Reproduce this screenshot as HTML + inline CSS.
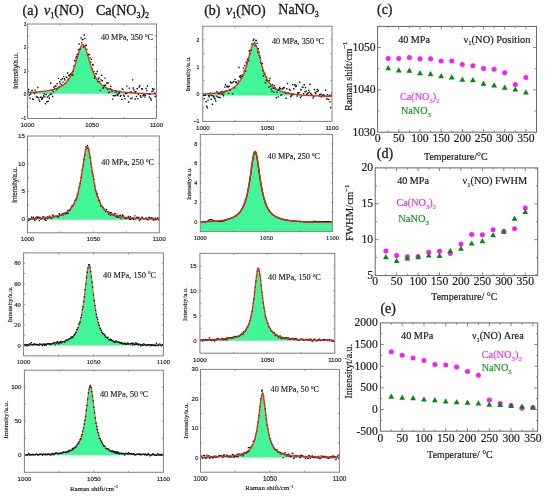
<!DOCTYPE html><html><head><meta charset="utf-8"><style>html,body{margin:0;padding:0;background:#fff;}svg{display:block;}</style></head><body><svg width="550" height="497" viewBox="0 0 550 497" style="will-change:transform">
<rect width="550" height="497" fill="#fff"/>
<clipPath id="a1"><rect x="27.5" y="24" width="129.0" height="94.5"/></clipPath>
<g clip-path="url(#a1)">
<polygon points="27.50,93.69 27.50,92.45 27.82,92.44 28.14,92.43 28.47,92.41 28.79,92.40 29.11,92.38 29.43,92.37 29.76,92.35 30.08,92.34 30.40,92.32 30.73,92.31 31.05,92.29 31.37,92.28 31.69,92.26 32.02,92.24 32.34,92.22 32.66,92.21 32.98,92.19 33.30,92.17 33.63,92.15 33.95,92.13 34.27,92.11 34.59,92.09 34.92,92.07 35.24,92.05 35.56,92.03 35.88,92.01 36.21,91.98 36.53,91.96 36.85,91.94 37.17,91.91 37.50,91.89 37.82,91.86 38.14,91.84 38.47,91.81 38.79,91.78 39.11,91.76 39.43,91.73 39.76,91.70 40.08,91.67 40.40,91.64 40.72,91.61 41.05,91.58 41.37,91.54 41.69,91.51 42.01,91.48 42.34,91.44 42.66,91.41 42.98,91.37 43.30,91.33 43.62,91.29 43.95,91.26 44.27,91.22 44.59,91.17 44.92,91.13 45.24,91.09 45.56,91.04 45.88,91.00 46.20,90.95 46.53,90.90 46.85,90.86 47.17,90.81 47.50,90.75 47.82,90.70 48.14,90.65 48.46,90.59 48.78,90.53 49.11,90.47 49.43,90.41 49.75,90.35 50.08,90.29 50.40,90.22 50.72,90.15 51.04,90.08 51.36,90.01 51.69,89.94 52.01,89.86 52.33,89.79 52.66,89.71 52.98,89.62 53.30,89.54 53.62,89.45 53.94,89.36 54.27,89.27 54.59,89.17 54.91,89.07 55.23,88.97 55.56,88.86 55.88,88.76 56.20,88.64 56.53,88.53 56.85,88.41 57.17,88.29 57.49,88.16 57.81,88.03 58.14,87.89 58.46,87.75 58.78,87.61 59.11,87.46 59.43,87.30 59.75,87.14 60.07,86.97 60.40,86.80 60.72,86.62 61.04,86.44 61.36,86.24 61.69,86.05 62.01,85.84 62.33,85.62 62.65,85.40 62.98,85.17 63.30,84.93 63.62,84.68 63.94,84.43 64.26,84.16 64.59,83.88 64.91,83.59 65.23,83.29 65.56,82.98 65.88,82.65 66.20,82.31 66.52,81.96 66.84,81.59 67.17,81.21 67.49,80.81 67.81,80.39 68.13,79.96 68.46,79.51 68.78,79.04 69.10,78.55 69.43,78.04 69.75,77.51 70.07,76.96 70.39,76.38 70.72,75.78 71.04,75.16 71.36,74.51 71.68,73.83 72.00,73.13 72.33,72.39 72.65,71.63 72.97,70.84 73.29,70.02 73.62,69.17 73.94,68.29 74.26,67.38 74.59,66.44 74.91,65.47 75.23,64.48 75.55,63.46 75.88,62.41 76.20,61.35 76.52,60.26 76.84,59.16 77.16,58.05 77.49,56.94 77.81,55.82 78.13,54.71 78.46,53.62 78.78,52.55 79.10,51.50 79.42,50.50 79.75,49.54 80.07,48.65 80.39,47.82 80.71,47.06 81.03,46.40 81.36,45.83 81.68,45.36 82.00,45.00 82.32,44.75 82.65,44.62 82.97,44.62 83.29,44.73 83.62,44.95 83.94,45.29 84.26,45.75 84.58,46.30 84.91,46.95 85.23,47.69 85.55,48.51 85.87,49.40 86.19,50.35 86.52,51.35 86.84,52.39 87.16,53.47 87.49,54.56 87.81,55.67 88.13,56.79 88.45,57.91 88.78,59.03 89.10,60.14 89.42,61.23 89.74,62.30 90.06,63.36 90.39,64.39 90.71,65.39 91.03,66.37 91.35,67.32 91.68,68.24 92.00,69.13 92.32,69.99 92.64,70.82 92.97,71.62 93.29,72.40 93.61,73.14 93.94,73.85 94.26,74.54 94.58,75.20 94.90,75.84 95.23,76.45 95.55,77.03 95.87,77.60 96.19,78.14 96.52,78.65 96.84,79.15 97.16,79.63 97.48,80.09 97.81,80.53 98.13,80.95 98.45,81.36 98.77,81.75 99.10,82.12 99.42,82.48 99.74,82.83 100.06,83.16 100.38,83.48 100.71,83.79 101.03,84.09 101.35,84.38 101.67,84.65 102.00,84.91 102.32,85.17 102.64,85.42 102.96,85.65 103.29,85.88 103.61,86.10 103.93,86.31 104.25,86.52 104.58,86.72 104.90,86.91 105.22,87.09 105.55,87.27 105.87,87.44 106.19,87.61 106.51,87.77 106.83,87.93 107.16,88.08 107.48,88.22 107.80,88.37 108.12,88.50 108.45,88.64 108.77,88.77 109.09,88.89 109.42,89.01 109.74,89.13 110.06,89.24 110.38,89.35 110.70,89.46 111.03,89.56 111.35,89.67 111.67,89.76 112.00,89.86 112.32,89.95 112.64,90.04 112.96,90.13 113.29,90.22 113.61,90.30 113.93,90.38 114.25,90.46 114.58,90.54 114.90,90.61 115.22,90.68 115.54,90.75 115.87,90.82 116.19,90.89 116.51,90.96 116.83,91.02 117.15,91.08 117.48,91.14 117.80,91.20 118.12,91.26 118.44,91.32 118.77,91.37 119.09,91.43 119.41,91.48 119.73,91.53 120.06,91.58 120.38,91.63 120.70,91.68 121.02,91.73 121.35,91.77 121.67,91.82 121.99,91.86 122.31,91.90 122.64,91.95 122.96,91.99 123.28,92.03 123.61,92.07 123.93,92.11 124.25,92.14 124.57,92.18 124.89,92.22 125.22,92.25 125.54,92.29 125.86,92.32 126.19,92.36 126.51,92.39 126.83,92.42 127.15,92.45 127.48,92.49 127.80,92.52 128.12,92.55 128.44,92.58 128.76,92.60 129.09,92.63 129.41,92.66 129.73,92.69 130.06,92.71 130.38,92.74 130.70,92.77 131.02,92.79 131.35,92.82 131.67,92.84 131.99,92.87 132.31,92.89 132.63,92.91 132.96,92.94 133.28,92.96 133.60,92.98 133.93,93.00 134.25,93.03 134.57,93.05 134.89,93.07 135.21,93.09 135.54,93.11 135.86,93.13 136.18,93.15 136.50,93.17 136.83,93.19 137.15,93.21 137.47,93.22 137.80,93.24 138.12,93.26 138.44,93.28 138.76,93.30 139.08,93.31 139.41,93.33 139.73,93.35 140.05,93.36 140.38,93.38 140.70,93.39 141.02,93.41 141.34,93.43 141.67,93.44 141.99,93.46 142.31,93.47 142.63,93.49 142.95,93.50 143.28,93.52 143.60,93.53 143.92,93.54 144.25,93.56 144.57,93.57 144.89,93.58 145.21,93.60 145.54,93.61 145.86,93.62 146.18,93.64 146.50,93.65 146.82,93.66 147.15,93.67 147.47,93.69 147.79,93.69 148.12,93.69 148.44,93.69 148.76,93.69 149.08,93.69 149.40,93.69 149.73,93.69 150.05,93.69 150.37,93.69 150.69,93.69 151.02,93.69 151.34,93.69 151.66,93.69 151.99,93.69 152.31,93.69 152.63,93.69 152.95,93.69 153.27,93.69 153.60,93.69 153.92,93.69 154.24,93.69 154.56,93.69 154.89,93.69 155.21,93.69 155.53,93.69 155.85,93.69 156.18,93.69 156.50,93.69 156.50,93.69" fill="#42f597"/>
<path d="M26.80,96.09h1.40v1.40h-1.40zM27.45,90.68h1.40v1.40h-1.40zM28.09,88.76h1.40v1.40h-1.40zM28.73,94.37h1.40v1.40h-1.40zM29.38,97.53h1.40v1.40h-1.40zM30.03,93.32h1.40v1.40h-1.40zM30.67,91.65h1.40v1.40h-1.40zM31.32,89.72h1.40v1.40h-1.40zM31.96,98.18h1.40v1.40h-1.40zM32.60,98.71h1.40v1.40h-1.40zM33.25,91.88h1.40v1.40h-1.40zM33.89,92.96h1.40v1.40h-1.40zM34.54,89.46h1.40v1.40h-1.40zM35.18,91.66h1.40v1.40h-1.40zM35.83,95.75h1.40v1.40h-1.40zM36.47,96.61h1.40v1.40h-1.40zM37.12,86.78h1.40v1.40h-1.40zM37.77,97.15h1.40v1.40h-1.40zM38.41,99.15h1.40v1.40h-1.40zM39.05,100.64h1.40v1.40h-1.40zM39.70,96.51h1.40v1.40h-1.40zM40.34,96.56h1.40v1.40h-1.40zM40.99,98.53h1.40v1.40h-1.40zM41.63,97.75h1.40v1.40h-1.40zM42.28,96.79h1.40v1.40h-1.40zM42.92,95.03h1.40v1.40h-1.40zM43.57,93.32h1.40v1.40h-1.40zM44.22,96.19h1.40v1.40h-1.40zM44.86,102.99h1.40v1.40h-1.40zM45.50,93.87h1.40v1.40h-1.40zM46.15,101.09h1.40v1.40h-1.40zM46.80,96.37h1.40v1.40h-1.40zM47.44,100.68h1.40v1.40h-1.40zM48.08,95.14h1.40v1.40h-1.40zM48.73,97.59h1.40v1.40h-1.40zM49.38,93.75h1.40v1.40h-1.40zM50.02,82.48h1.40v1.40h-1.40zM50.66,93.32h1.40v1.40h-1.40zM51.31,89.13h1.40v1.40h-1.40zM51.95,95.76h1.40v1.40h-1.40zM52.60,91.04h1.40v1.40h-1.40zM53.24,86.61h1.40v1.40h-1.40zM53.89,88.21h1.40v1.40h-1.40zM54.53,85.48h1.40v1.40h-1.40zM55.18,85.33h1.40v1.40h-1.40zM55.83,88.93h1.40v1.40h-1.40zM56.47,83.03h1.40v1.40h-1.40zM57.11,87.55h1.40v1.40h-1.40zM57.76,77.66h1.40v1.40h-1.40zM58.41,85.69h1.40v1.40h-1.40zM59.05,81.05h1.40v1.40h-1.40zM59.70,83.04h1.40v1.40h-1.40zM60.34,79.21h1.40v1.40h-1.40zM60.98,84.23h1.40v1.40h-1.40zM61.63,78.04h1.40v1.40h-1.40zM62.27,81.47h1.40v1.40h-1.40zM62.92,75.96h1.40v1.40h-1.40zM63.56,77.96h1.40v1.40h-1.40zM64.21,79.35h1.40v1.40h-1.40zM64.86,82.26h1.40v1.40h-1.40zM65.50,76.36h1.40v1.40h-1.40zM66.14,76.95h1.40v1.40h-1.40zM66.79,72.27h1.40v1.40h-1.40zM67.43,78.83h1.40v1.40h-1.40zM68.08,74.86h1.40v1.40h-1.40zM68.73,74.28h1.40v1.40h-1.40zM69.37,74.25h1.40v1.40h-1.40zM70.02,73.59h1.40v1.40h-1.40zM70.66,72.66h1.40v1.40h-1.40zM71.30,74.29h1.40v1.40h-1.40zM71.95,74.53h1.40v1.40h-1.40zM72.59,70.61h1.40v1.40h-1.40zM73.24,65.26h1.40v1.40h-1.40zM73.89,60.03h1.40v1.40h-1.40zM74.53,59.84h1.40v1.40h-1.40zM75.17,57.39h1.40v1.40h-1.40zM75.82,56.10h1.40v1.40h-1.40zM76.46,54.05h1.40v1.40h-1.40zM77.11,53.53h1.40v1.40h-1.40zM77.76,49.12h1.40v1.40h-1.40zM78.40,43.34h1.40v1.40h-1.40zM79.05,48.71h1.40v1.40h-1.40zM79.69,48.16h1.40v1.40h-1.40zM80.33,37.22h1.40v1.40h-1.40zM80.98,42.14h1.40v1.40h-1.40zM81.62,38.84h1.40v1.40h-1.40zM82.27,38.93h1.40v1.40h-1.40zM82.92,46.27h1.40v1.40h-1.40zM83.56,34.30h1.40v1.40h-1.40zM84.20,37.72h1.40v1.40h-1.40zM84.85,44.82h1.40v1.40h-1.40zM85.49,44.54h1.40v1.40h-1.40zM86.14,48.71h1.40v1.40h-1.40zM86.79,54.38h1.40v1.40h-1.40zM87.43,53.79h1.40v1.40h-1.40zM88.08,54.22h1.40v1.40h-1.40zM88.72,53.71h1.40v1.40h-1.40zM89.36,57.19h1.40v1.40h-1.40zM90.01,61.44h1.40v1.40h-1.40zM90.65,58.70h1.40v1.40h-1.40zM91.30,67.92h1.40v1.40h-1.40zM91.94,64.02h1.40v1.40h-1.40zM92.59,64.38h1.40v1.40h-1.40zM93.23,70.73h1.40v1.40h-1.40zM93.88,77.30h1.40v1.40h-1.40zM94.53,75.64h1.40v1.40h-1.40zM95.17,72.95h1.40v1.40h-1.40zM95.81,73.20h1.40v1.40h-1.40zM96.46,70.79h1.40v1.40h-1.40zM97.11,80.95h1.40v1.40h-1.40zM97.75,78.44h1.40v1.40h-1.40zM98.40,77.13h1.40v1.40h-1.40zM99.04,80.92h1.40v1.40h-1.40zM99.68,89.63h1.40v1.40h-1.40zM100.33,79.20h1.40v1.40h-1.40zM100.97,74.65h1.40v1.40h-1.40zM101.62,80.02h1.40v1.40h-1.40zM102.26,87.54h1.40v1.40h-1.40zM102.91,86.42h1.40v1.40h-1.40zM103.55,84.81h1.40v1.40h-1.40zM104.20,77.39h1.40v1.40h-1.40zM104.84,84.60h1.40v1.40h-1.40zM105.49,86.95h1.40v1.40h-1.40zM106.13,82.37h1.40v1.40h-1.40zM106.78,88.70h1.40v1.40h-1.40zM107.42,82.31h1.40v1.40h-1.40zM108.07,91.82h1.40v1.40h-1.40zM108.72,91.54h1.40v1.40h-1.40zM109.36,87.76h1.40v1.40h-1.40zM110.00,85.71h1.40v1.40h-1.40zM110.65,88.86h1.40v1.40h-1.40zM111.30,90.53h1.40v1.40h-1.40zM111.94,98.46h1.40v1.40h-1.40zM112.59,94.92h1.40v1.40h-1.40zM113.23,94.94h1.40v1.40h-1.40zM113.88,95.05h1.40v1.40h-1.40zM114.52,91.45h1.40v1.40h-1.40zM115.17,94.77h1.40v1.40h-1.40zM115.81,90.84h1.40v1.40h-1.40zM116.45,93.38h1.40v1.40h-1.40zM117.10,94.89h1.40v1.40h-1.40zM117.74,93.32h1.40v1.40h-1.40zM118.39,92.24h1.40v1.40h-1.40zM119.03,90.74h1.40v1.40h-1.40zM119.68,95.49h1.40v1.40h-1.40zM120.32,94.63h1.40v1.40h-1.40zM120.97,98.65h1.40v1.40h-1.40zM121.61,88.14h1.40v1.40h-1.40zM122.26,88.67h1.40v1.40h-1.40zM122.91,94.45h1.40v1.40h-1.40zM123.55,95.50h1.40v1.40h-1.40zM124.19,98.02h1.40v1.40h-1.40zM124.84,92.88h1.40v1.40h-1.40zM125.48,92.58h1.40v1.40h-1.40zM126.13,85.41h1.40v1.40h-1.40zM126.78,92.09h1.40v1.40h-1.40zM127.42,95.55h1.40v1.40h-1.40zM128.06,101.28h1.40v1.40h-1.40zM128.71,87.44h1.40v1.40h-1.40zM129.36,91.58h1.40v1.40h-1.40zM130.00,97.77h1.40v1.40h-1.40zM130.65,91.24h1.40v1.40h-1.40zM131.29,97.39h1.40v1.40h-1.40zM131.94,79.17h1.40v1.40h-1.40zM132.58,87.35h1.40v1.40h-1.40zM133.23,89.09h1.40v1.40h-1.40zM133.87,91.55h1.40v1.40h-1.40zM134.51,98.32h1.40v1.40h-1.40zM135.16,90.99h1.40v1.40h-1.40zM135.81,95.85h1.40v1.40h-1.40zM136.45,88.03h1.40v1.40h-1.40zM137.10,97.88h1.40v1.40h-1.40zM137.74,93.67h1.40v1.40h-1.40zM138.38,86.28h1.40v1.40h-1.40zM139.03,84.93h1.40v1.40h-1.40zM139.68,95.09h1.40v1.40h-1.40zM140.32,96.49h1.40v1.40h-1.40zM140.97,88.09h1.40v1.40h-1.40zM141.61,88.33h1.40v1.40h-1.40zM142.25,95.00h1.40v1.40h-1.40zM142.90,94.11h1.40v1.40h-1.40zM143.55,94.25h1.40v1.40h-1.40zM144.19,96.15h1.40v1.40h-1.40zM144.84,94.49h1.40v1.40h-1.40zM145.48,87.80h1.40v1.40h-1.40zM146.12,89.93h1.40v1.40h-1.40zM146.77,85.23h1.40v1.40h-1.40zM147.42,92.96h1.40v1.40h-1.40zM148.06,93.28h1.40v1.40h-1.40zM148.70,96.42h1.40v1.40h-1.40zM149.35,93.52h1.40v1.40h-1.40zM150.00,97.76h1.40v1.40h-1.40zM150.64,99.42h1.40v1.40h-1.40zM151.29,90.67h1.40v1.40h-1.40zM151.93,88.06h1.40v1.40h-1.40zM152.57,90.22h1.40v1.40h-1.40zM153.22,88.48h1.40v1.40h-1.40zM153.87,92.33h1.40v1.40h-1.40zM154.51,95.79h1.40v1.40h-1.40zM155.16,92.96h1.40v1.40h-1.40zM155.80,94.61h1.40v1.40h-1.40z" fill="#111"/>
<polyline points="27.50,92.45 27.82,92.44 28.14,92.43 28.47,92.41 28.79,92.40 29.11,92.38 29.43,92.37 29.76,92.35 30.08,92.34 30.40,92.32 30.73,92.31 31.05,92.29 31.37,92.28 31.69,92.26 32.02,92.24 32.34,92.22 32.66,92.21 32.98,92.19 33.30,92.17 33.63,92.15 33.95,92.13 34.27,92.11 34.59,92.09 34.92,92.07 35.24,92.05 35.56,92.03 35.88,92.01 36.21,91.98 36.53,91.96 36.85,91.94 37.17,91.91 37.50,91.89 37.82,91.86 38.14,91.84 38.47,91.81 38.79,91.78 39.11,91.76 39.43,91.73 39.76,91.70 40.08,91.67 40.40,91.64 40.72,91.61 41.05,91.58 41.37,91.54 41.69,91.51 42.01,91.48 42.34,91.44 42.66,91.41 42.98,91.37 43.30,91.33 43.62,91.29 43.95,91.26 44.27,91.22 44.59,91.17 44.92,91.13 45.24,91.09 45.56,91.04 45.88,91.00 46.20,90.95 46.53,90.90 46.85,90.86 47.17,90.81 47.50,90.75 47.82,90.70 48.14,90.65 48.46,90.59 48.78,90.53 49.11,90.47 49.43,90.41 49.75,90.35 50.08,90.29 50.40,90.22 50.72,90.15 51.04,90.08 51.36,90.01 51.69,89.94 52.01,89.86 52.33,89.79 52.66,89.71 52.98,89.62 53.30,89.54 53.62,89.45 53.94,89.36 54.27,89.27 54.59,89.17 54.91,89.07 55.23,88.97 55.56,88.86 55.88,88.76 56.20,88.64 56.53,88.53 56.85,88.41 57.17,88.29 57.49,88.16 57.81,88.03 58.14,87.89 58.46,87.75 58.78,87.61 59.11,87.46 59.43,87.30 59.75,87.14 60.07,86.97 60.40,86.80 60.72,86.62 61.04,86.44 61.36,86.24 61.69,86.05 62.01,85.84 62.33,85.62 62.65,85.40 62.98,85.17 63.30,84.93 63.62,84.68 63.94,84.43 64.26,84.16 64.59,83.88 64.91,83.59 65.23,83.29 65.56,82.98 65.88,82.65 66.20,82.31 66.52,81.96 66.84,81.59 67.17,81.21 67.49,80.81 67.81,80.39 68.13,79.96 68.46,79.51 68.78,79.04 69.10,78.55 69.43,78.04 69.75,77.51 70.07,76.96 70.39,76.38 70.72,75.78 71.04,75.16 71.36,74.51 71.68,73.83 72.00,73.13 72.33,72.39 72.65,71.63 72.97,70.84 73.29,70.02 73.62,69.17 73.94,68.29 74.26,67.38 74.59,66.44 74.91,65.47 75.23,64.48 75.55,63.46 75.88,62.41 76.20,61.35 76.52,60.26 76.84,59.16 77.16,58.05 77.49,56.94 77.81,55.82 78.13,54.71 78.46,53.62 78.78,52.55 79.10,51.50 79.42,50.50 79.75,49.54 80.07,48.65 80.39,47.82 80.71,47.06 81.03,46.40 81.36,45.83 81.68,45.36 82.00,45.00 82.32,44.75 82.65,44.62 82.97,44.62 83.29,44.73 83.62,44.95 83.94,45.29 84.26,45.75 84.58,46.30 84.91,46.95 85.23,47.69 85.55,48.51 85.87,49.40 86.19,50.35 86.52,51.35 86.84,52.39 87.16,53.47 87.49,54.56 87.81,55.67 88.13,56.79 88.45,57.91 88.78,59.03 89.10,60.14 89.42,61.23 89.74,62.30 90.06,63.36 90.39,64.39 90.71,65.39 91.03,66.37 91.35,67.32 91.68,68.24 92.00,69.13 92.32,69.99 92.64,70.82 92.97,71.62 93.29,72.40 93.61,73.14 93.94,73.85 94.26,74.54 94.58,75.20 94.90,75.84 95.23,76.45 95.55,77.03 95.87,77.60 96.19,78.14 96.52,78.65 96.84,79.15 97.16,79.63 97.48,80.09 97.81,80.53 98.13,80.95 98.45,81.36 98.77,81.75 99.10,82.12 99.42,82.48 99.74,82.83 100.06,83.16 100.38,83.48 100.71,83.79 101.03,84.09 101.35,84.38 101.67,84.65 102.00,84.91 102.32,85.17 102.64,85.42 102.96,85.65 103.29,85.88 103.61,86.10 103.93,86.31 104.25,86.52 104.58,86.72 104.90,86.91 105.22,87.09 105.55,87.27 105.87,87.44 106.19,87.61 106.51,87.77 106.83,87.93 107.16,88.08 107.48,88.22 107.80,88.37 108.12,88.50 108.45,88.64 108.77,88.77 109.09,88.89 109.42,89.01 109.74,89.13 110.06,89.24 110.38,89.35 110.70,89.46 111.03,89.56 111.35,89.67 111.67,89.76 112.00,89.86 112.32,89.95 112.64,90.04 112.96,90.13 113.29,90.22 113.61,90.30 113.93,90.38 114.25,90.46 114.58,90.54 114.90,90.61 115.22,90.68 115.54,90.75 115.87,90.82 116.19,90.89 116.51,90.96 116.83,91.02 117.15,91.08 117.48,91.14 117.80,91.20 118.12,91.26 118.44,91.32 118.77,91.37 119.09,91.43 119.41,91.48 119.73,91.53 120.06,91.58 120.38,91.63 120.70,91.68 121.02,91.73 121.35,91.77 121.67,91.82 121.99,91.86 122.31,91.90 122.64,91.95 122.96,91.99 123.28,92.03 123.61,92.07 123.93,92.11 124.25,92.14 124.57,92.18 124.89,92.22 125.22,92.25 125.54,92.29 125.86,92.32 126.19,92.36 126.51,92.39 126.83,92.42 127.15,92.45 127.48,92.49 127.80,92.52 128.12,92.55 128.44,92.58 128.76,92.60 129.09,92.63 129.41,92.66 129.73,92.69 130.06,92.71 130.38,92.74 130.70,92.77 131.02,92.79 131.35,92.82 131.67,92.84 131.99,92.87 132.31,92.89 132.63,92.91 132.96,92.94 133.28,92.96 133.60,92.98 133.93,93.00 134.25,93.03 134.57,93.05 134.89,93.07 135.21,93.09 135.54,93.11 135.86,93.13 136.18,93.15 136.50,93.17 136.83,93.19 137.15,93.21 137.47,93.22 137.80,93.24 138.12,93.26 138.44,93.28 138.76,93.30 139.08,93.31 139.41,93.33 139.73,93.35 140.05,93.36 140.38,93.38 140.70,93.39 141.02,93.41 141.34,93.43 141.67,93.44 141.99,93.46 142.31,93.47 142.63,93.49 142.95,93.50 143.28,93.52 143.60,93.53 143.92,93.54 144.25,93.56 144.57,93.57 144.89,93.58 145.21,93.60 145.54,93.61 145.86,93.62 146.18,93.64 146.50,93.65 146.82,93.66 147.15,93.67 147.47,93.69 147.79,93.70 148.12,93.71 148.44,93.72 148.76,93.73 149.08,93.75 149.40,93.76 149.73,93.77 150.05,93.78 150.37,93.79 150.69,93.80 151.02,93.81 151.34,93.82 151.66,93.83 151.99,93.84 152.31,93.85 152.63,93.87 152.95,93.88 153.27,93.89 153.60,93.90 153.92,93.91 154.24,93.91 154.56,93.92 154.89,93.93 155.21,93.94 155.53,93.95 155.85,93.96 156.18,93.97 156.50,93.98" fill="none" stroke="#e8261c" stroke-width="1.3" stroke-linejoin="round"/>
</g>
<rect x="27.5" y="24" width="129.0" height="94.5" fill="none" stroke="#808080" stroke-width="1"/>
<path d="M59.75,118.5v-1.6M59.75,24v1.6M92.00,118.5v-1.6M92.00,24v1.6M124.25,118.5v-1.6M124.25,24v1.6M27.5,106.69h1.6M156.5,106.69h-1.6M27.5,94.88h1.6M156.5,94.88h-1.6M27.5,83.06h1.6M156.5,83.06h-1.6M27.5,71.25h1.6M156.5,71.25h-1.6M27.5,59.44h1.6M156.5,59.44h-1.6M27.5,47.62h1.6M156.5,47.62h-1.6M27.5,35.81h1.6M156.5,35.81h-1.6" stroke="#808080" stroke-width="0.8" fill="none"/>
<text x="27.50" y="126.80" font-family="'Liberation Sans', sans-serif" font-size="6.1" text-anchor="middle" fill="#1e1e1e" stroke="#1e1e1e" stroke-width="0.16">1000</text>
<text x="92.00" y="126.80" font-family="'Liberation Sans', sans-serif" font-size="6.1" text-anchor="middle" fill="#1e1e1e" stroke="#1e1e1e" stroke-width="0.16">1050</text>
<text x="156.50" y="126.80" font-family="'Liberation Sans', sans-serif" font-size="6.1" text-anchor="middle" fill="#1e1e1e" stroke="#1e1e1e" stroke-width="0.16">1100</text>
<text x="26.20" y="120.06" font-family="'Liberation Sans', sans-serif" font-size="4.6" text-anchor="end" fill="#1e1e1e" stroke="#1e1e1e" stroke-width="0.16">&#8722;1</text>
<text x="26.20" y="96.44" font-family="'Liberation Sans', sans-serif" font-size="4.6" text-anchor="end" fill="#1e1e1e" stroke="#1e1e1e" stroke-width="0.16">0</text>
<text x="26.20" y="72.81" font-family="'Liberation Sans', sans-serif" font-size="4.6" text-anchor="end" fill="#1e1e1e" stroke="#1e1e1e" stroke-width="0.16">1</text>
<text x="26.20" y="49.19" font-family="'Liberation Sans', sans-serif" font-size="4.6" text-anchor="end" fill="#1e1e1e" stroke="#1e1e1e" stroke-width="0.16">2</text>
<text x="26.20" y="25.56" font-family="'Liberation Sans', sans-serif" font-size="4.6" text-anchor="end" fill="#1e1e1e" stroke="#1e1e1e" stroke-width="0.16">3</text>
<text x="18.30" y="70.80" font-family="'Liberation Sans', sans-serif" font-size="6.4" text-anchor="middle" fill="#1e1e1e" stroke="#1e1e1e" stroke-width="0.16" transform="rotate(-90 18.30 70.80)" textLength="36" lengthAdjust="spacingAndGlyphs">Intensity/a.u.</text>
<text x="100.90" y="39.70" font-family="'Liberation Serif', serif" font-size="8.6" text-anchor="start" fill="#1a1a1a" stroke="#1a1a1a" stroke-width="0.15" textLength="52" lengthAdjust="spacingAndGlyphs">40 MPa, 350 <tspan font-size="5.16" dy="-3.01">o</tspan><tspan dy="3.01">C</tspan></text>
<clipPath id="a2"><rect x="27.5" y="136" width="131.8" height="96.80000000000001"/></clipPath>
<g clip-path="url(#a2)">
<polygon points="27.50,219.64 27.50,218.79 27.83,218.78 28.16,218.77 28.49,218.76 28.82,218.75 29.15,218.74 29.48,218.72 29.81,218.71 30.14,218.70 30.47,218.69 30.80,218.67 31.12,218.66 31.45,218.65 31.78,218.63 32.11,218.62 32.44,218.61 32.77,218.59 33.10,218.58 33.43,218.56 33.76,218.55 34.09,218.53 34.42,218.52 34.75,218.50 35.08,218.48 35.41,218.47 35.74,218.45 36.07,218.43 36.40,218.42 36.73,218.40 37.06,218.38 37.38,218.36 37.71,218.34 38.04,218.32 38.37,218.30 38.70,218.28 39.03,218.26 39.36,218.24 39.69,218.22 40.02,218.20 40.35,218.18 40.68,218.16 41.01,218.13 41.34,218.11 41.67,218.08 42.00,218.06 42.33,218.04 42.66,218.01 42.99,217.98 43.32,217.96 43.65,217.93 43.98,217.90 44.30,217.87 44.63,217.84 44.96,217.81 45.29,217.78 45.62,217.75 45.95,217.72 46.28,217.69 46.61,217.65 46.94,217.62 47.27,217.59 47.60,217.55 47.93,217.51 48.26,217.47 48.59,217.44 48.92,217.40 49.25,217.36 49.58,217.31 49.91,217.27 50.24,217.23 50.56,217.18 50.89,217.14 51.22,217.09 51.55,217.04 51.88,216.99 52.21,216.94 52.54,216.89 52.87,216.83 53.20,216.78 53.53,216.72 53.86,216.66 54.19,216.60 54.52,216.54 54.85,216.48 55.18,216.41 55.51,216.35 55.84,216.28 56.17,216.20 56.50,216.13 56.83,216.05 57.16,215.98 57.48,215.90 57.81,215.81 58.14,215.73 58.47,215.64 58.80,215.55 59.13,215.45 59.46,215.35 59.79,215.25 60.12,215.15 60.45,215.04 60.78,214.93 61.11,214.81 61.44,214.69 61.77,214.57 62.10,214.44 62.43,214.31 62.76,214.17 63.09,214.03 63.42,213.88 63.75,213.73 64.07,213.57 64.40,213.40 64.73,213.23 65.06,213.05 65.39,212.87 65.72,212.67 66.05,212.47 66.38,212.26 66.71,212.04 67.04,211.82 67.37,211.58 67.70,211.33 68.03,211.07 68.36,210.80 68.69,210.52 69.02,210.22 69.35,209.92 69.68,209.59 70.01,209.26 70.34,208.90 70.66,208.53 70.99,208.14 71.32,207.73 71.65,207.30 71.98,206.85 72.31,206.38 72.64,205.88 72.97,205.36 73.30,204.81 73.63,204.23 73.96,203.62 74.29,202.97 74.62,202.29 74.95,201.58 75.28,200.82 75.61,200.02 75.94,199.18 76.27,198.29 76.60,197.35 76.93,196.35 77.25,195.30 77.58,194.19 77.91,193.02 78.24,191.78 78.57,190.47 78.90,189.09 79.23,187.64 79.56,186.11 79.89,184.50 80.22,182.81 80.55,181.04 80.88,179.20 81.21,177.27 81.54,175.27 81.87,173.21 82.20,171.09 82.53,168.91 82.86,166.71 83.19,164.49 83.52,162.27 83.84,160.08 84.17,157.94 84.50,155.89 84.83,153.96 85.16,152.19 85.49,150.60 85.82,149.23 86.15,148.11 86.48,147.28 86.81,146.74 87.14,146.52 87.47,146.61 87.80,147.02 88.13,147.74 88.46,148.75 88.79,150.02 89.12,151.53 89.45,153.23 89.78,155.10 90.11,157.11 90.43,159.22 90.76,161.39 91.09,163.60 91.42,165.82 91.75,168.04 92.08,170.22 92.41,172.37 92.74,174.46 93.07,176.48 93.40,178.43 93.73,180.31 94.06,182.11 94.39,183.83 94.72,185.47 95.05,187.04 95.38,188.52 95.71,189.93 96.04,191.26 96.37,192.53 96.70,193.73 97.02,194.86 97.35,195.94 97.68,196.96 98.01,197.92 98.34,198.83 98.67,199.69 99.00,200.51 99.33,201.28 99.66,202.01 99.99,202.71 100.32,203.36 100.65,203.99 100.98,204.58 101.31,205.14 101.64,205.68 101.97,206.18 102.30,206.67 102.63,207.13 102.96,207.56 103.28,207.98 103.61,208.38 103.94,208.76 104.27,209.12 104.60,209.46 104.93,209.79 105.26,210.10 105.59,210.40 105.92,210.69 106.25,210.97 106.58,211.23 106.91,211.48 107.24,211.72 107.57,211.95 107.90,212.18 108.23,212.39 108.56,212.59 108.89,212.79 109.22,212.98 109.55,213.16 109.88,213.34 110.20,213.50 110.53,213.67 110.86,213.82 111.19,213.97 111.52,214.12 111.85,214.26 112.18,214.39 112.51,214.52 112.84,214.65 113.17,214.77 113.50,214.88 113.83,215.00 114.16,215.11 114.49,215.21 114.82,215.31 115.15,215.41 115.48,215.51 115.81,215.60 116.14,215.69 116.47,215.78 116.79,215.86 117.12,215.94 117.45,216.02 117.78,216.10 118.11,216.18 118.44,216.25 118.77,216.32 119.10,216.39 119.43,216.45 119.76,216.52 120.09,216.58 120.42,216.64 120.75,216.70 121.08,216.76 121.41,216.81 121.74,216.87 122.07,216.92 122.40,216.97 122.73,217.02 123.06,217.07 123.38,217.12 123.71,217.17 124.04,217.21 124.37,217.25 124.70,217.30 125.03,217.34 125.36,217.38 125.69,217.42 126.02,217.46 126.35,217.50 126.68,217.53 127.01,217.57 127.34,217.61 127.67,217.64 128.00,217.67 128.33,217.71 128.66,217.74 128.99,217.77 129.32,217.80 129.65,217.83 129.97,217.86 130.30,217.89 130.63,217.92 130.96,217.95 131.29,217.97 131.62,218.00 131.95,218.03 132.28,218.05 132.61,218.08 132.94,218.10 133.27,218.12 133.60,218.15 133.93,218.17 134.26,218.19 134.59,218.21 134.92,218.23 135.25,218.26 135.58,218.28 135.91,218.30 136.24,218.32 136.56,218.34 136.89,218.35 137.22,218.37 137.55,218.39 137.88,218.41 138.21,218.43 138.54,218.44 138.87,218.46 139.20,218.48 139.53,218.49 139.86,218.51 140.19,218.53 140.52,218.54 140.85,218.56 141.18,218.57 141.51,218.59 141.84,218.60 142.17,218.61 142.50,218.63 142.83,218.64 143.15,218.66 143.48,218.67 143.81,218.68 144.14,218.69 144.47,218.71 144.80,218.72 145.13,218.73 145.46,218.74 145.79,218.75 146.12,218.77 146.45,218.78 146.78,218.79 147.11,218.80 147.44,218.81 147.77,218.82 148.10,218.83 148.43,218.84 148.76,218.85 149.09,218.86 149.42,218.87 149.74,218.88 150.07,218.89 150.40,218.90 150.73,218.91 151.06,218.92 151.39,218.93 151.72,218.94 152.05,218.94 152.38,218.95 152.71,218.96 153.04,218.97 153.37,218.98 153.70,218.99 154.03,218.99 154.36,219.00 154.69,219.01 155.02,219.02 155.35,219.02 155.68,219.03 156.00,219.04 156.33,219.05 156.66,219.05 156.99,219.06 157.32,219.07 157.65,219.07 157.98,219.08 158.31,219.09 158.64,219.09 158.97,219.10 159.30,219.11 159.30,219.64" fill="#42f597"/>
<path d="M26.85,219.37h1.30v1.30h-1.30zM27.51,219.99h1.30v1.30h-1.30zM28.17,219.74h1.30v1.30h-1.30zM28.83,218.08h1.30v1.30h-1.30zM29.49,217.88h1.30v1.30h-1.30zM30.15,218.55h1.30v1.30h-1.30zM30.80,216.42h1.30v1.30h-1.30zM31.46,217.77h1.30v1.30h-1.30zM32.12,217.30h1.30v1.30h-1.30zM32.78,216.56h1.30v1.30h-1.30zM33.44,218.79h1.30v1.30h-1.30zM34.10,220.03h1.30v1.30h-1.30zM34.76,216.99h1.30v1.30h-1.30zM35.42,218.55h1.30v1.30h-1.30zM36.08,216.30h1.30v1.30h-1.30zM36.73,217.34h1.30v1.30h-1.30zM37.39,216.56h1.30v1.30h-1.30zM38.05,216.79h1.30v1.30h-1.30zM38.71,219.89h1.30v1.30h-1.30zM39.37,216.75h1.30v1.30h-1.30zM40.03,218.25h1.30v1.30h-1.30zM40.69,218.30h1.30v1.30h-1.30zM41.35,217.89h1.30v1.30h-1.30zM42.01,216.51h1.30v1.30h-1.30zM42.67,216.33h1.30v1.30h-1.30zM43.33,216.13h1.30v1.30h-1.30zM43.98,219.03h1.30v1.30h-1.30zM44.64,217.79h1.30v1.30h-1.30zM45.30,219.70h1.30v1.30h-1.30zM45.96,217.12h1.30v1.30h-1.30zM46.62,216.27h1.30v1.30h-1.30zM47.28,217.71h1.30v1.30h-1.30zM47.94,216.52h1.30v1.30h-1.30zM48.60,216.45h1.30v1.30h-1.30zM49.26,215.51h1.30v1.30h-1.30zM49.91,217.44h1.30v1.30h-1.30zM50.57,217.36h1.30v1.30h-1.30zM51.23,217.19h1.30v1.30h-1.30zM51.89,214.30h1.30v1.30h-1.30zM52.55,214.92h1.30v1.30h-1.30zM53.21,216.15h1.30v1.30h-1.30zM53.87,215.64h1.30v1.30h-1.30zM54.53,215.64h1.30v1.30h-1.30zM55.19,215.40h1.30v1.30h-1.30zM55.85,215.71h1.30v1.30h-1.30zM56.51,215.70h1.30v1.30h-1.30zM57.16,216.55h1.30v1.30h-1.30zM57.82,215.70h1.30v1.30h-1.30zM58.48,212.98h1.30v1.30h-1.30zM59.14,214.01h1.30v1.30h-1.30zM59.80,214.32h1.30v1.30h-1.30zM60.46,214.40h1.30v1.30h-1.30zM61.12,213.85h1.30v1.30h-1.30zM61.78,213.27h1.30v1.30h-1.30zM62.44,214.09h1.30v1.30h-1.30zM63.10,212.86h1.30v1.30h-1.30zM63.75,212.49h1.30v1.30h-1.30zM64.41,213.23h1.30v1.30h-1.30zM65.07,212.90h1.30v1.30h-1.30zM65.73,212.72h1.30v1.30h-1.30zM66.39,212.34h1.30v1.30h-1.30zM67.05,209.70h1.30v1.30h-1.30zM67.71,212.76h1.30v1.30h-1.30zM68.37,209.87h1.30v1.30h-1.30zM69.03,209.62h1.30v1.30h-1.30zM69.69,208.94h1.30v1.30h-1.30zM70.34,207.38h1.30v1.30h-1.30zM71.00,205.41h1.30v1.30h-1.30zM71.66,205.65h1.30v1.30h-1.30zM72.32,204.86h1.30v1.30h-1.30zM72.98,204.26h1.30v1.30h-1.30zM73.64,202.47h1.30v1.30h-1.30zM74.30,199.92h1.30v1.30h-1.30zM74.96,199.81h1.30v1.30h-1.30zM75.62,198.91h1.30v1.30h-1.30zM76.28,197.10h1.30v1.30h-1.30zM76.93,194.77h1.30v1.30h-1.30zM77.59,192.67h1.30v1.30h-1.30zM78.25,187.23h1.30v1.30h-1.30zM78.91,185.07h1.30v1.30h-1.30zM79.57,182.42h1.30v1.30h-1.30zM80.23,176.93h1.30v1.30h-1.30zM80.89,175.35h1.30v1.30h-1.30zM81.55,169.60h1.30v1.30h-1.30zM82.21,165.17h1.30v1.30h-1.30zM82.86,163.33h1.30v1.30h-1.30zM83.52,159.01h1.30v1.30h-1.30zM84.18,154.34h1.30v1.30h-1.30zM84.84,148.94h1.30v1.30h-1.30zM85.50,146.03h1.30v1.30h-1.30zM86.16,147.45h1.30v1.30h-1.30zM86.82,144.80h1.30v1.30h-1.30zM87.48,147.52h1.30v1.30h-1.30zM88.14,149.81h1.30v1.30h-1.30zM88.80,153.19h1.30v1.30h-1.30zM89.45,156.82h1.30v1.30h-1.30zM90.11,162.75h1.30v1.30h-1.30zM90.77,166.28h1.30v1.30h-1.30zM91.43,170.94h1.30v1.30h-1.30zM92.09,173.26h1.30v1.30h-1.30zM92.75,175.47h1.30v1.30h-1.30zM93.41,178.44h1.30v1.30h-1.30zM94.07,185.20h1.30v1.30h-1.30zM94.73,189.77h1.30v1.30h-1.30zM95.39,191.07h1.30v1.30h-1.30zM96.05,194.12h1.30v1.30h-1.30zM96.70,193.09h1.30v1.30h-1.30zM97.36,196.64h1.30v1.30h-1.30zM98.02,199.85h1.30v1.30h-1.30zM98.68,199.59h1.30v1.30h-1.30zM99.34,201.46h1.30v1.30h-1.30zM100.00,205.14h1.30v1.30h-1.30zM100.66,205.08h1.30v1.30h-1.30zM101.32,205.80h1.30v1.30h-1.30zM101.98,206.46h1.30v1.30h-1.30zM102.63,207.18h1.30v1.30h-1.30zM103.29,208.48h1.30v1.30h-1.30zM103.95,208.60h1.30v1.30h-1.30zM104.61,210.10h1.30v1.30h-1.30zM105.27,211.03h1.30v1.30h-1.30zM105.93,208.90h1.30v1.30h-1.30zM106.59,210.67h1.30v1.30h-1.30zM107.25,211.04h1.30v1.30h-1.30zM107.91,213.71h1.30v1.30h-1.30zM108.57,212.51h1.30v1.30h-1.30zM109.22,211.78h1.30v1.30h-1.30zM109.88,214.44h1.30v1.30h-1.30zM110.54,212.11h1.30v1.30h-1.30zM111.20,214.04h1.30v1.30h-1.30zM111.86,213.43h1.30v1.30h-1.30zM112.52,214.26h1.30v1.30h-1.30zM113.18,214.11h1.30v1.30h-1.30zM113.84,213.23h1.30v1.30h-1.30zM114.50,215.21h1.30v1.30h-1.30zM115.16,213.22h1.30v1.30h-1.30zM115.82,215.99h1.30v1.30h-1.30zM116.47,216.33h1.30v1.30h-1.30zM117.13,214.66h1.30v1.30h-1.30zM117.79,216.78h1.30v1.30h-1.30zM118.45,216.15h1.30v1.30h-1.30zM119.11,214.86h1.30v1.30h-1.30zM119.77,214.65h1.30v1.30h-1.30zM120.43,218.07h1.30v1.30h-1.30zM121.09,215.66h1.30v1.30h-1.30zM121.75,214.24h1.30v1.30h-1.30zM122.41,215.10h1.30v1.30h-1.30zM123.06,216.78h1.30v1.30h-1.30zM123.72,217.27h1.30v1.30h-1.30zM124.38,217.02h1.30v1.30h-1.30zM125.04,218.05h1.30v1.30h-1.30zM125.70,217.14h1.30v1.30h-1.30zM126.36,217.13h1.30v1.30h-1.30zM127.02,217.15h1.30v1.30h-1.30zM127.68,215.75h1.30v1.30h-1.30zM128.34,217.38h1.30v1.30h-1.30zM129.00,218.79h1.30v1.30h-1.30zM129.65,216.08h1.30v1.30h-1.30zM130.31,218.48h1.30v1.30h-1.30zM130.97,217.84h1.30v1.30h-1.30zM131.63,217.55h1.30v1.30h-1.30zM132.29,217.83h1.30v1.30h-1.30zM132.95,218.61h1.30v1.30h-1.30zM133.61,217.82h1.30v1.30h-1.30zM134.27,215.17h1.30v1.30h-1.30zM134.93,218.30h1.30v1.30h-1.30zM135.59,217.82h1.30v1.30h-1.30zM136.24,216.46h1.30v1.30h-1.30zM136.90,216.92h1.30v1.30h-1.30zM137.56,216.93h1.30v1.30h-1.30zM138.22,216.86h1.30v1.30h-1.30zM138.88,220.02h1.30v1.30h-1.30zM139.54,218.83h1.30v1.30h-1.30zM140.20,217.76h1.30v1.30h-1.30zM140.86,217.38h1.30v1.30h-1.30zM141.52,216.53h1.30v1.30h-1.30zM142.18,217.47h1.30v1.30h-1.30zM142.83,218.28h1.30v1.30h-1.30zM143.49,218.00h1.30v1.30h-1.30zM144.15,218.30h1.30v1.30h-1.30zM144.81,217.82h1.30v1.30h-1.30zM145.47,217.37h1.30v1.30h-1.30zM146.13,218.51h1.30v1.30h-1.30zM146.79,219.06h1.30v1.30h-1.30zM147.45,219.13h1.30v1.30h-1.30zM148.11,216.99h1.30v1.30h-1.30zM148.77,216.80h1.30v1.30h-1.30zM149.42,217.14h1.30v1.30h-1.30zM150.08,217.31h1.30v1.30h-1.30zM150.74,217.36h1.30v1.30h-1.30zM151.40,218.30h1.30v1.30h-1.30zM152.06,217.58h1.30v1.30h-1.30zM152.72,219.49h1.30v1.30h-1.30zM153.38,218.57h1.30v1.30h-1.30zM154.04,219.17h1.30v1.30h-1.30zM154.70,217.57h1.30v1.30h-1.30zM155.35,219.03h1.30v1.30h-1.30zM156.01,218.52h1.30v1.30h-1.30zM156.67,217.97h1.30v1.30h-1.30zM157.33,216.93h1.30v1.30h-1.30zM157.99,219.32h1.30v1.30h-1.30zM158.65,219.50h1.30v1.30h-1.30z" fill="#111"/>
<polyline points="27.50,218.79 27.83,218.78 28.16,218.77 28.49,218.76 28.82,218.75 29.15,218.74 29.48,218.72 29.81,218.71 30.14,218.70 30.47,218.69 30.80,218.67 31.12,218.66 31.45,218.65 31.78,218.63 32.11,218.62 32.44,218.61 32.77,218.59 33.10,218.58 33.43,218.56 33.76,218.55 34.09,218.53 34.42,218.52 34.75,218.50 35.08,218.48 35.41,218.47 35.74,218.45 36.07,218.43 36.40,218.42 36.73,218.40 37.06,218.38 37.38,218.36 37.71,218.34 38.04,218.32 38.37,218.30 38.70,218.28 39.03,218.26 39.36,218.24 39.69,218.22 40.02,218.20 40.35,218.18 40.68,218.16 41.01,218.13 41.34,218.11 41.67,218.08 42.00,218.06 42.33,218.04 42.66,218.01 42.99,217.98 43.32,217.96 43.65,217.93 43.98,217.90 44.30,217.87 44.63,217.84 44.96,217.81 45.29,217.78 45.62,217.75 45.95,217.72 46.28,217.69 46.61,217.65 46.94,217.62 47.27,217.59 47.60,217.55 47.93,217.51 48.26,217.47 48.59,217.44 48.92,217.40 49.25,217.36 49.58,217.31 49.91,217.27 50.24,217.23 50.56,217.18 50.89,217.14 51.22,217.09 51.55,217.04 51.88,216.99 52.21,216.94 52.54,216.89 52.87,216.83 53.20,216.78 53.53,216.72 53.86,216.66 54.19,216.60 54.52,216.54 54.85,216.48 55.18,216.41 55.51,216.35 55.84,216.28 56.17,216.20 56.50,216.13 56.83,216.05 57.16,215.98 57.48,215.90 57.81,215.81 58.14,215.73 58.47,215.64 58.80,215.55 59.13,215.45 59.46,215.35 59.79,215.25 60.12,215.15 60.45,215.04 60.78,214.93 61.11,214.81 61.44,214.69 61.77,214.57 62.10,214.44 62.43,214.31 62.76,214.17 63.09,214.03 63.42,213.88 63.75,213.73 64.07,213.57 64.40,213.40 64.73,213.23 65.06,213.05 65.39,212.87 65.72,212.67 66.05,212.47 66.38,212.26 66.71,212.04 67.04,211.82 67.37,211.58 67.70,211.33 68.03,211.07 68.36,210.80 68.69,210.52 69.02,210.22 69.35,209.92 69.68,209.59 70.01,209.26 70.34,208.90 70.66,208.53 70.99,208.14 71.32,207.73 71.65,207.30 71.98,206.85 72.31,206.38 72.64,205.88 72.97,205.36 73.30,204.81 73.63,204.23 73.96,203.62 74.29,202.97 74.62,202.29 74.95,201.58 75.28,200.82 75.61,200.02 75.94,199.18 76.27,198.29 76.60,197.35 76.93,196.35 77.25,195.30 77.58,194.19 77.91,193.02 78.24,191.78 78.57,190.47 78.90,189.09 79.23,187.64 79.56,186.11 79.89,184.50 80.22,182.81 80.55,181.04 80.88,179.20 81.21,177.27 81.54,175.27 81.87,173.21 82.20,171.09 82.53,168.91 82.86,166.71 83.19,164.49 83.52,162.27 83.84,160.08 84.17,157.94 84.50,155.89 84.83,153.96 85.16,152.19 85.49,150.60 85.82,149.23 86.15,148.11 86.48,147.28 86.81,146.74 87.14,146.52 87.47,146.61 87.80,147.02 88.13,147.74 88.46,148.75 88.79,150.02 89.12,151.53 89.45,153.23 89.78,155.10 90.11,157.11 90.43,159.22 90.76,161.39 91.09,163.60 91.42,165.82 91.75,168.04 92.08,170.22 92.41,172.37 92.74,174.46 93.07,176.48 93.40,178.43 93.73,180.31 94.06,182.11 94.39,183.83 94.72,185.47 95.05,187.04 95.38,188.52 95.71,189.93 96.04,191.26 96.37,192.53 96.70,193.73 97.02,194.86 97.35,195.94 97.68,196.96 98.01,197.92 98.34,198.83 98.67,199.69 99.00,200.51 99.33,201.28 99.66,202.01 99.99,202.71 100.32,203.36 100.65,203.99 100.98,204.58 101.31,205.14 101.64,205.68 101.97,206.18 102.30,206.67 102.63,207.13 102.96,207.56 103.28,207.98 103.61,208.38 103.94,208.76 104.27,209.12 104.60,209.46 104.93,209.79 105.26,210.10 105.59,210.40 105.92,210.69 106.25,210.97 106.58,211.23 106.91,211.48 107.24,211.72 107.57,211.95 107.90,212.18 108.23,212.39 108.56,212.59 108.89,212.79 109.22,212.98 109.55,213.16 109.88,213.34 110.20,213.50 110.53,213.67 110.86,213.82 111.19,213.97 111.52,214.12 111.85,214.26 112.18,214.39 112.51,214.52 112.84,214.65 113.17,214.77 113.50,214.88 113.83,215.00 114.16,215.11 114.49,215.21 114.82,215.31 115.15,215.41 115.48,215.51 115.81,215.60 116.14,215.69 116.47,215.78 116.79,215.86 117.12,215.94 117.45,216.02 117.78,216.10 118.11,216.18 118.44,216.25 118.77,216.32 119.10,216.39 119.43,216.45 119.76,216.52 120.09,216.58 120.42,216.64 120.75,216.70 121.08,216.76 121.41,216.81 121.74,216.87 122.07,216.92 122.40,216.97 122.73,217.02 123.06,217.07 123.38,217.12 123.71,217.17 124.04,217.21 124.37,217.25 124.70,217.30 125.03,217.34 125.36,217.38 125.69,217.42 126.02,217.46 126.35,217.50 126.68,217.53 127.01,217.57 127.34,217.61 127.67,217.64 128.00,217.67 128.33,217.71 128.66,217.74 128.99,217.77 129.32,217.80 129.65,217.83 129.97,217.86 130.30,217.89 130.63,217.92 130.96,217.95 131.29,217.97 131.62,218.00 131.95,218.03 132.28,218.05 132.61,218.08 132.94,218.10 133.27,218.12 133.60,218.15 133.93,218.17 134.26,218.19 134.59,218.21 134.92,218.23 135.25,218.26 135.58,218.28 135.91,218.30 136.24,218.32 136.56,218.34 136.89,218.35 137.22,218.37 137.55,218.39 137.88,218.41 138.21,218.43 138.54,218.44 138.87,218.46 139.20,218.48 139.53,218.49 139.86,218.51 140.19,218.53 140.52,218.54 140.85,218.56 141.18,218.57 141.51,218.59 141.84,218.60 142.17,218.61 142.50,218.63 142.83,218.64 143.15,218.66 143.48,218.67 143.81,218.68 144.14,218.69 144.47,218.71 144.80,218.72 145.13,218.73 145.46,218.74 145.79,218.75 146.12,218.77 146.45,218.78 146.78,218.79 147.11,218.80 147.44,218.81 147.77,218.82 148.10,218.83 148.43,218.84 148.76,218.85 149.09,218.86 149.42,218.87 149.74,218.88 150.07,218.89 150.40,218.90 150.73,218.91 151.06,218.92 151.39,218.93 151.72,218.94 152.05,218.94 152.38,218.95 152.71,218.96 153.04,218.97 153.37,218.98 153.70,218.99 154.03,218.99 154.36,219.00 154.69,219.01 155.02,219.02 155.35,219.02 155.68,219.03 156.00,219.04 156.33,219.05 156.66,219.05 156.99,219.06 157.32,219.07 157.65,219.07 157.98,219.08 158.31,219.09 158.64,219.09 158.97,219.10 159.30,219.11" fill="none" stroke="#e8261c" stroke-width="1.3" stroke-linejoin="round"/>
</g>
<rect x="27.5" y="136" width="131.8" height="96.80000000000001" fill="none" stroke="#808080" stroke-width="1"/>
<path d="M60.45,232.8v-1.6M60.45,136v1.6M93.40,232.8v-1.6M93.40,136v1.6M126.35,232.8v-1.6M126.35,136v1.6M27.5,218.97h1.6M159.3,218.97h-1.6M27.5,205.14h1.6M159.3,205.14h-1.6M27.5,191.31h1.6M159.3,191.31h-1.6M27.5,177.49h1.6M159.3,177.49h-1.6M27.5,163.66h1.6M159.3,163.66h-1.6M27.5,149.83h1.6M159.3,149.83h-1.6" stroke="#808080" stroke-width="0.8" fill="none"/>
<text x="27.50" y="240.80" font-family="'Liberation Sans', sans-serif" font-size="6" text-anchor="middle" fill="#1e1e1e" stroke="#1e1e1e" stroke-width="0.16">1000</text>
<text x="93.40" y="240.80" font-family="'Liberation Sans', sans-serif" font-size="6" text-anchor="middle" fill="#1e1e1e" stroke="#1e1e1e" stroke-width="0.16">1050</text>
<text x="159.30" y="240.80" font-family="'Liberation Sans', sans-serif" font-size="6" text-anchor="middle" fill="#1e1e1e" stroke="#1e1e1e" stroke-width="0.16">1100</text>
<text x="25.00" y="221.08" font-family="'Liberation Sans', sans-serif" font-size="6.2" text-anchor="end" fill="#1e1e1e" stroke="#1e1e1e" stroke-width="0.16">0</text>
<text x="25.00" y="193.42" font-family="'Liberation Sans', sans-serif" font-size="6.2" text-anchor="end" fill="#1e1e1e" stroke="#1e1e1e" stroke-width="0.16">5</text>
<text x="25.00" y="165.77" font-family="'Liberation Sans', sans-serif" font-size="6.2" text-anchor="end" fill="#1e1e1e" stroke="#1e1e1e" stroke-width="0.16">10</text>
<text x="25.00" y="138.11" font-family="'Liberation Sans', sans-serif" font-size="6.2" text-anchor="end" fill="#1e1e1e" stroke="#1e1e1e" stroke-width="0.16">15</text>
<text x="17.50" y="184.80" font-family="'Liberation Sans', sans-serif" font-size="6.3" text-anchor="middle" fill="#1e1e1e" stroke="#1e1e1e" stroke-width="0.16" transform="rotate(-90 17.50 184.80)" textLength="35.8" lengthAdjust="spacingAndGlyphs">Intensity/a.u.</text>
<text x="101.30" y="165.30" font-family="'Liberation Serif', serif" font-size="8.6" text-anchor="start" fill="#1a1a1a" stroke="#1a1a1a" stroke-width="0.15" textLength="52.7" lengthAdjust="spacingAndGlyphs">40 MPa, 250 <tspan font-size="5.16" dy="-3.01">o</tspan><tspan dy="3.01">C</tspan></text>
<clipPath id="a3"><rect x="23.6" y="252.9" width="139.8" height="102.99999999999997"/></clipPath>
<g clip-path="url(#a3)">
<polygon points="23.60,345.60 23.60,344.96 23.95,344.95 24.30,344.94 24.65,344.93 25.00,344.93 25.35,344.92 25.70,344.91 26.05,344.91 26.40,344.90 26.75,344.89 27.10,344.88 27.44,344.87 27.79,344.87 28.14,344.86 28.49,344.85 28.84,344.84 29.19,344.83 29.54,344.82 29.89,344.81 30.24,344.80 30.59,344.79 30.94,344.78 31.29,344.77 31.64,344.76 31.99,344.75 32.34,344.74 32.69,344.73 33.04,344.72 33.39,344.71 33.74,344.70 34.09,344.69 34.43,344.68 34.78,344.67 35.13,344.65 35.48,344.64 35.83,344.63 36.18,344.62 36.53,344.60 36.88,344.59 37.23,344.58 37.58,344.56 37.93,344.55 38.28,344.53 38.63,344.52 38.98,344.51 39.33,344.49 39.68,344.47 40.03,344.46 40.38,344.44 40.73,344.43 41.08,344.41 41.42,344.39 41.77,344.37 42.12,344.36 42.47,344.34 42.82,344.32 43.17,344.30 43.52,344.28 43.87,344.26 44.22,344.24 44.57,344.22 44.92,344.20 45.27,344.17 45.62,344.15 45.97,344.13 46.32,344.10 46.67,344.08 47.02,344.05 47.37,344.03 47.72,344.00 48.06,343.98 48.41,343.95 48.76,343.92 49.11,343.89 49.46,343.86 49.81,343.83 50.16,343.80 50.51,343.77 50.86,343.74 51.21,343.70 51.56,343.67 51.91,343.63 52.26,343.59 52.61,343.56 52.96,343.52 53.31,343.48 53.66,343.44 54.01,343.39 54.36,343.35 54.71,343.31 55.06,343.26 55.40,343.21 55.75,343.16 56.10,343.11 56.45,343.06 56.80,343.01 57.15,342.95 57.50,342.90 57.85,342.84 58.20,342.78 58.55,342.71 58.90,342.65 59.25,342.58 59.60,342.51 59.95,342.44 60.30,342.37 60.65,342.29 61.00,342.21 61.35,342.13 61.70,342.04 62.05,341.95 62.39,341.86 62.74,341.77 63.09,341.67 63.44,341.56 63.79,341.46 64.14,341.35 64.49,341.23 64.84,341.11 65.19,340.99 65.54,340.86 65.89,340.72 66.24,340.58 66.59,340.43 66.94,340.28 67.29,340.12 67.64,339.95 67.99,339.77 68.34,339.59 68.69,339.40 69.03,339.20 69.38,338.98 69.73,338.76 70.08,338.53 70.43,338.29 70.78,338.03 71.13,337.76 71.48,337.48 71.83,337.18 72.18,336.86 72.53,336.53 72.88,336.18 73.23,335.81 73.58,335.42 73.93,335.01 74.28,334.57 74.63,334.10 74.98,333.61 75.33,333.09 75.68,332.53 76.03,331.94 76.37,331.31 76.72,330.64 77.07,329.92 77.42,329.16 77.77,328.34 78.12,327.47 78.47,326.54 78.82,325.54 79.17,324.47 79.52,323.33 79.87,322.10 80.22,320.78 80.57,319.37 80.92,317.86 81.27,316.23 81.62,314.49 81.97,312.62 82.32,310.63 82.67,308.50 83.02,306.22 83.36,303.81 83.71,301.25 84.06,298.56 84.41,295.74 84.76,292.80 85.11,289.77 85.46,286.67 85.81,283.56 86.16,280.47 86.51,277.47 86.86,274.62 87.21,272.00 87.56,269.70 87.91,267.77 88.26,266.31 88.61,265.36 88.96,264.96 89.31,265.13 89.66,265.87 90.00,267.13 90.35,268.88 90.70,271.04 91.05,273.54 91.40,276.30 91.75,279.25 92.10,282.31 92.45,285.43 92.80,288.53 93.15,291.59 93.50,294.57 93.85,297.44 94.20,300.19 94.55,302.80 94.90,305.28 95.25,307.60 95.60,309.79 95.95,311.84 96.30,313.76 96.65,315.55 97.00,317.22 97.34,318.78 97.69,320.23 98.04,321.59 98.39,322.85 98.74,324.03 99.09,325.12 99.44,326.15 99.79,327.11 100.14,328.00 100.49,328.84 100.84,329.62 101.19,330.36 101.54,331.04 101.89,331.69 102.24,332.30 102.59,332.87 102.94,333.40 103.29,333.91 103.64,334.38 103.99,334.83 104.33,335.26 104.68,335.66 105.03,336.04 105.38,336.39 105.73,336.73 106.08,337.05 106.43,337.36 106.78,337.65 107.13,337.92 107.48,338.19 107.83,338.43 108.18,338.67 108.53,338.90 108.88,339.11 109.23,339.32 109.58,339.51 109.93,339.70 110.28,339.88 110.63,340.05 110.97,340.21 111.32,340.37 111.67,340.52 112.02,340.66 112.37,340.80 112.72,340.93 113.07,341.06 113.42,341.18 113.77,341.30 114.12,341.41 114.47,341.52 114.82,341.63 115.17,341.73 115.52,341.82 115.87,341.92 116.22,342.01 116.57,342.09 116.92,342.18 117.27,342.26 117.62,342.34 117.97,342.41 118.31,342.48 118.66,342.55 119.01,342.62 119.36,342.69 119.71,342.75 120.06,342.81 120.41,342.87 120.76,342.93 121.11,342.99 121.46,343.04 121.81,343.09 122.16,343.14 122.51,343.19 122.86,343.24 123.21,343.29 123.56,343.33 123.91,343.38 124.26,343.42 124.61,343.46 124.96,343.50 125.30,343.54 125.65,343.58 126.00,343.62 126.35,343.65 126.70,343.69 127.05,343.72 127.40,343.76 127.75,343.79 128.10,343.82 128.45,343.85 128.80,343.88 129.15,343.91 129.50,343.94 129.85,343.97 130.20,343.99 130.55,344.02 130.90,344.04 131.25,344.07 131.60,344.09 131.95,344.12 132.29,344.14 132.64,344.16 132.99,344.19 133.34,344.21 133.69,344.23 134.04,344.25 134.39,344.27 134.74,344.29 135.09,344.31 135.44,344.33 135.79,344.35 136.14,344.37 136.49,344.38 136.84,344.40 137.19,344.42 137.54,344.44 137.89,344.45 138.24,344.47 138.59,344.48 138.94,344.50 139.28,344.51 139.63,344.53 139.98,344.54 140.33,344.56 140.68,344.57 141.03,344.58 141.38,344.60 141.73,344.61 142.08,344.62 142.43,344.64 142.78,344.65 143.13,344.66 143.48,344.67 143.83,344.68 144.18,344.70 144.53,344.71 144.88,344.72 145.23,344.73 145.58,344.74 145.93,344.75 146.27,344.76 146.62,344.77 146.97,344.78 147.32,344.79 147.67,344.80 148.02,344.81 148.37,344.82 148.72,344.83 149.07,344.84 149.42,344.84 149.77,344.85 150.12,344.86 150.47,344.87 150.82,344.88 151.17,344.89 151.52,344.89 151.87,344.90 152.22,344.91 152.57,344.92 152.92,344.92 153.26,344.93 153.61,344.94 153.96,344.95 154.31,344.95 154.66,344.96 155.01,344.97 155.36,344.97 155.71,344.98 156.06,344.99 156.41,344.99 156.76,345.00 157.11,345.00 157.46,345.01 157.81,345.02 158.16,345.02 158.51,345.03 158.86,345.03 159.21,345.04 159.56,345.04 159.91,345.05 160.25,345.06 160.60,345.06 160.95,345.07 161.30,345.07 161.65,345.08 162.00,345.08 162.35,345.09 162.70,345.09 163.05,345.10 163.40,345.10 163.40,345.60" fill="#42f597"/>
<polyline points="23.60,344.96 23.95,344.95 24.30,344.94 24.65,344.93 25.00,344.93 25.35,344.92 25.70,344.91 26.05,344.91 26.40,344.90 26.75,344.89 27.10,344.88 27.44,344.87 27.79,344.87 28.14,344.86 28.49,344.85 28.84,344.84 29.19,344.83 29.54,344.82 29.89,344.81 30.24,344.80 30.59,344.79 30.94,344.78 31.29,344.77 31.64,344.76 31.99,344.75 32.34,344.74 32.69,344.73 33.04,344.72 33.39,344.71 33.74,344.70 34.09,344.69 34.43,344.68 34.78,344.67 35.13,344.65 35.48,344.64 35.83,344.63 36.18,344.62 36.53,344.60 36.88,344.59 37.23,344.58 37.58,344.56 37.93,344.55 38.28,344.53 38.63,344.52 38.98,344.51 39.33,344.49 39.68,344.47 40.03,344.46 40.38,344.44 40.73,344.43 41.08,344.41 41.42,344.39 41.77,344.37 42.12,344.36 42.47,344.34 42.82,344.32 43.17,344.30 43.52,344.28 43.87,344.26 44.22,344.24 44.57,344.22 44.92,344.20 45.27,344.17 45.62,344.15 45.97,344.13 46.32,344.10 46.67,344.08 47.02,344.05 47.37,344.03 47.72,344.00 48.06,343.98 48.41,343.95 48.76,343.92 49.11,343.89 49.46,343.86 49.81,343.83 50.16,343.80 50.51,343.77 50.86,343.74 51.21,343.70 51.56,343.67 51.91,343.63 52.26,343.59 52.61,343.56 52.96,343.52 53.31,343.48 53.66,343.44 54.01,343.39 54.36,343.35 54.71,343.31 55.06,343.26 55.40,343.21 55.75,343.16 56.10,343.11 56.45,343.06 56.80,343.01 57.15,342.95 57.50,342.90 57.85,342.84 58.20,342.78 58.55,342.71 58.90,342.65 59.25,342.58 59.60,342.51 59.95,342.44 60.30,342.37 60.65,342.29 61.00,342.21 61.35,342.13 61.70,342.04 62.05,341.95 62.39,341.86 62.74,341.77 63.09,341.67 63.44,341.56 63.79,341.46 64.14,341.35 64.49,341.23 64.84,341.11 65.19,340.99 65.54,340.86 65.89,340.72 66.24,340.58 66.59,340.43 66.94,340.28 67.29,340.12 67.64,339.95 67.99,339.77 68.34,339.59 68.69,339.40 69.03,339.20 69.38,338.98 69.73,338.76 70.08,338.53 70.43,338.29 70.78,338.03 71.13,337.76 71.48,337.48 71.83,337.18 72.18,336.86 72.53,336.53 72.88,336.18 73.23,335.81 73.58,335.42 73.93,335.01 74.28,334.57 74.63,334.10 74.98,333.61 75.33,333.09 75.68,332.53 76.03,331.94 76.37,331.31 76.72,330.64 77.07,329.92 77.42,329.16 77.77,328.34 78.12,327.47 78.47,326.54 78.82,325.54 79.17,324.47 79.52,323.33 79.87,322.10 80.22,320.78 80.57,319.37 80.92,317.86 81.27,316.23 81.62,314.49 81.97,312.62 82.32,310.63 82.67,308.50 83.02,306.22 83.36,303.81 83.71,301.25 84.06,298.56 84.41,295.74 84.76,292.80 85.11,289.77 85.46,286.67 85.81,283.56 86.16,280.47 86.51,277.47 86.86,274.62 87.21,272.00 87.56,269.70 87.91,267.77 88.26,266.31 88.61,265.36 88.96,264.96 89.31,265.13 89.66,265.87 90.00,267.13 90.35,268.88 90.70,271.04 91.05,273.54 91.40,276.30 91.75,279.25 92.10,282.31 92.45,285.43 92.80,288.53 93.15,291.59 93.50,294.57 93.85,297.44 94.20,300.19 94.55,302.80 94.90,305.28 95.25,307.60 95.60,309.79 95.95,311.84 96.30,313.76 96.65,315.55 97.00,317.22 97.34,318.78 97.69,320.23 98.04,321.59 98.39,322.85 98.74,324.03 99.09,325.12 99.44,326.15 99.79,327.11 100.14,328.00 100.49,328.84 100.84,329.62 101.19,330.36 101.54,331.04 101.89,331.69 102.24,332.30 102.59,332.87 102.94,333.40 103.29,333.91 103.64,334.38 103.99,334.83 104.33,335.26 104.68,335.66 105.03,336.04 105.38,336.39 105.73,336.73 106.08,337.05 106.43,337.36 106.78,337.65 107.13,337.92 107.48,338.19 107.83,338.43 108.18,338.67 108.53,338.90 108.88,339.11 109.23,339.32 109.58,339.51 109.93,339.70 110.28,339.88 110.63,340.05 110.97,340.21 111.32,340.37 111.67,340.52 112.02,340.66 112.37,340.80 112.72,340.93 113.07,341.06 113.42,341.18 113.77,341.30 114.12,341.41 114.47,341.52 114.82,341.63 115.17,341.73 115.52,341.82 115.87,341.92 116.22,342.01 116.57,342.09 116.92,342.18 117.27,342.26 117.62,342.34 117.97,342.41 118.31,342.48 118.66,342.55 119.01,342.62 119.36,342.69 119.71,342.75 120.06,342.81 120.41,342.87 120.76,342.93 121.11,342.99 121.46,343.04 121.81,343.09 122.16,343.14 122.51,343.19 122.86,343.24 123.21,343.29 123.56,343.33 123.91,343.38 124.26,343.42 124.61,343.46 124.96,343.50 125.30,343.54 125.65,343.58 126.00,343.62 126.35,343.65 126.70,343.69 127.05,343.72 127.40,343.76 127.75,343.79 128.10,343.82 128.45,343.85 128.80,343.88 129.15,343.91 129.50,343.94 129.85,343.97 130.20,343.99 130.55,344.02 130.90,344.04 131.25,344.07 131.60,344.09 131.95,344.12 132.29,344.14 132.64,344.16 132.99,344.19 133.34,344.21 133.69,344.23 134.04,344.25 134.39,344.27 134.74,344.29 135.09,344.31 135.44,344.33 135.79,344.35 136.14,344.37 136.49,344.38 136.84,344.40 137.19,344.42 137.54,344.44 137.89,344.45 138.24,344.47 138.59,344.48 138.94,344.50 139.28,344.51 139.63,344.53 139.98,344.54 140.33,344.56 140.68,344.57 141.03,344.58 141.38,344.60 141.73,344.61 142.08,344.62 142.43,344.64 142.78,344.65 143.13,344.66 143.48,344.67 143.83,344.68 144.18,344.70 144.53,344.71 144.88,344.72 145.23,344.73 145.58,344.74 145.93,344.75 146.27,344.76 146.62,344.77 146.97,344.78 147.32,344.79 147.67,344.80 148.02,344.81 148.37,344.82 148.72,344.83 149.07,344.84 149.42,344.84 149.77,344.85 150.12,344.86 150.47,344.87 150.82,344.88 151.17,344.89 151.52,344.89 151.87,344.90 152.22,344.91 152.57,344.92 152.92,344.92 153.26,344.93 153.61,344.94 153.96,344.95 154.31,344.95 154.66,344.96 155.01,344.97 155.36,344.97 155.71,344.98 156.06,344.99 156.41,344.99 156.76,345.00 157.11,345.00 157.46,345.01 157.81,345.02 158.16,345.02 158.51,345.03 158.86,345.03 159.21,345.04 159.56,345.04 159.91,345.05 160.25,345.06 160.60,345.06 160.95,345.07 161.30,345.07 161.65,345.08 162.00,345.08 162.35,345.09 162.70,345.09 163.05,345.10 163.40,345.10" fill="none" stroke="#e8261c" stroke-width="0.9" stroke-linejoin="round"/>
<path d="M22.95,343.80h1.30v1.30h-1.30zM23.65,344.98h1.30v1.30h-1.30zM24.35,344.00h1.30v1.30h-1.30zM25.05,344.61h1.30v1.30h-1.30zM25.75,344.31h1.30v1.30h-1.30zM26.45,345.36h1.30v1.30h-1.30zM27.14,343.77h1.30v1.30h-1.30zM27.84,344.51h1.30v1.30h-1.30zM28.54,344.74h1.30v1.30h-1.30zM29.24,342.88h1.30v1.30h-1.30zM29.94,343.70h1.30v1.30h-1.30zM30.64,341.96h1.30v1.30h-1.30zM31.34,343.85h1.30v1.30h-1.30zM32.04,344.30h1.30v1.30h-1.30zM32.74,344.00h1.30v1.30h-1.30zM33.44,343.05h1.30v1.30h-1.30zM34.13,344.03h1.30v1.30h-1.30zM34.83,343.71h1.30v1.30h-1.30zM35.53,343.65h1.30v1.30h-1.30zM36.23,344.50h1.30v1.30h-1.30zM36.93,343.83h1.30v1.30h-1.30zM37.63,344.20h1.30v1.30h-1.30zM38.33,344.62h1.30v1.30h-1.30zM39.03,343.29h1.30v1.30h-1.30zM39.73,343.38h1.30v1.30h-1.30zM40.43,343.71h1.30v1.30h-1.30zM41.12,344.28h1.30v1.30h-1.30zM41.82,344.93h1.30v1.30h-1.30zM42.52,343.35h1.30v1.30h-1.30zM43.22,343.67h1.30v1.30h-1.30zM43.92,344.61h1.30v1.30h-1.30zM44.62,343.56h1.30v1.30h-1.30zM45.32,344.42h1.30v1.30h-1.30zM46.02,343.45h1.30v1.30h-1.30zM46.72,343.29h1.30v1.30h-1.30zM47.41,343.11h1.30v1.30h-1.30zM48.11,343.14h1.30v1.30h-1.30zM48.81,343.11h1.30v1.30h-1.30zM49.51,343.85h1.30v1.30h-1.30zM50.21,343.32h1.30v1.30h-1.30zM50.91,343.33h1.30v1.30h-1.30zM51.61,343.09h1.30v1.30h-1.30zM52.31,342.70h1.30v1.30h-1.30zM53.01,342.40h1.30v1.30h-1.30zM53.71,341.69h1.30v1.30h-1.30zM54.41,344.20h1.30v1.30h-1.30zM55.10,342.27h1.30v1.30h-1.30zM55.80,342.53h1.30v1.30h-1.30zM56.50,340.90h1.30v1.30h-1.30zM57.20,341.61h1.30v1.30h-1.30zM57.90,343.09h1.30v1.30h-1.30zM58.60,341.68h1.30v1.30h-1.30zM59.30,342.11h1.30v1.30h-1.30zM60.00,341.03h1.30v1.30h-1.30zM60.70,342.13h1.30v1.30h-1.30zM61.40,341.37h1.30v1.30h-1.30zM62.09,341.20h1.30v1.30h-1.30zM62.79,340.97h1.30v1.30h-1.30zM63.49,341.06h1.30v1.30h-1.30zM64.19,341.60h1.30v1.30h-1.30zM64.89,339.92h1.30v1.30h-1.30zM65.59,339.31h1.30v1.30h-1.30zM66.29,339.67h1.30v1.30h-1.30zM66.99,339.93h1.30v1.30h-1.30zM67.69,338.81h1.30v1.30h-1.30zM68.38,338.20h1.30v1.30h-1.30zM69.08,338.22h1.30v1.30h-1.30zM69.78,337.65h1.30v1.30h-1.30zM70.48,336.24h1.30v1.30h-1.30zM71.18,337.22h1.30v1.30h-1.30zM71.88,336.23h1.30v1.30h-1.30zM72.58,336.34h1.30v1.30h-1.30zM73.28,334.79h1.30v1.30h-1.30zM73.98,333.91h1.30v1.30h-1.30zM74.68,333.03h1.30v1.30h-1.30zM75.38,331.72h1.30v1.30h-1.30zM76.07,328.88h1.30v1.30h-1.30zM76.77,328.63h1.30v1.30h-1.30zM77.47,326.89h1.30v1.30h-1.30zM78.17,323.53h1.30v1.30h-1.30zM78.87,322.72h1.30v1.30h-1.30zM79.57,321.21h1.30v1.30h-1.30zM80.27,316.96h1.30v1.30h-1.30zM80.97,314.42h1.30v1.30h-1.30zM81.67,308.97h1.30v1.30h-1.30zM82.37,306.34h1.30v1.30h-1.30zM83.06,300.96h1.30v1.30h-1.30zM83.76,296.08h1.30v1.30h-1.30zM84.46,289.06h1.30v1.30h-1.30zM85.16,283.53h1.30v1.30h-1.30zM85.86,276.86h1.30v1.30h-1.30zM86.56,271.58h1.30v1.30h-1.30zM87.26,267.50h1.30v1.30h-1.30zM87.96,264.13h1.30v1.30h-1.30zM88.66,263.91h1.30v1.30h-1.30zM89.35,266.44h1.30v1.30h-1.30zM90.05,270.94h1.30v1.30h-1.30zM90.75,276.32h1.30v1.30h-1.30zM91.45,281.50h1.30v1.30h-1.30zM92.15,286.41h1.30v1.30h-1.30zM92.85,294.20h1.30v1.30h-1.30zM93.55,300.03h1.30v1.30h-1.30zM94.25,305.06h1.30v1.30h-1.30zM94.95,309.82h1.30v1.30h-1.30zM95.65,313.71h1.30v1.30h-1.30zM96.34,316.70h1.30v1.30h-1.30zM97.04,318.70h1.30v1.30h-1.30zM97.74,322.20h1.30v1.30h-1.30zM98.44,324.79h1.30v1.30h-1.30zM99.14,327.46h1.30v1.30h-1.30zM99.84,328.06h1.30v1.30h-1.30zM100.54,329.72h1.30v1.30h-1.30zM101.24,331.80h1.30v1.30h-1.30zM101.94,332.89h1.30v1.30h-1.30zM102.64,333.28h1.30v1.30h-1.30zM103.34,333.56h1.30v1.30h-1.30zM104.03,334.62h1.30v1.30h-1.30zM104.73,335.62h1.30v1.30h-1.30zM105.43,336.60h1.30v1.30h-1.30zM106.13,336.80h1.30v1.30h-1.30zM106.83,337.54h1.30v1.30h-1.30zM107.53,336.68h1.30v1.30h-1.30zM108.23,339.16h1.30v1.30h-1.30zM108.93,339.09h1.30v1.30h-1.30zM109.63,338.45h1.30v1.30h-1.30zM110.32,339.73h1.30v1.30h-1.30zM111.02,338.99h1.30v1.30h-1.30zM111.72,340.18h1.30v1.30h-1.30zM112.42,340.32h1.30v1.30h-1.30zM113.12,340.88h1.30v1.30h-1.30zM113.82,341.73h1.30v1.30h-1.30zM114.52,341.68h1.30v1.30h-1.30zM115.22,339.90h1.30v1.30h-1.30zM115.92,341.04h1.30v1.30h-1.30zM116.62,341.23h1.30v1.30h-1.30zM117.31,341.17h1.30v1.30h-1.30zM118.01,341.55h1.30v1.30h-1.30zM118.71,341.41h1.30v1.30h-1.30zM119.41,342.33h1.30v1.30h-1.30zM120.11,342.42h1.30v1.30h-1.30zM120.81,341.78h1.30v1.30h-1.30zM121.51,342.71h1.30v1.30h-1.30zM122.21,343.41h1.30v1.30h-1.30zM122.91,342.82h1.30v1.30h-1.30zM123.61,343.11h1.30v1.30h-1.30zM124.31,342.47h1.30v1.30h-1.30zM125.00,343.37h1.30v1.30h-1.30zM125.70,343.66h1.30v1.30h-1.30zM126.40,343.28h1.30v1.30h-1.30zM127.10,342.18h1.30v1.30h-1.30zM127.80,343.23h1.30v1.30h-1.30zM128.50,343.16h1.30v1.30h-1.30zM129.20,343.31h1.30v1.30h-1.30zM129.90,343.19h1.30v1.30h-1.30zM130.60,342.85h1.30v1.30h-1.30zM131.30,342.61h1.30v1.30h-1.30zM131.99,344.53h1.30v1.30h-1.30zM132.69,342.72h1.30v1.30h-1.30zM133.39,343.60h1.30v1.30h-1.30zM134.09,343.84h1.30v1.30h-1.30zM134.79,342.20h1.30v1.30h-1.30zM135.49,343.82h1.30v1.30h-1.30zM136.19,342.55h1.30v1.30h-1.30zM136.89,343.19h1.30v1.30h-1.30zM137.59,344.45h1.30v1.30h-1.30zM138.28,343.55h1.30v1.30h-1.30zM138.98,343.42h1.30v1.30h-1.30zM139.68,343.98h1.30v1.30h-1.30zM140.38,345.37h1.30v1.30h-1.30zM141.08,344.17h1.30v1.30h-1.30zM141.78,344.11h1.30v1.30h-1.30zM142.48,344.70h1.30v1.30h-1.30zM143.18,342.91h1.30v1.30h-1.30zM143.88,344.21h1.30v1.30h-1.30zM144.58,344.32h1.30v1.30h-1.30zM145.28,344.29h1.30v1.30h-1.30zM145.97,344.60h1.30v1.30h-1.30zM146.67,344.62h1.30v1.30h-1.30zM147.37,344.10h1.30v1.30h-1.30zM148.07,343.98h1.30v1.30h-1.30zM148.77,344.51h1.30v1.30h-1.30zM149.47,344.27h1.30v1.30h-1.30zM150.17,345.09h1.30v1.30h-1.30zM150.87,343.92h1.30v1.30h-1.30zM151.57,344.72h1.30v1.30h-1.30zM152.27,344.14h1.30v1.30h-1.30zM152.96,344.85h1.30v1.30h-1.30zM153.66,344.62h1.30v1.30h-1.30zM154.36,344.18h1.30v1.30h-1.30zM155.06,345.08h1.30v1.30h-1.30zM155.76,342.82h1.30v1.30h-1.30zM156.46,344.38h1.30v1.30h-1.30zM157.16,344.41h1.30v1.30h-1.30zM157.86,344.83h1.30v1.30h-1.30zM158.56,343.40h1.30v1.30h-1.30zM159.25,343.54h1.30v1.30h-1.30zM159.95,344.23h1.30v1.30h-1.30zM160.65,345.27h1.30v1.30h-1.30zM161.35,344.74h1.30v1.30h-1.30zM162.05,344.06h1.30v1.30h-1.30zM162.75,344.77h1.30v1.30h-1.30z" fill="#111"/>
</g>
<rect x="23.6" y="252.9" width="139.8" height="102.99999999999997" fill="none" stroke="#808080" stroke-width="1"/>
<path d="M58.55,355.9v-1.6M58.55,252.9v1.6M93.50,355.9v-1.6M93.50,252.9v1.6M128.45,355.9v-1.6M128.45,252.9v1.6M23.6,345.60h1.6M163.4,345.60h-1.6M23.6,335.30h1.6M163.4,335.30h-1.6M23.6,325.00h1.6M163.4,325.00h-1.6M23.6,314.70h1.6M163.4,314.70h-1.6M23.6,304.40h1.6M163.4,304.40h-1.6M23.6,294.10h1.6M163.4,294.10h-1.6M23.6,283.80h1.6M163.4,283.80h-1.6M23.6,273.50h1.6M163.4,273.50h-1.6M23.6,263.20h1.6M163.4,263.20h-1.6" stroke="#808080" stroke-width="0.8" fill="none"/>
<text x="23.60" y="363.60" font-family="'Liberation Serif', serif" font-size="7" text-anchor="middle" fill="#1e1e1e" stroke="#1e1e1e" stroke-width="0.16">1000</text>
<text x="93.50" y="363.60" font-family="'Liberation Serif', serif" font-size="7" text-anchor="middle" fill="#1e1e1e" stroke="#1e1e1e" stroke-width="0.16">1050</text>
<text x="163.40" y="363.60" font-family="'Liberation Serif', serif" font-size="7" text-anchor="middle" fill="#1e1e1e" stroke="#1e1e1e" stroke-width="0.16">1100</text>
<text x="20.80" y="347.84" font-family="'Liberation Serif', serif" font-size="6.6" text-anchor="end" fill="#1e1e1e" stroke="#1e1e1e" stroke-width="0.16">0</text>
<text x="20.80" y="327.24" font-family="'Liberation Serif', serif" font-size="6.6" text-anchor="end" fill="#1e1e1e" stroke="#1e1e1e" stroke-width="0.16">20</text>
<text x="20.80" y="306.64" font-family="'Liberation Serif', serif" font-size="6.6" text-anchor="end" fill="#1e1e1e" stroke="#1e1e1e" stroke-width="0.16">40</text>
<text x="20.80" y="286.04" font-family="'Liberation Serif', serif" font-size="6.6" text-anchor="end" fill="#1e1e1e" stroke="#1e1e1e" stroke-width="0.16">60</text>
<text x="20.80" y="265.44" font-family="'Liberation Serif', serif" font-size="6.6" text-anchor="end" fill="#1e1e1e" stroke="#1e1e1e" stroke-width="0.16">80</text>
<text x="12.20" y="304.40" font-family="'Liberation Serif', serif" font-size="7" text-anchor="middle" fill="#1e1e1e" stroke="#1e1e1e" stroke-width="0.16" transform="rotate(-90 12.20 304.40)" textLength="35.6" lengthAdjust="spacingAndGlyphs">Intensity/a.u.</text>
<text x="103.10" y="277.50" font-family="'Liberation Serif', serif" font-size="8.6" text-anchor="start" fill="#1a1a1a" stroke="#1a1a1a" stroke-width="0.15" textLength="53" lengthAdjust="spacingAndGlyphs">40 MPa, 150 <tspan font-size="5.16" dy="-3.01">o</tspan><tspan dy="3.01">C</tspan></text>
<clipPath id="a4"><rect x="24.4" y="370.2" width="139.0" height="102.10000000000002"/></clipPath>
<g clip-path="url(#a4)">
<polygon points="24.40,455.28 24.40,454.82 24.75,454.81 25.09,454.81 25.44,454.80 25.79,454.80 26.14,454.79 26.48,454.79 26.83,454.78 27.18,454.77 27.53,454.77 27.88,454.76 28.22,454.76 28.57,454.75 28.92,454.75 29.27,454.74 29.61,454.73 29.96,454.73 30.31,454.72 30.65,454.71 31.00,454.71 31.35,454.70 31.70,454.69 32.05,454.69 32.39,454.68 32.74,454.67 33.09,454.67 33.44,454.66 33.78,454.65 34.13,454.64 34.48,454.63 34.82,454.63 35.17,454.62 35.52,454.61 35.87,454.60 36.22,454.59 36.56,454.58 36.91,454.57 37.26,454.57 37.60,454.56 37.95,454.55 38.30,454.54 38.65,454.53 38.99,454.52 39.34,454.51 39.69,454.50 40.04,454.48 40.38,454.47 40.73,454.46 41.08,454.45 41.43,454.44 41.77,454.43 42.12,454.41 42.47,454.40 42.82,454.39 43.16,454.38 43.51,454.36 43.86,454.35 44.21,454.34 44.55,454.32 44.90,454.31 45.25,454.29 45.60,454.28 45.94,454.26 46.29,454.24 46.64,454.23 46.99,454.21 47.34,454.19 47.68,454.18 48.03,454.16 48.38,454.14 48.72,454.12 49.07,454.10 49.42,454.08 49.77,454.06 50.11,454.04 50.46,454.02 50.81,454.00 51.16,453.98 51.50,453.95 51.85,453.93 52.20,453.90 52.55,453.88 52.89,453.85 53.24,453.83 53.59,453.80 53.94,453.77 54.28,453.74 54.63,453.71 54.98,453.68 55.33,453.65 55.67,453.62 56.02,453.59 56.37,453.55 56.72,453.52 57.06,453.48 57.41,453.45 57.76,453.41 58.11,453.37 58.45,453.33 58.80,453.28 59.15,453.24 59.50,453.20 59.84,453.15 60.19,453.10 60.54,453.05 60.89,453.00 61.23,452.95 61.58,452.89 61.93,452.84 62.28,452.78 62.62,452.72 62.97,452.65 63.32,452.59 63.67,452.52 64.01,452.45 64.36,452.37 64.71,452.30 65.06,452.22 65.41,452.14 65.75,452.05 66.10,451.96 66.45,451.87 66.79,451.77 67.14,451.67 67.49,451.57 67.84,451.46 68.19,451.34 68.53,451.22 68.88,451.10 69.23,450.97 69.58,450.83 69.92,450.69 70.27,450.54 70.62,450.38 70.97,450.22 71.31,450.04 71.66,449.86 72.01,449.67 72.35,449.47 72.70,449.26 73.05,449.03 73.40,448.80 73.75,448.55 74.09,448.29 74.44,448.01 74.79,447.72 75.13,447.40 75.48,447.07 75.83,446.72 76.18,446.35 76.53,445.96 76.87,445.54 77.22,445.09 77.57,444.61 77.91,444.10 78.26,443.55 78.61,442.97 78.96,442.35 79.31,441.68 79.65,440.96 80.00,440.19 80.35,439.36 80.69,438.47 81.04,437.52 81.39,436.48 81.74,435.37 82.08,434.17 82.43,432.88 82.78,431.48 83.13,429.98 83.47,428.36 83.82,426.61 84.17,424.74 84.52,422.72 84.86,420.57 85.21,418.27 85.56,415.84 85.91,413.27 86.25,410.58 86.60,407.79 86.95,404.93 87.30,402.04 87.65,399.17 87.99,396.40 88.34,393.78 88.69,391.41 89.03,389.37 89.38,387.73 89.73,386.58 90.08,385.96 90.42,385.90 90.77,386.41 91.12,387.46 91.47,389.00 91.81,390.97 92.16,393.28 92.51,395.86 92.86,398.61 93.20,401.46 93.55,404.35 93.90,407.22 94.25,410.02 94.59,412.74 94.94,415.33 95.29,417.80 95.64,420.12 95.99,422.30 96.33,424.35 96.68,426.25 97.03,428.02 97.38,429.66 97.72,431.19 98.07,432.61 98.42,433.92 98.77,435.14 99.11,436.27 99.46,437.31 99.81,438.29 100.16,439.19 100.50,440.03 100.85,440.81 101.20,441.54 101.55,442.22 101.89,442.85 102.24,443.44 102.59,443.99 102.94,444.51 103.28,444.99 103.63,445.45 103.98,445.87 104.32,446.27 104.67,446.65 105.02,447.01 105.37,447.34 105.72,447.65 106.06,447.95 106.41,448.23 106.76,448.50 107.10,448.75 107.45,448.99 107.80,449.21 108.15,449.43 108.50,449.63 108.84,449.82 109.19,450.01 109.54,450.18 109.88,450.35 110.23,450.51 110.58,450.66 110.93,450.80 111.28,450.94 111.62,451.07 111.97,451.20 112.32,451.32 112.66,451.44 113.01,451.55 113.36,451.65 113.71,451.75 114.06,451.85 114.40,451.94 114.75,452.03 115.10,452.12 115.44,452.20 115.79,452.28 116.14,452.36 116.49,452.43 116.84,452.50 117.18,452.57 117.53,452.64 117.88,452.70 118.22,452.76 118.57,452.82 118.92,452.88 119.27,452.94 119.62,452.99 119.96,453.04 120.31,453.09 120.66,453.14 121.00,453.19 121.35,453.23 121.70,453.28 122.05,453.32 122.39,453.36 122.74,453.40 123.09,453.44 123.44,453.48 123.78,453.51 124.13,453.55 124.48,453.58 124.83,453.61 125.17,453.65 125.52,453.68 125.87,453.71 126.22,453.74 126.56,453.77 126.91,453.80 127.26,453.82 127.61,453.85 127.95,453.87 128.30,453.90 128.65,453.92 129.00,453.95 129.34,453.97 129.69,453.99 130.04,454.02 130.39,454.04 130.74,454.06 131.08,454.08 131.43,454.10 131.78,454.12 132.12,454.14 132.47,454.16 132.82,454.17 133.17,454.19 133.52,454.21 133.86,454.23 134.21,454.24 134.56,454.26 134.91,454.27 135.25,454.29 135.60,454.30 135.95,454.32 136.30,454.33 136.64,454.35 136.99,454.36 137.34,454.37 137.69,454.39 138.03,454.40 138.38,454.41 138.73,454.42 139.07,454.44 139.42,454.45 139.77,454.46 140.12,454.47 140.47,454.48 140.81,454.49 141.16,454.50 141.51,454.51 141.85,454.52 142.20,454.53 142.55,454.54 142.90,454.55 143.25,454.56 143.59,454.57 143.94,454.58 144.29,454.59 144.63,454.60 144.98,454.61 145.33,454.62 145.68,454.62 146.03,454.63 146.37,454.64 146.72,454.65 147.07,454.66 147.41,454.66 147.76,454.67 148.11,454.68 148.46,454.69 148.81,454.69 149.15,454.70 149.50,454.71 149.85,454.71 150.19,454.72 150.54,454.73 150.89,454.73 151.24,454.74 151.59,454.74 151.93,454.75 152.28,454.76 152.63,454.76 152.98,454.77 153.32,454.77 153.67,454.78 154.02,454.78 154.37,454.79 154.71,454.80 155.06,454.80 155.41,454.81 155.75,454.81 156.10,454.82 156.45,454.82 156.80,454.83 157.15,454.83 157.49,454.83 157.84,454.84 158.19,454.84 158.53,454.85 158.88,454.85 159.23,454.86 159.58,454.86 159.93,454.87 160.27,454.87 160.62,454.87 160.97,454.88 161.31,454.88 161.66,454.89 162.01,454.89 162.36,454.89 162.71,454.90 163.05,454.90 163.40,454.90 163.40,455.28" fill="#42f597"/>
<polyline points="24.40,454.82 24.75,454.81 25.09,454.81 25.44,454.80 25.79,454.80 26.14,454.79 26.48,454.79 26.83,454.78 27.18,454.77 27.53,454.77 27.88,454.76 28.22,454.76 28.57,454.75 28.92,454.75 29.27,454.74 29.61,454.73 29.96,454.73 30.31,454.72 30.65,454.71 31.00,454.71 31.35,454.70 31.70,454.69 32.05,454.69 32.39,454.68 32.74,454.67 33.09,454.67 33.44,454.66 33.78,454.65 34.13,454.64 34.48,454.63 34.82,454.63 35.17,454.62 35.52,454.61 35.87,454.60 36.22,454.59 36.56,454.58 36.91,454.57 37.26,454.57 37.60,454.56 37.95,454.55 38.30,454.54 38.65,454.53 38.99,454.52 39.34,454.51 39.69,454.50 40.04,454.48 40.38,454.47 40.73,454.46 41.08,454.45 41.43,454.44 41.77,454.43 42.12,454.41 42.47,454.40 42.82,454.39 43.16,454.38 43.51,454.36 43.86,454.35 44.21,454.34 44.55,454.32 44.90,454.31 45.25,454.29 45.60,454.28 45.94,454.26 46.29,454.24 46.64,454.23 46.99,454.21 47.34,454.19 47.68,454.18 48.03,454.16 48.38,454.14 48.72,454.12 49.07,454.10 49.42,454.08 49.77,454.06 50.11,454.04 50.46,454.02 50.81,454.00 51.16,453.98 51.50,453.95 51.85,453.93 52.20,453.90 52.55,453.88 52.89,453.85 53.24,453.83 53.59,453.80 53.94,453.77 54.28,453.74 54.63,453.71 54.98,453.68 55.33,453.65 55.67,453.62 56.02,453.59 56.37,453.55 56.72,453.52 57.06,453.48 57.41,453.45 57.76,453.41 58.11,453.37 58.45,453.33 58.80,453.28 59.15,453.24 59.50,453.20 59.84,453.15 60.19,453.10 60.54,453.05 60.89,453.00 61.23,452.95 61.58,452.89 61.93,452.84 62.28,452.78 62.62,452.72 62.97,452.65 63.32,452.59 63.67,452.52 64.01,452.45 64.36,452.37 64.71,452.30 65.06,452.22 65.41,452.14 65.75,452.05 66.10,451.96 66.45,451.87 66.79,451.77 67.14,451.67 67.49,451.57 67.84,451.46 68.19,451.34 68.53,451.22 68.88,451.10 69.23,450.97 69.58,450.83 69.92,450.69 70.27,450.54 70.62,450.38 70.97,450.22 71.31,450.04 71.66,449.86 72.01,449.67 72.35,449.47 72.70,449.26 73.05,449.03 73.40,448.80 73.75,448.55 74.09,448.29 74.44,448.01 74.79,447.72 75.13,447.40 75.48,447.07 75.83,446.72 76.18,446.35 76.53,445.96 76.87,445.54 77.22,445.09 77.57,444.61 77.91,444.10 78.26,443.55 78.61,442.97 78.96,442.35 79.31,441.68 79.65,440.96 80.00,440.19 80.35,439.36 80.69,438.47 81.04,437.52 81.39,436.48 81.74,435.37 82.08,434.17 82.43,432.88 82.78,431.48 83.13,429.98 83.47,428.36 83.82,426.61 84.17,424.74 84.52,422.72 84.86,420.57 85.21,418.27 85.56,415.84 85.91,413.27 86.25,410.58 86.60,407.79 86.95,404.93 87.30,402.04 87.65,399.17 87.99,396.40 88.34,393.78 88.69,391.41 89.03,389.37 89.38,387.73 89.73,386.58 90.08,385.96 90.42,385.90 90.77,386.41 91.12,387.46 91.47,389.00 91.81,390.97 92.16,393.28 92.51,395.86 92.86,398.61 93.20,401.46 93.55,404.35 93.90,407.22 94.25,410.02 94.59,412.74 94.94,415.33 95.29,417.80 95.64,420.12 95.99,422.30 96.33,424.35 96.68,426.25 97.03,428.02 97.38,429.66 97.72,431.19 98.07,432.61 98.42,433.92 98.77,435.14 99.11,436.27 99.46,437.31 99.81,438.29 100.16,439.19 100.50,440.03 100.85,440.81 101.20,441.54 101.55,442.22 101.89,442.85 102.24,443.44 102.59,443.99 102.94,444.51 103.28,444.99 103.63,445.45 103.98,445.87 104.32,446.27 104.67,446.65 105.02,447.01 105.37,447.34 105.72,447.65 106.06,447.95 106.41,448.23 106.76,448.50 107.10,448.75 107.45,448.99 107.80,449.21 108.15,449.43 108.50,449.63 108.84,449.82 109.19,450.01 109.54,450.18 109.88,450.35 110.23,450.51 110.58,450.66 110.93,450.80 111.28,450.94 111.62,451.07 111.97,451.20 112.32,451.32 112.66,451.44 113.01,451.55 113.36,451.65 113.71,451.75 114.06,451.85 114.40,451.94 114.75,452.03 115.10,452.12 115.44,452.20 115.79,452.28 116.14,452.36 116.49,452.43 116.84,452.50 117.18,452.57 117.53,452.64 117.88,452.70 118.22,452.76 118.57,452.82 118.92,452.88 119.27,452.94 119.62,452.99 119.96,453.04 120.31,453.09 120.66,453.14 121.00,453.19 121.35,453.23 121.70,453.28 122.05,453.32 122.39,453.36 122.74,453.40 123.09,453.44 123.44,453.48 123.78,453.51 124.13,453.55 124.48,453.58 124.83,453.61 125.17,453.65 125.52,453.68 125.87,453.71 126.22,453.74 126.56,453.77 126.91,453.80 127.26,453.82 127.61,453.85 127.95,453.87 128.30,453.90 128.65,453.92 129.00,453.95 129.34,453.97 129.69,453.99 130.04,454.02 130.39,454.04 130.74,454.06 131.08,454.08 131.43,454.10 131.78,454.12 132.12,454.14 132.47,454.16 132.82,454.17 133.17,454.19 133.52,454.21 133.86,454.23 134.21,454.24 134.56,454.26 134.91,454.27 135.25,454.29 135.60,454.30 135.95,454.32 136.30,454.33 136.64,454.35 136.99,454.36 137.34,454.37 137.69,454.39 138.03,454.40 138.38,454.41 138.73,454.42 139.07,454.44 139.42,454.45 139.77,454.46 140.12,454.47 140.47,454.48 140.81,454.49 141.16,454.50 141.51,454.51 141.85,454.52 142.20,454.53 142.55,454.54 142.90,454.55 143.25,454.56 143.59,454.57 143.94,454.58 144.29,454.59 144.63,454.60 144.98,454.61 145.33,454.62 145.68,454.62 146.03,454.63 146.37,454.64 146.72,454.65 147.07,454.66 147.41,454.66 147.76,454.67 148.11,454.68 148.46,454.69 148.81,454.69 149.15,454.70 149.50,454.71 149.85,454.71 150.19,454.72 150.54,454.73 150.89,454.73 151.24,454.74 151.59,454.74 151.93,454.75 152.28,454.76 152.63,454.76 152.98,454.77 153.32,454.77 153.67,454.78 154.02,454.78 154.37,454.79 154.71,454.80 155.06,454.80 155.41,454.81 155.75,454.81 156.10,454.82 156.45,454.82 156.80,454.83 157.15,454.83 157.49,454.83 157.84,454.84 158.19,454.84 158.53,454.85 158.88,454.85 159.23,454.86 159.58,454.86 159.93,454.87 160.27,454.87 160.62,454.87 160.97,454.88 161.31,454.88 161.66,454.89 162.01,454.89 162.36,454.89 162.71,454.90 163.05,454.90 163.40,454.90" fill="none" stroke="#e8261c" stroke-width="0.9" stroke-linejoin="round"/>
<path d="M23.75,454.73h1.30v1.30h-1.30zM24.45,454.72h1.30v1.30h-1.30zM25.14,454.51h1.30v1.30h-1.30zM25.84,454.13h1.30v1.30h-1.30zM26.53,454.43h1.30v1.30h-1.30zM27.23,454.10h1.30v1.30h-1.30zM27.92,452.77h1.30v1.30h-1.30zM28.62,453.24h1.30v1.30h-1.30zM29.31,454.57h1.30v1.30h-1.30zM30.00,453.90h1.30v1.30h-1.30zM30.70,454.01h1.30v1.30h-1.30zM31.40,454.10h1.30v1.30h-1.30zM32.09,453.53h1.30v1.30h-1.30zM32.79,454.17h1.30v1.30h-1.30zM33.48,454.15h1.30v1.30h-1.30zM34.17,454.15h1.30v1.30h-1.30zM34.87,454.01h1.30v1.30h-1.30zM35.57,453.33h1.30v1.30h-1.30zM36.26,453.55h1.30v1.30h-1.30zM36.95,454.55h1.30v1.30h-1.30zM37.65,454.10h1.30v1.30h-1.30zM38.34,454.25h1.30v1.30h-1.30zM39.04,453.46h1.30v1.30h-1.30zM39.73,453.72h1.30v1.30h-1.30zM40.43,453.38h1.30v1.30h-1.30zM41.12,453.81h1.30v1.30h-1.30zM41.82,454.66h1.30v1.30h-1.30zM42.52,453.51h1.30v1.30h-1.30zM43.21,453.59h1.30v1.30h-1.30zM43.90,453.43h1.30v1.30h-1.30zM44.60,454.26h1.30v1.30h-1.30zM45.29,453.57h1.30v1.30h-1.30zM45.99,453.91h1.30v1.30h-1.30zM46.69,453.87h1.30v1.30h-1.30zM47.38,453.34h1.30v1.30h-1.30zM48.07,453.30h1.30v1.30h-1.30zM48.77,453.86h1.30v1.30h-1.30zM49.46,454.21h1.30v1.30h-1.30zM50.16,454.53h1.30v1.30h-1.30zM50.85,453.58h1.30v1.30h-1.30zM51.55,452.72h1.30v1.30h-1.30zM52.24,453.23h1.30v1.30h-1.30zM52.94,454.22h1.30v1.30h-1.30zM53.63,453.51h1.30v1.30h-1.30zM54.33,452.83h1.30v1.30h-1.30zM55.02,452.17h1.30v1.30h-1.30zM55.72,452.35h1.30v1.30h-1.30zM56.41,452.66h1.30v1.30h-1.30zM57.11,452.66h1.30v1.30h-1.30zM57.80,453.18h1.30v1.30h-1.30zM58.50,452.81h1.30v1.30h-1.30zM59.20,452.66h1.30v1.30h-1.30zM59.89,452.77h1.30v1.30h-1.30zM60.59,452.27h1.30v1.30h-1.30zM61.28,452.37h1.30v1.30h-1.30zM61.98,451.90h1.30v1.30h-1.30zM62.67,451.25h1.30v1.30h-1.30zM63.36,451.44h1.30v1.30h-1.30zM64.06,451.45h1.30v1.30h-1.30zM64.75,451.60h1.30v1.30h-1.30zM65.45,452.04h1.30v1.30h-1.30zM66.14,451.18h1.30v1.30h-1.30zM66.84,450.66h1.30v1.30h-1.30zM67.53,451.17h1.30v1.30h-1.30zM68.23,449.85h1.30v1.30h-1.30zM68.92,450.34h1.30v1.30h-1.30zM69.62,449.71h1.30v1.30h-1.30zM70.31,449.72h1.30v1.30h-1.30zM71.01,449.81h1.30v1.30h-1.30zM71.70,447.83h1.30v1.30h-1.30zM72.40,448.94h1.30v1.30h-1.30zM73.09,447.46h1.30v1.30h-1.30zM73.79,447.62h1.30v1.30h-1.30zM74.48,446.62h1.30v1.30h-1.30zM75.18,446.46h1.30v1.30h-1.30zM75.88,445.50h1.30v1.30h-1.30zM76.57,444.00h1.30v1.30h-1.30zM77.26,442.52h1.30v1.30h-1.30zM77.96,442.72h1.30v1.30h-1.30zM78.66,441.02h1.30v1.30h-1.30zM79.35,439.09h1.30v1.30h-1.30zM80.04,438.12h1.30v1.30h-1.30zM80.74,435.49h1.30v1.30h-1.30zM81.43,433.90h1.30v1.30h-1.30zM82.13,430.55h1.30v1.30h-1.30zM82.82,427.50h1.30v1.30h-1.30zM83.52,423.51h1.30v1.30h-1.30zM84.21,419.75h1.30v1.30h-1.30zM84.91,415.75h1.30v1.30h-1.30zM85.60,409.61h1.30v1.30h-1.30zM86.30,404.80h1.30v1.30h-1.30zM87.00,398.17h1.30v1.30h-1.30zM87.69,392.41h1.30v1.30h-1.30zM88.38,388.43h1.30v1.30h-1.30zM89.08,386.19h1.30v1.30h-1.30zM89.77,384.68h1.30v1.30h-1.30zM90.47,386.73h1.30v1.30h-1.30zM91.16,390.91h1.30v1.30h-1.30zM91.86,395.38h1.30v1.30h-1.30zM92.55,400.13h1.30v1.30h-1.30zM93.25,406.71h1.30v1.30h-1.30zM93.94,412.03h1.30v1.30h-1.30zM94.64,417.31h1.30v1.30h-1.30zM95.34,422.46h1.30v1.30h-1.30zM96.03,425.84h1.30v1.30h-1.30zM96.72,428.84h1.30v1.30h-1.30zM97.42,431.86h1.30v1.30h-1.30zM98.12,434.57h1.30v1.30h-1.30zM98.81,437.68h1.30v1.30h-1.30zM99.50,437.96h1.30v1.30h-1.30zM100.20,439.82h1.30v1.30h-1.30zM100.90,441.08h1.30v1.30h-1.30zM101.59,442.17h1.30v1.30h-1.30zM102.28,444.07h1.30v1.30h-1.30zM102.98,445.09h1.30v1.30h-1.30zM103.67,445.47h1.30v1.30h-1.30zM104.37,445.56h1.30v1.30h-1.30zM105.06,447.81h1.30v1.30h-1.30zM105.76,447.69h1.30v1.30h-1.30zM106.45,448.44h1.30v1.30h-1.30zM107.15,448.30h1.30v1.30h-1.30zM107.84,448.28h1.30v1.30h-1.30zM108.54,449.50h1.30v1.30h-1.30zM109.23,450.29h1.30v1.30h-1.30zM109.93,449.99h1.30v1.30h-1.30zM110.62,450.43h1.30v1.30h-1.30zM111.32,451.28h1.30v1.30h-1.30zM112.01,450.36h1.30v1.30h-1.30zM112.71,451.25h1.30v1.30h-1.30zM113.41,450.87h1.30v1.30h-1.30zM114.10,452.01h1.30v1.30h-1.30zM114.79,451.03h1.30v1.30h-1.30zM115.49,452.40h1.30v1.30h-1.30zM116.19,451.35h1.30v1.30h-1.30zM116.88,452.85h1.30v1.30h-1.30zM117.57,451.46h1.30v1.30h-1.30zM118.27,452.41h1.30v1.30h-1.30zM118.97,453.08h1.30v1.30h-1.30zM119.66,452.55h1.30v1.30h-1.30zM120.35,452.38h1.30v1.30h-1.30zM121.05,453.10h1.30v1.30h-1.30zM121.74,452.94h1.30v1.30h-1.30zM122.44,452.66h1.30v1.30h-1.30zM123.13,452.94h1.30v1.30h-1.30zM123.83,454.39h1.30v1.30h-1.30zM124.52,453.20h1.30v1.30h-1.30zM125.22,452.86h1.30v1.30h-1.30zM125.91,452.98h1.30v1.30h-1.30zM126.61,452.69h1.30v1.30h-1.30zM127.30,453.55h1.30v1.30h-1.30zM128.00,452.06h1.30v1.30h-1.30zM128.69,452.94h1.30v1.30h-1.30zM129.39,453.22h1.30v1.30h-1.30zM130.09,452.89h1.30v1.30h-1.30zM130.78,452.99h1.30v1.30h-1.30zM131.47,453.44h1.30v1.30h-1.30zM132.17,453.82h1.30v1.30h-1.30zM132.87,453.07h1.30v1.30h-1.30zM133.56,453.39h1.30v1.30h-1.30zM134.25,454.53h1.30v1.30h-1.30zM134.95,454.18h1.30v1.30h-1.30zM135.65,453.46h1.30v1.30h-1.30zM136.34,453.66h1.30v1.30h-1.30zM137.03,453.60h1.30v1.30h-1.30zM137.73,453.46h1.30v1.30h-1.30zM138.42,453.72h1.30v1.30h-1.30zM139.12,453.06h1.30v1.30h-1.30zM139.81,454.11h1.30v1.30h-1.30zM140.51,454.04h1.30v1.30h-1.30zM141.20,453.72h1.30v1.30h-1.30zM141.90,453.54h1.30v1.30h-1.30zM142.59,453.54h1.30v1.30h-1.30zM143.29,453.22h1.30v1.30h-1.30zM143.98,454.18h1.30v1.30h-1.30zM144.68,453.41h1.30v1.30h-1.30zM145.38,453.76h1.30v1.30h-1.30zM146.07,454.50h1.30v1.30h-1.30zM146.76,454.08h1.30v1.30h-1.30zM147.46,453.03h1.30v1.30h-1.30zM148.16,453.67h1.30v1.30h-1.30zM148.85,454.28h1.30v1.30h-1.30zM149.54,455.21h1.30v1.30h-1.30zM150.24,454.43h1.30v1.30h-1.30zM150.94,454.43h1.30v1.30h-1.30zM151.63,454.07h1.30v1.30h-1.30zM152.33,453.02h1.30v1.30h-1.30zM153.02,453.77h1.30v1.30h-1.30zM153.72,453.99h1.30v1.30h-1.30zM154.41,454.60h1.30v1.30h-1.30zM155.10,454.73h1.30v1.30h-1.30zM155.80,454.27h1.30v1.30h-1.30zM156.50,454.40h1.30v1.30h-1.30zM157.19,452.76h1.30v1.30h-1.30zM157.88,454.39h1.30v1.30h-1.30zM158.58,454.50h1.30v1.30h-1.30zM159.28,453.68h1.30v1.30h-1.30zM159.97,454.19h1.30v1.30h-1.30zM160.66,454.82h1.30v1.30h-1.30zM161.36,453.62h1.30v1.30h-1.30zM162.06,454.40h1.30v1.30h-1.30zM162.75,454.89h1.30v1.30h-1.30z" fill="#111"/>
</g>
<rect x="24.4" y="370.2" width="139.0" height="102.10000000000002" fill="none" stroke="#808080" stroke-width="1"/>
<path d="M59.15,472.3v-1.6M59.15,370.2v1.6M93.90,472.3v-1.6M93.90,370.2v1.6M128.65,472.3v-1.6M128.65,370.2v1.6M24.4,455.28h1.6M163.4,455.28h-1.6M24.4,438.27h1.6M163.4,438.27h-1.6M24.4,421.25h1.6M163.4,421.25h-1.6M24.4,404.23h1.6M163.4,404.23h-1.6M24.4,387.22h1.6M163.4,387.22h-1.6" stroke="#808080" stroke-width="0.8" fill="none"/>
<text x="24.40" y="480.60" font-family="'Liberation Sans', sans-serif" font-size="6.2" text-anchor="middle" fill="#1e1e1e" stroke="#1e1e1e" stroke-width="0.16">1000</text>
<text x="93.90" y="480.60" font-family="'Liberation Sans', sans-serif" font-size="6.2" text-anchor="middle" fill="#1e1e1e" stroke="#1e1e1e" stroke-width="0.16">1050</text>
<text x="163.40" y="480.60" font-family="'Liberation Sans', sans-serif" font-size="6.2" text-anchor="middle" fill="#1e1e1e" stroke="#1e1e1e" stroke-width="0.16">1100</text>
<text x="21.50" y="457.39" font-family="'Liberation Sans', sans-serif" font-size="6.2" text-anchor="end" fill="#1e1e1e" stroke="#1e1e1e" stroke-width="0.16">0</text>
<text x="21.50" y="423.36" font-family="'Liberation Sans', sans-serif" font-size="6.2" text-anchor="end" fill="#1e1e1e" stroke="#1e1e1e" stroke-width="0.16">50</text>
<text x="21.50" y="389.32" font-family="'Liberation Sans', sans-serif" font-size="6.2" text-anchor="end" fill="#1e1e1e" stroke="#1e1e1e" stroke-width="0.16">100</text>
<text x="7.70" y="419.80" font-family="'Liberation Serif', serif" font-size="6.9" text-anchor="middle" fill="#1e1e1e" stroke="#1e1e1e" stroke-width="0.16" transform="rotate(-90 7.70 419.80)" textLength="38" lengthAdjust="spacingAndGlyphs">Intensity/a.u.</text>
<text x="99.90" y="397.20" font-family="'Liberation Serif', serif" font-size="8.6" text-anchor="start" fill="#1a1a1a" stroke="#1a1a1a" stroke-width="0.15" textLength="48.3" lengthAdjust="spacingAndGlyphs">40 MPa, 50 <tspan font-size="5.16" dy="-3.01">o</tspan><tspan dy="3.01">C</tspan></text>
<clipPath id="b1"><rect x="202.8" y="26.2" width="129.2" height="95.2"/></clipPath>
<g clip-path="url(#b1)">
<polygon points="202.80,95.56 202.80,93.99 203.12,93.98 203.45,93.96 203.77,93.94 204.09,93.93 204.42,93.91 204.74,93.89 205.06,93.88 205.38,93.86 205.71,93.84 206.03,93.82 206.35,93.80 206.68,93.78 207.00,93.76 207.32,93.74 207.65,93.72 207.97,93.70 208.29,93.68 208.61,93.65 208.94,93.63 209.26,93.61 209.58,93.58 209.91,93.56 210.23,93.53 210.55,93.51 210.88,93.48 211.20,93.45 211.52,93.42 211.84,93.40 212.17,93.37 212.49,93.34 212.81,93.30 213.14,93.27 213.46,93.24 213.78,93.21 214.11,93.17 214.43,93.14 214.75,93.10 215.07,93.06 215.40,93.03 215.72,92.99 216.04,92.95 216.37,92.91 216.69,92.86 217.01,92.82 217.34,92.78 217.66,92.73 217.98,92.68 218.30,92.64 218.63,92.59 218.95,92.54 219.27,92.48 219.60,92.43 219.92,92.37 220.24,92.32 220.56,92.26 220.89,92.20 221.21,92.14 221.53,92.07 221.86,92.01 222.18,91.94 222.50,91.87 222.83,91.80 223.15,91.73 223.47,91.65 223.80,91.58 224.12,91.50 224.44,91.41 224.76,91.33 225.09,91.24 225.41,91.15 225.73,91.06 226.06,90.96 226.38,90.86 226.70,90.76 227.03,90.65 227.35,90.54 227.67,90.43 227.99,90.31 228.32,90.19 228.64,90.07 228.96,89.94 229.29,89.81 229.61,89.67 229.93,89.53 230.25,89.38 230.58,89.23 230.90,89.07 231.22,88.90 231.55,88.73 231.87,88.56 232.19,88.37 232.52,88.18 232.84,87.99 233.16,87.78 233.49,87.57 233.81,87.35 234.13,87.12 234.45,86.89 234.78,86.64 235.10,86.38 235.42,86.12 235.75,85.84 236.07,85.55 236.39,85.25 236.72,84.94 237.04,84.62 237.36,84.28 237.68,83.92 238.01,83.56 238.33,83.17 238.65,82.77 238.98,82.36 239.30,81.92 239.62,81.47 239.94,80.99 240.27,80.50 240.59,79.99 240.91,79.45 241.24,78.89 241.56,78.30 241.88,77.69 242.21,77.05 242.53,76.39 242.85,75.69 243.18,74.97 243.50,74.21 243.82,73.43 244.14,72.61 244.47,71.76 244.79,70.87 245.11,69.95 245.44,69.00 245.76,68.01 246.08,66.99 246.41,65.94 246.73,64.85 247.05,63.73 247.37,62.59 247.70,61.41 248.02,60.22 248.34,59.01 248.67,57.78 248.99,56.55 249.31,55.31 249.63,54.09 249.96,52.87 250.28,51.69 250.60,50.53 250.93,49.42 251.25,48.37 251.57,47.38 251.90,46.47 252.22,45.66 252.54,44.94 252.87,44.34 253.19,43.85 253.51,43.49 253.83,43.26 254.16,43.17 254.48,43.22 254.80,43.40 255.13,43.71 255.45,44.16 255.77,44.72 256.10,45.41 256.42,46.19 256.74,47.07 257.06,48.04 257.39,49.07 257.71,50.17 258.03,51.31 258.36,52.50 258.68,53.71 259.00,54.94 259.32,56.18 259.65,57.43 259.97,58.66 260.29,59.89 260.62,61.10 260.94,62.29 261.26,63.45 261.59,64.59 261.91,65.70 262.23,66.78 262.56,67.82 262.88,68.83 263.20,69.80 263.52,70.74 263.85,71.65 264.17,72.52 264.49,73.36 264.82,74.17 265.14,74.95 265.46,75.69 265.79,76.40 266.11,77.09 266.43,77.75 266.75,78.38 267.08,78.98 267.40,79.56 267.72,80.11 268.05,80.65 268.37,81.16 268.69,81.65 269.01,82.12 269.34,82.57 269.66,83.00 269.98,83.41 270.31,83.81 270.63,84.19 270.95,84.56 271.28,84.91 271.60,85.25 271.92,85.58 272.25,85.89 272.57,86.19 272.89,86.48 273.21,86.76 273.54,87.03 273.86,87.29 274.18,87.54 274.51,87.78 274.83,88.01 275.15,88.23 275.48,88.44 275.80,88.65 276.12,88.85 276.44,89.05 276.77,89.23 277.09,89.41 277.41,89.59 277.74,89.76 278.06,89.92 278.38,90.08 278.71,90.23 279.03,90.38 279.35,90.52 279.67,90.66 280.00,90.79 280.32,90.93 280.64,91.05 280.97,91.17 281.29,91.29 281.61,91.41 281.94,91.52 282.26,91.63 282.58,91.73 282.90,91.84 283.23,91.94 283.55,92.03 283.87,92.13 284.20,92.22 284.52,92.31 284.84,92.40 285.16,92.48 285.49,92.56 285.81,92.64 286.13,92.72 286.46,92.80 286.78,92.87 287.10,92.94 287.43,93.01 287.75,93.08 288.07,93.15 288.39,93.22 288.72,93.28 289.04,93.34 289.36,93.40 289.69,93.46 290.01,93.52 290.33,93.58 290.66,93.63 290.98,93.69 291.30,93.74 291.62,93.79 291.95,93.84 292.27,93.89 292.59,93.94 292.92,93.99 293.24,94.03 293.56,94.08 293.89,94.12 294.21,94.17 294.53,94.21 294.86,94.25 295.18,94.29 295.50,94.33 295.82,94.37 296.15,94.41 296.47,94.45 296.79,94.49 297.12,94.52 297.44,94.56 297.76,94.60 298.09,94.63 298.41,94.66 298.73,94.70 299.05,94.73 299.38,94.76 299.70,94.79 300.02,94.82 300.35,94.86 300.67,94.89 300.99,94.91 301.31,94.94 301.64,94.97 301.96,95.00 302.28,95.03 302.61,95.05 302.93,95.08 303.25,95.11 303.58,95.13 303.90,95.16 304.22,95.18 304.55,95.21 304.87,95.23 305.19,95.26 305.51,95.28 305.84,95.30 306.16,95.33 306.48,95.35 306.81,95.37 307.13,95.39 307.45,95.41 307.77,95.44 308.10,95.46 308.42,95.48 308.74,95.50 309.07,95.52 309.39,95.54 309.71,95.56 310.04,95.56 310.36,95.56 310.68,95.56 311.00,95.56 311.33,95.56 311.65,95.56 311.97,95.56 312.30,95.56 312.62,95.56 312.94,95.56 313.27,95.56 313.59,95.56 313.91,95.56 314.24,95.56 314.56,95.56 314.88,95.56 315.20,95.56 315.53,95.56 315.85,95.56 316.17,95.56 316.50,95.56 316.82,95.56 317.14,95.56 317.46,95.56 317.79,95.56 318.11,95.56 318.43,95.56 318.76,95.56 319.08,95.56 319.40,95.56 319.73,95.56 320.05,95.56 320.37,95.56 320.69,95.56 321.02,95.56 321.34,95.56 321.66,95.56 321.99,95.56 322.31,95.56 322.63,95.56 322.96,95.56 323.28,95.56 323.60,95.56 323.93,95.56 324.25,95.56 324.57,95.56 324.89,95.56 325.22,95.56 325.54,95.56 325.86,95.56 326.19,95.56 326.51,95.56 326.83,95.56 327.15,95.56 327.48,95.56 327.80,95.56 328.12,95.56 328.45,95.56 328.77,95.56 329.09,95.56 329.42,95.56 329.74,95.56 330.06,95.56 330.38,95.56 330.71,95.56 331.03,95.56 331.35,95.56 331.68,95.56 332.00,95.56 332.00,95.56" fill="#42f597"/>
<path d="M202.10,94.87h1.40v1.40h-1.40zM202.75,94.66h1.40v1.40h-1.40zM203.39,97.96h1.40v1.40h-1.40zM204.04,94.67h1.40v1.40h-1.40zM204.68,94.61h1.40v1.40h-1.40zM205.33,101.00h1.40v1.40h-1.40zM205.98,105.53h1.40v1.40h-1.40zM206.62,107.08h1.40v1.40h-1.40zM207.27,99.44h1.40v1.40h-1.40zM207.91,95.00h1.40v1.40h-1.40zM208.56,96.16h1.40v1.40h-1.40zM209.21,94.46h1.40v1.40h-1.40zM209.85,92.50h1.40v1.40h-1.40zM210.50,98.68h1.40v1.40h-1.40zM211.14,94.67h1.40v1.40h-1.40zM211.79,103.48h1.40v1.40h-1.40zM212.44,95.30h1.40v1.40h-1.40zM213.08,96.01h1.40v1.40h-1.40zM213.73,97.39h1.40v1.40h-1.40zM214.37,98.28h1.40v1.40h-1.40zM215.02,100.31h1.40v1.40h-1.40zM215.67,95.45h1.40v1.40h-1.40zM216.31,91.00h1.40v1.40h-1.40zM216.96,96.39h1.40v1.40h-1.40zM217.60,92.78h1.40v1.40h-1.40zM218.25,96.57h1.40v1.40h-1.40zM218.90,92.87h1.40v1.40h-1.40zM219.54,96.88h1.40v1.40h-1.40zM220.19,91.52h1.40v1.40h-1.40zM220.83,93.17h1.40v1.40h-1.40zM221.48,90.81h1.40v1.40h-1.40zM222.13,93.59h1.40v1.40h-1.40zM222.77,95.11h1.40v1.40h-1.40zM223.42,91.69h1.40v1.40h-1.40zM224.06,86.42h1.40v1.40h-1.40zM224.71,84.05h1.40v1.40h-1.40zM225.36,90.32h1.40v1.40h-1.40zM226.00,85.87h1.40v1.40h-1.40zM226.65,85.53h1.40v1.40h-1.40zM227.29,86.32h1.40v1.40h-1.40zM227.94,92.68h1.40v1.40h-1.40zM228.59,85.51h1.40v1.40h-1.40zM229.23,89.53h1.40v1.40h-1.40zM229.88,81.37h1.40v1.40h-1.40zM230.52,82.15h1.40v1.40h-1.40zM231.17,82.36h1.40v1.40h-1.40zM231.82,93.09h1.40v1.40h-1.40zM232.46,81.47h1.40v1.40h-1.40zM233.11,80.71h1.40v1.40h-1.40zM233.75,87.19h1.40v1.40h-1.40zM234.40,78.68h1.40v1.40h-1.40zM235.05,81.25h1.40v1.40h-1.40zM235.69,81.53h1.40v1.40h-1.40zM236.34,82.71h1.40v1.40h-1.40zM236.98,83.05h1.40v1.40h-1.40zM237.63,80.18h1.40v1.40h-1.40zM238.28,66.87h1.40v1.40h-1.40zM238.92,76.12h1.40v1.40h-1.40zM239.57,75.09h1.40v1.40h-1.40zM240.21,77.01h1.40v1.40h-1.40zM240.86,75.70h1.40v1.40h-1.40zM241.51,74.56h1.40v1.40h-1.40zM242.15,74.73h1.40v1.40h-1.40zM242.80,67.36h1.40v1.40h-1.40zM243.44,70.15h1.40v1.40h-1.40zM244.09,64.73h1.40v1.40h-1.40zM244.74,70.34h1.40v1.40h-1.40zM245.38,61.31h1.40v1.40h-1.40zM246.03,62.89h1.40v1.40h-1.40zM246.67,58.51h1.40v1.40h-1.40zM247.32,59.21h1.40v1.40h-1.40zM247.97,59.88h1.40v1.40h-1.40zM248.61,50.33h1.40v1.40h-1.40zM249.26,53.31h1.40v1.40h-1.40zM249.90,49.53h1.40v1.40h-1.40zM250.55,49.57h1.40v1.40h-1.40zM251.20,43.42h1.40v1.40h-1.40zM251.84,43.58h1.40v1.40h-1.40zM252.49,39.70h1.40v1.40h-1.40zM253.13,38.49h1.40v1.40h-1.40zM253.78,41.69h1.40v1.40h-1.40zM254.43,45.01h1.40v1.40h-1.40zM255.07,39.77h1.40v1.40h-1.40zM255.72,39.80h1.40v1.40h-1.40zM256.36,42.70h1.40v1.40h-1.40zM257.01,51.62h1.40v1.40h-1.40zM257.66,48.03h1.40v1.40h-1.40zM258.30,51.52h1.40v1.40h-1.40zM258.95,54.64h1.40v1.40h-1.40zM259.59,56.86h1.40v1.40h-1.40zM260.24,62.19h1.40v1.40h-1.40zM260.89,62.86h1.40v1.40h-1.40zM261.53,62.80h1.40v1.40h-1.40zM262.18,70.03h1.40v1.40h-1.40zM262.82,75.36h1.40v1.40h-1.40zM263.47,72.53h1.40v1.40h-1.40zM264.12,73.23h1.40v1.40h-1.40zM264.76,82.08h1.40v1.40h-1.40zM265.41,79.46h1.40v1.40h-1.40zM266.05,76.38h1.40v1.40h-1.40zM266.70,80.30h1.40v1.40h-1.40zM267.35,80.64h1.40v1.40h-1.40zM267.99,86.53h1.40v1.40h-1.40zM268.64,79.91h1.40v1.40h-1.40zM269.28,77.87h1.40v1.40h-1.40zM269.93,85.67h1.40v1.40h-1.40zM270.58,88.39h1.40v1.40h-1.40zM271.22,90.67h1.40v1.40h-1.40zM271.87,84.16h1.40v1.40h-1.40zM272.51,87.62h1.40v1.40h-1.40zM273.16,91.43h1.40v1.40h-1.40zM273.81,84.94h1.40v1.40h-1.40zM274.45,87.09h1.40v1.40h-1.40zM275.10,88.20h1.40v1.40h-1.40zM275.74,97.06h1.40v1.40h-1.40zM276.39,91.69h1.40v1.40h-1.40zM277.04,89.56h1.40v1.40h-1.40zM277.68,96.14h1.40v1.40h-1.40zM278.33,88.53h1.40v1.40h-1.40zM278.97,86.75h1.40v1.40h-1.40zM279.62,88.12h1.40v1.40h-1.40zM280.27,94.29h1.40v1.40h-1.40zM280.91,94.18h1.40v1.40h-1.40zM281.56,88.28h1.40v1.40h-1.40zM282.20,88.01h1.40v1.40h-1.40zM282.85,87.08h1.40v1.40h-1.40zM283.50,87.08h1.40v1.40h-1.40zM284.14,91.56h1.40v1.40h-1.40zM284.79,92.54h1.40v1.40h-1.40zM285.43,97.51h1.40v1.40h-1.40zM286.08,88.04h1.40v1.40h-1.40zM286.73,82.81h1.40v1.40h-1.40zM287.37,92.54h1.40v1.40h-1.40zM288.02,92.62h1.40v1.40h-1.40zM288.66,88.67h1.40v1.40h-1.40zM289.31,89.66h1.40v1.40h-1.40zM289.96,95.85h1.40v1.40h-1.40zM290.60,93.54h1.40v1.40h-1.40zM291.25,94.90h1.40v1.40h-1.40zM291.89,83.88h1.40v1.40h-1.40zM292.54,93.56h1.40v1.40h-1.40zM293.19,88.00h1.40v1.40h-1.40zM293.83,84.23h1.40v1.40h-1.40zM294.48,84.30h1.40v1.40h-1.40zM295.12,85.94h1.40v1.40h-1.40zM295.77,85.20h1.40v1.40h-1.40zM296.42,95.31h1.40v1.40h-1.40zM297.06,92.14h1.40v1.40h-1.40zM297.71,93.46h1.40v1.40h-1.40zM298.35,91.89h1.40v1.40h-1.40zM299.00,81.56h1.40v1.40h-1.40zM299.65,96.85h1.40v1.40h-1.40zM300.29,89.01h1.40v1.40h-1.40zM300.94,95.43h1.40v1.40h-1.40zM301.58,86.40h1.40v1.40h-1.40zM302.23,86.61h1.40v1.40h-1.40zM302.88,93.09h1.40v1.40h-1.40zM303.52,84.03h1.40v1.40h-1.40zM304.17,91.15h1.40v1.40h-1.40zM304.81,86.87h1.40v1.40h-1.40zM305.46,90.44h1.40v1.40h-1.40zM306.11,93.59h1.40v1.40h-1.40zM306.75,93.01h1.40v1.40h-1.40zM307.40,92.15h1.40v1.40h-1.40zM308.04,89.60h1.40v1.40h-1.40zM308.69,91.40h1.40v1.40h-1.40zM309.34,83.56h1.40v1.40h-1.40zM309.98,92.64h1.40v1.40h-1.40zM310.63,93.66h1.40v1.40h-1.40zM311.27,94.61h1.40v1.40h-1.40zM311.92,94.87h1.40v1.40h-1.40zM312.57,97.26h1.40v1.40h-1.40zM313.21,95.71h1.40v1.40h-1.40zM313.86,89.07h1.40v1.40h-1.40zM314.50,92.11h1.40v1.40h-1.40zM315.15,92.98h1.40v1.40h-1.40zM315.80,91.18h1.40v1.40h-1.40zM316.44,88.70h1.40v1.40h-1.40zM317.09,90.34h1.40v1.40h-1.40zM317.73,89.83h1.40v1.40h-1.40zM318.38,94.59h1.40v1.40h-1.40zM319.03,93.70h1.40v1.40h-1.40zM319.67,95.68h1.40v1.40h-1.40zM320.32,93.44h1.40v1.40h-1.40zM320.96,96.15h1.40v1.40h-1.40zM321.61,94.74h1.40v1.40h-1.40zM322.26,94.20h1.40v1.40h-1.40zM322.90,94.51h1.40v1.40h-1.40zM323.55,94.85h1.40v1.40h-1.40zM324.19,95.80h1.40v1.40h-1.40zM324.84,89.59h1.40v1.40h-1.40zM325.49,95.59h1.40v1.40h-1.40zM326.13,98.12h1.40v1.40h-1.40zM326.78,94.01h1.40v1.40h-1.40zM327.42,98.71h1.40v1.40h-1.40zM328.07,98.81h1.40v1.40h-1.40zM328.72,94.87h1.40v1.40h-1.40zM329.36,101.22h1.40v1.40h-1.40zM330.01,106.87h1.40v1.40h-1.40zM330.65,94.62h1.40v1.40h-1.40zM331.30,92.14h1.40v1.40h-1.40z" fill="#111"/>
<polyline points="202.80,93.99 203.12,93.98 203.45,93.96 203.77,93.94 204.09,93.93 204.42,93.91 204.74,93.89 205.06,93.88 205.38,93.86 205.71,93.84 206.03,93.82 206.35,93.80 206.68,93.78 207.00,93.76 207.32,93.74 207.65,93.72 207.97,93.70 208.29,93.68 208.61,93.65 208.94,93.63 209.26,93.61 209.58,93.58 209.91,93.56 210.23,93.53 210.55,93.51 210.88,93.48 211.20,93.45 211.52,93.42 211.84,93.40 212.17,93.37 212.49,93.34 212.81,93.30 213.14,93.27 213.46,93.24 213.78,93.21 214.11,93.17 214.43,93.14 214.75,93.10 215.07,93.06 215.40,93.03 215.72,92.99 216.04,92.95 216.37,92.91 216.69,92.86 217.01,92.82 217.34,92.78 217.66,92.73 217.98,92.68 218.30,92.64 218.63,92.59 218.95,92.54 219.27,92.48 219.60,92.43 219.92,92.37 220.24,92.32 220.56,92.26 220.89,92.20 221.21,92.14 221.53,92.07 221.86,92.01 222.18,91.94 222.50,91.87 222.83,91.80 223.15,91.73 223.47,91.65 223.80,91.58 224.12,91.50 224.44,91.41 224.76,91.33 225.09,91.24 225.41,91.15 225.73,91.06 226.06,90.96 226.38,90.86 226.70,90.76 227.03,90.65 227.35,90.54 227.67,90.43 227.99,90.31 228.32,90.19 228.64,90.07 228.96,89.94 229.29,89.81 229.61,89.67 229.93,89.53 230.25,89.38 230.58,89.23 230.90,89.07 231.22,88.90 231.55,88.73 231.87,88.56 232.19,88.37 232.52,88.18 232.84,87.99 233.16,87.78 233.49,87.57 233.81,87.35 234.13,87.12 234.45,86.89 234.78,86.64 235.10,86.38 235.42,86.12 235.75,85.84 236.07,85.55 236.39,85.25 236.72,84.94 237.04,84.62 237.36,84.28 237.68,83.92 238.01,83.56 238.33,83.17 238.65,82.77 238.98,82.36 239.30,81.92 239.62,81.47 239.94,80.99 240.27,80.50 240.59,79.99 240.91,79.45 241.24,78.89 241.56,78.30 241.88,77.69 242.21,77.05 242.53,76.39 242.85,75.69 243.18,74.97 243.50,74.21 243.82,73.43 244.14,72.61 244.47,71.76 244.79,70.87 245.11,69.95 245.44,69.00 245.76,68.01 246.08,66.99 246.41,65.94 246.73,64.85 247.05,63.73 247.37,62.59 247.70,61.41 248.02,60.22 248.34,59.01 248.67,57.78 248.99,56.55 249.31,55.31 249.63,54.09 249.96,52.87 250.28,51.69 250.60,50.53 250.93,49.42 251.25,48.37 251.57,47.38 251.90,46.47 252.22,45.66 252.54,44.94 252.87,44.34 253.19,43.85 253.51,43.49 253.83,43.26 254.16,43.17 254.48,43.22 254.80,43.40 255.13,43.71 255.45,44.16 255.77,44.72 256.10,45.41 256.42,46.19 256.74,47.07 257.06,48.04 257.39,49.07 257.71,50.17 258.03,51.31 258.36,52.50 258.68,53.71 259.00,54.94 259.32,56.18 259.65,57.43 259.97,58.66 260.29,59.89 260.62,61.10 260.94,62.29 261.26,63.45 261.59,64.59 261.91,65.70 262.23,66.78 262.56,67.82 262.88,68.83 263.20,69.80 263.52,70.74 263.85,71.65 264.17,72.52 264.49,73.36 264.82,74.17 265.14,74.95 265.46,75.69 265.79,76.40 266.11,77.09 266.43,77.75 266.75,78.38 267.08,78.98 267.40,79.56 267.72,80.11 268.05,80.65 268.37,81.16 268.69,81.65 269.01,82.12 269.34,82.57 269.66,83.00 269.98,83.41 270.31,83.81 270.63,84.19 270.95,84.56 271.28,84.91 271.60,85.25 271.92,85.58 272.25,85.89 272.57,86.19 272.89,86.48 273.21,86.76 273.54,87.03 273.86,87.29 274.18,87.54 274.51,87.78 274.83,88.01 275.15,88.23 275.48,88.44 275.80,88.65 276.12,88.85 276.44,89.05 276.77,89.23 277.09,89.41 277.41,89.59 277.74,89.76 278.06,89.92 278.38,90.08 278.71,90.23 279.03,90.38 279.35,90.52 279.67,90.66 280.00,90.79 280.32,90.93 280.64,91.05 280.97,91.17 281.29,91.29 281.61,91.41 281.94,91.52 282.26,91.63 282.58,91.73 282.90,91.84 283.23,91.94 283.55,92.03 283.87,92.13 284.20,92.22 284.52,92.31 284.84,92.40 285.16,92.48 285.49,92.56 285.81,92.64 286.13,92.72 286.46,92.80 286.78,92.87 287.10,92.94 287.43,93.01 287.75,93.08 288.07,93.15 288.39,93.22 288.72,93.28 289.04,93.34 289.36,93.40 289.69,93.46 290.01,93.52 290.33,93.58 290.66,93.63 290.98,93.69 291.30,93.74 291.62,93.79 291.95,93.84 292.27,93.89 292.59,93.94 292.92,93.99 293.24,94.03 293.56,94.08 293.89,94.12 294.21,94.17 294.53,94.21 294.86,94.25 295.18,94.29 295.50,94.33 295.82,94.37 296.15,94.41 296.47,94.45 296.79,94.49 297.12,94.52 297.44,94.56 297.76,94.60 298.09,94.63 298.41,94.66 298.73,94.70 299.05,94.73 299.38,94.76 299.70,94.79 300.02,94.82 300.35,94.86 300.67,94.89 300.99,94.91 301.31,94.94 301.64,94.97 301.96,95.00 302.28,95.03 302.61,95.05 302.93,95.08 303.25,95.11 303.58,95.13 303.90,95.16 304.22,95.18 304.55,95.21 304.87,95.23 305.19,95.26 305.51,95.28 305.84,95.30 306.16,95.33 306.48,95.35 306.81,95.37 307.13,95.39 307.45,95.41 307.77,95.44 308.10,95.46 308.42,95.48 308.74,95.50 309.07,95.52 309.39,95.54 309.71,95.56 310.04,95.58 310.36,95.60 310.68,95.61 311.00,95.63 311.33,95.65 311.65,95.67 311.97,95.69 312.30,95.70 312.62,95.72 312.94,95.74 313.27,95.76 313.59,95.77 313.91,95.79 314.24,95.81 314.56,95.82 314.88,95.84 315.20,95.85 315.53,95.87 315.85,95.89 316.17,95.90 316.50,95.92 316.82,95.93 317.14,95.95 317.46,95.96 317.79,95.97 318.11,95.99 318.43,96.00 318.76,96.02 319.08,96.03 319.40,96.05 319.73,96.06 320.05,96.07 320.37,96.09 320.69,96.10 321.02,96.11 321.34,96.12 321.66,96.14 321.99,96.15 322.31,96.16 322.63,96.18 322.96,96.19 323.28,96.20 323.60,96.21 323.93,96.22 324.25,96.24 324.57,96.25 324.89,96.26 325.22,96.27 325.54,96.28 325.86,96.29 326.19,96.31 326.51,96.32 326.83,96.33 327.15,96.34 327.48,96.35 327.80,96.36 328.12,96.37 328.45,96.38 328.77,96.39 329.09,96.40 329.42,96.41 329.74,96.42 330.06,96.43 330.38,96.44 330.71,96.45 331.03,96.46 331.35,96.47 331.68,96.48 332.00,96.49" fill="none" stroke="#e8261c" stroke-width="1.3" stroke-linejoin="round"/>
</g>
<rect x="202.8" y="26.2" width="129.2" height="95.2" fill="none" stroke="#808080" stroke-width="1"/>
<path d="M235.10,121.4v-1.6M235.10,26.2v1.6M267.40,121.4v-1.6M267.40,26.2v1.6M299.70,121.4v-1.6M299.70,26.2v1.6M202.8,107.80h1.6M332,107.80h-1.6M202.8,94.20h1.6M332,94.20h-1.6M202.8,80.60h1.6M332,80.60h-1.6M202.8,67.00h1.6M332,67.00h-1.6M202.8,53.40h1.6M332,53.40h-1.6M202.8,39.80h1.6M332,39.80h-1.6" stroke="#808080" stroke-width="0.8" fill="none"/>
<text x="202.80" y="129.80" font-family="'Liberation Sans', sans-serif" font-size="6.1" text-anchor="middle" fill="#1e1e1e" stroke="#1e1e1e" stroke-width="0.16">1000</text>
<text x="267.40" y="129.80" font-family="'Liberation Sans', sans-serif" font-size="6.1" text-anchor="middle" fill="#1e1e1e" stroke="#1e1e1e" stroke-width="0.16">1050</text>
<text x="332.00" y="129.80" font-family="'Liberation Sans', sans-serif" font-size="6.1" text-anchor="middle" fill="#1e1e1e" stroke="#1e1e1e" stroke-width="0.16">1100</text>
<text x="199.30" y="123.17" font-family="'Liberation Sans', sans-serif" font-size="5.2" text-anchor="end" fill="#1e1e1e" stroke="#1e1e1e" stroke-width="0.16">&#8722;1</text>
<text x="199.30" y="95.97" font-family="'Liberation Sans', sans-serif" font-size="5.2" text-anchor="end" fill="#1e1e1e" stroke="#1e1e1e" stroke-width="0.16">0</text>
<text x="199.30" y="68.77" font-family="'Liberation Sans', sans-serif" font-size="5.2" text-anchor="end" fill="#1e1e1e" stroke="#1e1e1e" stroke-width="0.16">1</text>
<text x="199.30" y="41.57" font-family="'Liberation Sans', sans-serif" font-size="5.2" text-anchor="end" fill="#1e1e1e" stroke="#1e1e1e" stroke-width="0.16">2</text>
<text x="190.20" y="73.80" font-family="'Liberation Serif', serif" font-size="6.7" text-anchor="middle" fill="#1e1e1e" stroke="#1e1e1e" stroke-width="0.16" transform="rotate(-90 190.20 73.80)" textLength="35" lengthAdjust="spacingAndGlyphs">Intensity/a.u.</text>
<text x="271.90" y="44.00" font-family="'Liberation Serif', serif" font-size="8.6" text-anchor="start" fill="#1a1a1a" stroke="#1a1a1a" stroke-width="0.15" textLength="52.1" lengthAdjust="spacingAndGlyphs">40 MPa, 350 <tspan font-size="5.16" dy="-3.01">o</tspan><tspan dy="3.01">C</tspan></text>
<clipPath id="b2"><rect x="200.3" y="134.3" width="132.3" height="97.29999999999998"/></clipPath>
<g clip-path="url(#b2)">
<polygon points="200.30,231.60 200.30,222.05 200.63,222.04 200.96,222.03 201.29,222.01 201.62,222.00 201.95,221.99 202.28,221.97 202.62,221.96 202.95,221.95 203.28,221.93 203.61,221.92 203.94,221.90 204.27,221.89 204.60,221.87 204.93,221.86 205.26,221.84 205.59,221.83 205.92,221.81 206.25,221.79 206.58,221.78 206.92,221.76 207.25,221.74 207.58,221.72 207.91,221.71 208.24,221.69 208.57,221.67 208.90,221.65 209.23,221.63 209.56,221.61 209.89,221.59 210.22,221.57 210.55,221.55 210.88,221.52 211.21,221.50 211.55,221.48 211.88,221.45 212.21,221.43 212.54,221.41 212.87,221.38 213.20,221.35 213.53,221.33 213.86,221.30 214.19,221.27 214.52,221.24 214.85,221.22 215.18,221.19 215.51,221.16 215.85,221.12 216.18,221.09 216.51,221.06 216.84,221.03 217.17,220.99 217.50,220.96 217.83,220.92 218.16,220.88 218.49,220.85 218.82,220.81 219.15,220.77 219.48,220.73 219.81,220.68 220.15,220.64 220.48,220.60 220.81,220.55 221.14,220.50 221.47,220.46 221.80,220.41 222.13,220.36 222.46,220.30 222.79,220.25 223.12,220.19 223.45,220.14 223.78,220.08 224.11,220.02 224.44,219.95 224.78,219.89 225.11,219.82 225.44,219.75 225.77,219.68 226.10,219.61 226.43,219.53 226.76,219.46 227.09,219.37 227.42,219.29 227.75,219.21 228.08,219.12 228.41,219.02 228.74,218.93 229.08,218.83 229.41,218.73 229.74,218.62 230.07,218.51 230.40,218.40 230.73,218.28 231.06,218.16 231.39,218.03 231.72,217.90 232.05,217.76 232.38,217.62 232.71,217.47 233.04,217.31 233.38,217.15 233.71,216.98 234.04,216.81 234.37,216.63 234.70,216.44 235.03,216.24 235.36,216.03 235.69,215.82 236.02,215.59 236.35,215.35 236.68,215.11 237.01,214.85 237.34,214.58 237.67,214.29 238.01,213.99 238.34,213.68 238.67,213.35 239.00,213.00 239.33,212.64 239.66,212.26 239.99,211.86 240.32,211.43 240.65,210.99 240.98,210.51 241.31,210.02 241.64,209.49 241.97,208.93 242.31,208.35 242.64,207.73 242.97,207.07 243.30,206.37 243.63,205.63 243.96,204.85 244.29,204.02 244.62,203.14 244.95,202.20 245.28,201.21 245.61,200.15 245.94,199.03 246.27,197.84 246.61,196.57 246.94,195.23 247.27,193.81 247.60,192.30 247.93,190.71 248.26,189.02 248.59,187.24 248.92,185.37 249.25,183.41 249.58,181.36 249.91,179.22 250.24,177.01 250.57,174.73 250.90,172.40 251.24,170.04 251.57,167.67 251.90,165.32 252.23,163.03 252.56,160.83 252.89,158.77 253.22,156.88 253.55,155.22 253.88,153.82 254.21,152.72 254.54,151.96 254.87,151.55 255.20,151.51 255.54,151.84 255.87,152.54 256.20,153.57 256.53,154.91 256.86,156.53 257.19,158.37 257.52,160.40 257.85,162.58 258.18,164.85 258.51,167.19 258.84,169.56 259.17,171.92 259.50,174.26 259.84,176.55 260.17,178.78 260.50,180.93 260.83,183.00 261.16,184.98 261.49,186.87 261.82,188.66 262.15,190.37 262.48,191.98 262.81,193.50 263.14,194.94 263.47,196.30 263.80,197.58 264.13,198.78 264.47,199.92 264.80,200.99 265.13,201.99 265.46,202.94 265.79,203.83 266.12,204.67 266.45,205.46 266.78,206.21 267.11,206.91 267.44,207.58 267.77,208.21 268.10,208.80 268.43,209.36 268.77,209.89 269.10,210.40 269.43,210.87 269.76,211.32 270.09,211.75 270.42,212.16 270.75,212.54 271.08,212.91 271.41,213.26 271.74,213.59 272.07,213.91 272.40,214.21 272.73,214.49 273.07,214.77 273.40,215.03 273.73,215.28 274.06,215.52 274.39,215.74 274.72,215.96 275.05,216.17 275.38,216.37 275.71,216.56 276.04,216.74 276.37,216.92 276.70,217.09 277.03,217.25 277.36,217.40 277.70,217.55 278.03,217.70 278.36,217.84 278.69,217.97 279.02,218.10 279.35,218.22 279.68,218.34 280.01,218.45 280.34,218.56 280.67,218.67 281.00,218.77 281.33,218.87 281.66,218.97 282.00,219.06 282.33,219.15 282.66,219.23 282.99,219.32 283.32,219.40 283.65,219.48 283.98,219.55 284.31,219.62 284.64,219.70 284.97,219.76 285.30,219.83 285.63,219.90 285.96,219.96 286.30,220.02 286.63,220.08 286.96,220.13 287.29,220.19 287.62,220.24 287.95,220.30 288.28,220.35 288.61,220.40 288.94,220.44 289.27,220.49 289.60,220.54 289.93,220.58 290.26,220.62 290.59,220.67 290.93,220.71 291.26,220.75 291.59,220.79 291.92,220.82 292.25,220.86 292.58,220.90 292.91,220.93 293.24,220.96 293.57,221.00 293.90,221.03 294.23,221.06 294.56,221.09 294.89,221.12 295.23,221.15 295.56,221.18 295.89,221.21 296.22,221.23 296.55,221.26 296.88,221.29 297.21,221.31 297.54,221.34 297.87,221.36 298.20,221.39 298.53,221.41 298.86,221.43 299.19,221.45 299.53,221.48 299.86,221.50 300.19,221.52 300.52,221.54 300.85,221.56 301.18,221.58 301.51,221.60 301.84,221.61 302.17,221.63 302.50,221.65 302.83,221.67 303.16,221.69 303.49,221.70 303.82,221.72 304.16,221.74 304.49,221.75 304.82,221.77 305.15,221.78 305.48,221.80 305.81,221.81 306.14,221.83 306.47,221.84 306.80,221.85 307.13,221.87 307.46,221.88 307.79,221.89 308.12,221.91 308.46,221.92 308.79,221.93 309.12,221.94 309.45,221.96 309.78,221.97 310.11,221.98 310.44,221.99 310.77,222.00 311.10,222.01 311.43,222.02 311.76,222.03 312.09,222.04 312.42,222.05 312.75,222.06 313.09,222.07 313.42,222.08 313.75,222.09 314.08,222.10 314.41,222.11 314.74,222.12 315.07,222.13 315.40,222.14 315.73,222.15 316.06,222.15 316.39,222.16 316.72,222.17 317.05,222.18 317.39,222.19 317.72,222.19 318.05,222.20 318.38,222.21 318.71,222.22 319.04,222.22 319.37,222.23 319.70,222.24 320.03,222.24 320.36,222.25 320.69,222.26 321.02,222.26 321.35,222.27 321.69,222.28 322.02,222.28 322.35,222.29 322.68,222.30 323.01,222.30 323.34,222.31 323.67,222.31 324.00,222.32 324.33,222.33 324.66,222.33 324.99,222.34 325.32,222.34 325.65,222.35 325.99,222.35 326.32,222.36 326.65,222.36 326.98,222.37 327.31,222.37 327.64,222.38 327.97,222.38 328.30,222.39 328.63,222.39 328.96,222.40 329.29,222.40 329.62,222.41 329.95,222.41 330.28,222.41 330.62,222.42 330.95,222.42 331.28,222.43 331.61,222.43 331.94,222.44 332.27,222.44 332.60,222.44 332.60,231.60" fill="#42f597"/>
<polyline points="200.30,222.05 200.63,222.04 200.96,222.03 201.29,222.01 201.62,222.00 201.95,221.99 202.28,221.97 202.62,221.96 202.95,221.94 203.28,221.93 203.61,221.91 203.94,221.89 204.27,221.87 204.60,221.85 204.93,221.82 205.26,221.78 205.59,221.73 205.92,221.67 206.25,221.59 206.58,221.49 206.92,221.38 207.25,221.24 207.58,221.07 207.91,220.89 208.24,220.69 208.57,220.49 208.90,220.28 209.23,220.08 209.56,219.91 209.89,219.77 210.22,219.67 210.55,219.61 210.88,219.61 211.21,219.65 211.55,219.74 211.88,219.87 212.21,220.02 212.54,220.19 212.87,220.36 213.20,220.53 213.53,220.69 213.86,220.84 214.19,220.96 214.52,221.06 214.85,221.14 215.18,221.21 215.51,221.26 215.85,221.30 216.18,221.33 216.51,221.35 216.84,221.37 217.17,221.38 217.50,221.39 217.83,221.40 218.16,221.41 218.49,221.41 218.82,221.41 219.15,221.41 219.48,221.40 219.81,221.39 220.15,221.37 220.48,221.35 220.81,221.32 221.14,221.28 221.47,221.23 221.80,221.18 222.13,221.12 222.46,221.05 222.79,220.98 223.12,220.90 223.45,220.81 223.78,220.72 224.11,220.62 224.44,220.52 224.78,220.42 225.11,220.31 225.44,220.20 225.77,220.08 226.10,219.97 226.43,219.86 226.76,219.74 227.09,219.63 227.42,219.51 227.75,219.40 228.08,219.28 228.41,219.16 228.74,219.05 229.08,218.93 229.41,218.81 229.74,218.69 230.07,218.57 230.40,218.44 230.73,218.32 231.06,218.19 231.39,218.05 231.72,217.92 232.05,217.77 232.38,217.63 232.71,217.48 233.04,217.32 233.38,217.16 233.71,216.99 234.04,216.81 234.37,216.63 234.70,216.44 235.03,216.24 235.36,216.03 235.69,215.82 236.02,215.59 236.35,215.35 236.68,215.11 237.01,214.85 237.34,214.58 237.67,214.29 238.01,213.99 238.34,213.68 238.67,213.35 239.00,213.00 239.33,212.64 239.66,212.26 239.99,211.86 240.32,211.43 240.65,210.99 240.98,210.51 241.31,210.02 241.64,209.49 241.97,208.93 242.31,208.35 242.64,207.73 242.97,207.07 243.30,206.37 243.63,205.63 243.96,204.85 244.29,204.02 244.62,203.14 244.95,202.20 245.28,201.21 245.61,200.15 245.94,199.03 246.27,197.84 246.61,196.57 246.94,195.23 247.27,193.81 247.60,192.30 247.93,190.71 248.26,189.02 248.59,187.24 248.92,185.37 249.25,183.41 249.58,181.36 249.91,179.22 250.24,177.01 250.57,174.73 250.90,172.40 251.24,170.04 251.57,167.67 251.90,165.32 252.23,163.03 252.56,160.83 252.89,158.77 253.22,156.88 253.55,155.22 253.88,153.82 254.21,152.72 254.54,151.96 254.87,151.55 255.20,151.51 255.54,151.84 255.87,152.54 256.20,153.57 256.53,154.91 256.86,156.53 257.19,158.37 257.52,160.40 257.85,162.58 258.18,164.85 258.51,167.19 258.84,169.56 259.17,171.92 259.50,174.26 259.84,176.55 260.17,178.78 260.50,180.93 260.83,183.00 261.16,184.98 261.49,186.87 261.82,188.66 262.15,190.37 262.48,191.98 262.81,193.50 263.14,194.94 263.47,196.30 263.80,197.58 264.13,198.78 264.47,199.92 264.80,200.99 265.13,201.99 265.46,202.94 265.79,203.83 266.12,204.67 266.45,205.46 266.78,206.21 267.11,206.91 267.44,207.58 267.77,208.21 268.10,208.80 268.43,209.36 268.77,209.89 269.10,210.40 269.43,210.87 269.76,211.32 270.09,211.75 270.42,212.16 270.75,212.54 271.08,212.91 271.41,213.26 271.74,213.59 272.07,213.91 272.40,214.21 272.73,214.49 273.07,214.77 273.40,215.03 273.73,215.28 274.06,215.52 274.39,215.74 274.72,215.96 275.05,216.17 275.38,216.37 275.71,216.56 276.04,216.74 276.37,216.92 276.70,217.09 277.03,217.25 277.36,217.40 277.70,217.55 278.03,217.70 278.36,217.84 278.69,217.97 279.02,218.10 279.35,218.22 279.68,218.34 280.01,218.45 280.34,218.56 280.67,218.67 281.00,218.77 281.33,218.87 281.66,218.97 282.00,219.06 282.33,219.15 282.66,219.23 282.99,219.32 283.32,219.40 283.65,219.48 283.98,219.55 284.31,219.62 284.64,219.70 284.97,219.76 285.30,219.83 285.63,219.90 285.96,219.96 286.30,220.02 286.63,220.08 286.96,220.13 287.29,220.19 287.62,220.24 287.95,220.30 288.28,220.35 288.61,220.40 288.94,220.44 289.27,220.49 289.60,220.54 289.93,220.58 290.26,220.62 290.59,220.67 290.93,220.71 291.26,220.75 291.59,220.79 291.92,220.82 292.25,220.86 292.58,220.90 292.91,220.93 293.24,220.96 293.57,221.00 293.90,221.03 294.23,221.06 294.56,221.09 294.89,221.12 295.23,221.15 295.56,221.18 295.89,221.21 296.22,221.23 296.55,221.26 296.88,221.29 297.21,221.31 297.54,221.34 297.87,221.36 298.20,221.39 298.53,221.41 298.86,221.43 299.19,221.45 299.53,221.48 299.86,221.50 300.19,221.52 300.52,221.54 300.85,221.56 301.18,221.58 301.51,221.60 301.84,221.61 302.17,221.63 302.50,221.65 302.83,221.67 303.16,221.69 303.49,221.70 303.82,221.72 304.16,221.74 304.49,221.75 304.82,221.77 305.15,221.78 305.48,221.80 305.81,221.81 306.14,221.83 306.47,221.84 306.80,221.85 307.13,221.87 307.46,221.88 307.79,221.89 308.12,221.91 308.46,221.92 308.79,221.93 309.12,221.94 309.45,221.96 309.78,221.97 310.11,221.98 310.44,221.99 310.77,222.00 311.10,222.01 311.43,222.02 311.76,222.03 312.09,222.04 312.42,222.05 312.75,222.06 313.09,221.49 313.42,221.50 313.75,221.51 314.08,221.52 314.41,221.53 314.74,221.54 315.07,221.54 315.40,221.55 315.73,221.56 316.06,221.57 316.39,221.58 316.72,221.59 317.05,221.59 317.39,221.60 317.72,221.61 318.05,221.62 318.38,221.62 318.71,221.63 319.04,221.64 319.37,221.65 319.70,221.65 320.03,221.66 320.36,221.67 320.69,221.67 321.02,221.68 321.35,221.69 321.69,221.69 322.02,221.70 322.35,221.71 322.68,221.71 323.01,221.72 323.34,221.72 323.67,221.73 324.00,221.74 324.33,221.74 324.66,221.75 324.99,221.75 325.32,221.76 325.65,221.76 325.99,221.77 326.32,221.77 326.65,221.78 326.98,221.78 327.31,221.79 327.64,221.79 327.97,221.80 328.30,221.80 328.63,221.81 328.96,221.81 329.29,221.82 329.62,221.82 329.95,221.83 330.28,221.83 330.62,221.84 330.95,221.84 331.28,221.84 331.61,221.85 331.94,221.85 332.27,221.86 332.60,221.86" fill="none" stroke="#111" stroke-width="1.4" stroke-linejoin="round"/>
<polyline points="200.30,222.05 200.63,222.04 200.96,222.03 201.29,222.01 201.62,222.00 201.95,221.99 202.28,221.97 202.62,221.96 202.95,221.95 203.28,221.93 203.61,221.92 203.94,221.90 204.27,221.89 204.60,221.87 204.93,221.86 205.26,221.84 205.59,221.83 205.92,221.81 206.25,221.79 206.58,221.78 206.92,221.76 207.25,221.74 207.58,221.72 207.91,221.71 208.24,221.69 208.57,221.67 208.90,221.65 209.23,221.63 209.56,221.61 209.89,221.59 210.22,221.57 210.55,221.55 210.88,221.52 211.21,221.50 211.55,221.48 211.88,221.45 212.21,221.43 212.54,221.41 212.87,221.38 213.20,221.35 213.53,221.33 213.86,221.30 214.19,221.27 214.52,221.24 214.85,221.22 215.18,221.19 215.51,221.16 215.85,221.12 216.18,221.09 216.51,221.06 216.84,221.03 217.17,220.99 217.50,220.96 217.83,220.92 218.16,220.88 218.49,220.85 218.82,220.81 219.15,220.77 219.48,220.73 219.81,220.68 220.15,220.64 220.48,220.60 220.81,220.55 221.14,220.50 221.47,220.46 221.80,220.41 222.13,220.36 222.46,220.30 222.79,220.25 223.12,220.19 223.45,220.14 223.78,220.08 224.11,220.02 224.44,219.95 224.78,219.89 225.11,219.82 225.44,219.75 225.77,219.68 226.10,219.61 226.43,219.53 226.76,219.46 227.09,219.37 227.42,219.29 227.75,219.21 228.08,219.12 228.41,219.02 228.74,218.93 229.08,218.83 229.41,218.73 229.74,218.62 230.07,218.51 230.40,218.40 230.73,218.28 231.06,218.16 231.39,218.03 231.72,217.90 232.05,217.76 232.38,217.62 232.71,217.47 233.04,217.31 233.38,217.15 233.71,216.98 234.04,216.81 234.37,216.63 234.70,216.44 235.03,216.24 235.36,216.03 235.69,215.82 236.02,215.59 236.35,215.35 236.68,215.11 237.01,214.85 237.34,214.58 237.67,214.29 238.01,213.99 238.34,213.68 238.67,213.35 239.00,213.00 239.33,212.64 239.66,212.26 239.99,211.86 240.32,211.43 240.65,210.99 240.98,210.51 241.31,210.02 241.64,209.49 241.97,208.93 242.31,208.35 242.64,207.73 242.97,207.07 243.30,206.37 243.63,205.63 243.96,204.85 244.29,204.02 244.62,203.14 244.95,202.20 245.28,201.21 245.61,200.15 245.94,199.03 246.27,197.84 246.61,196.57 246.94,195.23 247.27,193.81 247.60,192.30 247.93,190.71 248.26,189.02 248.59,187.24 248.92,185.37 249.25,183.41 249.58,181.36 249.91,179.22 250.24,177.01 250.57,174.73 250.90,172.40 251.24,170.04 251.57,167.67 251.90,165.32 252.23,163.03 252.56,160.83 252.89,158.77 253.22,156.88 253.55,155.22 253.88,153.82 254.21,152.72 254.54,151.96 254.87,151.55 255.20,151.51 255.54,151.84 255.87,152.54 256.20,153.57 256.53,154.91 256.86,156.53 257.19,158.37 257.52,160.40 257.85,162.58 258.18,164.85 258.51,167.19 258.84,169.56 259.17,171.92 259.50,174.26 259.84,176.55 260.17,178.78 260.50,180.93 260.83,183.00 261.16,184.98 261.49,186.87 261.82,188.66 262.15,190.37 262.48,191.98 262.81,193.50 263.14,194.94 263.47,196.30 263.80,197.58 264.13,198.78 264.47,199.92 264.80,200.99 265.13,201.99 265.46,202.94 265.79,203.83 266.12,204.67 266.45,205.46 266.78,206.21 267.11,206.91 267.44,207.58 267.77,208.21 268.10,208.80 268.43,209.36 268.77,209.89 269.10,210.40 269.43,210.87 269.76,211.32 270.09,211.75 270.42,212.16 270.75,212.54 271.08,212.91 271.41,213.26 271.74,213.59 272.07,213.91 272.40,214.21 272.73,214.49 273.07,214.77 273.40,215.03 273.73,215.28 274.06,215.52 274.39,215.74 274.72,215.96 275.05,216.17 275.38,216.37 275.71,216.56 276.04,216.74 276.37,216.92 276.70,217.09 277.03,217.25 277.36,217.40 277.70,217.55 278.03,217.70 278.36,217.84 278.69,217.97 279.02,218.10 279.35,218.22 279.68,218.34 280.01,218.45 280.34,218.56 280.67,218.67 281.00,218.77 281.33,218.87 281.66,218.97 282.00,219.06 282.33,219.15 282.66,219.23 282.99,219.32 283.32,219.40 283.65,219.48 283.98,219.55 284.31,219.62 284.64,219.70 284.97,219.76 285.30,219.83 285.63,219.90 285.96,219.96 286.30,220.02 286.63,220.08 286.96,220.13 287.29,220.19 287.62,220.24 287.95,220.30 288.28,220.35 288.61,220.40 288.94,220.44 289.27,220.49 289.60,220.54 289.93,220.58 290.26,220.62 290.59,220.67 290.93,220.71 291.26,220.75 291.59,220.79 291.92,220.82 292.25,220.86 292.58,220.90 292.91,220.93 293.24,220.96 293.57,221.00 293.90,221.03 294.23,221.06 294.56,221.09 294.89,221.12 295.23,221.15 295.56,221.18 295.89,221.21 296.22,221.23 296.55,221.26 296.88,221.29 297.21,221.31 297.54,221.34 297.87,221.36 298.20,221.39 298.53,221.41 298.86,221.43 299.19,221.45 299.53,221.48 299.86,221.50 300.19,221.52 300.52,221.54 300.85,221.56 301.18,221.58 301.51,221.60 301.84,221.61 302.17,221.63 302.50,221.65 302.83,221.67 303.16,221.69 303.49,221.70 303.82,221.72 304.16,221.74 304.49,221.75 304.82,221.77 305.15,221.78 305.48,221.80 305.81,221.81 306.14,221.83 306.47,221.84 306.80,221.85 307.13,221.87 307.46,221.88 307.79,221.89 308.12,221.91 308.46,221.92 308.79,221.93 309.12,221.94 309.45,221.96 309.78,221.97 310.11,221.98 310.44,221.99 310.77,222.00 311.10,222.01 311.43,222.02 311.76,222.03 312.09,222.04 312.42,222.05 312.75,222.06 313.09,222.07 313.42,222.08 313.75,222.09 314.08,222.10 314.41,222.11 314.74,222.12 315.07,222.13 315.40,222.14 315.73,222.15 316.06,222.15 316.39,222.16 316.72,222.17 317.05,222.18 317.39,222.19 317.72,222.19 318.05,222.20 318.38,222.21 318.71,222.22 319.04,222.22 319.37,222.23 319.70,222.24 320.03,222.24 320.36,222.25 320.69,222.26 321.02,222.26 321.35,222.27 321.69,222.28 322.02,222.28 322.35,222.29 322.68,222.30 323.01,222.30 323.34,222.31 323.67,222.31 324.00,222.32 324.33,222.33 324.66,222.33 324.99,222.34 325.32,222.34 325.65,222.35 325.99,222.35 326.32,222.36 326.65,222.36 326.98,222.37 327.31,222.37 327.64,222.38 327.97,222.38 328.30,222.39 328.63,222.39 328.96,222.40 329.29,222.40 329.62,222.41 329.95,222.41 330.28,222.41 330.62,222.42 330.95,222.42 331.28,222.43 331.61,222.43 331.94,222.44 332.27,222.44 332.60,222.44" fill="none" stroke="#e8261c" stroke-width="1.35" stroke-linejoin="round"/>
</g>
<rect x="200.3" y="134.3" width="132.3" height="97.29999999999998" fill="none" stroke="#808080" stroke-width="1"/>
<path d="M233.38,231.6v-1.6M233.38,134.3v1.6M266.45,231.6v-1.6M266.45,134.3v1.6M299.53,231.6v-1.6M299.53,134.3v1.6M200.3,221.87h1.6M332.6,221.87h-1.6M200.3,212.14h1.6M332.6,212.14h-1.6M200.3,202.41h1.6M332.6,202.41h-1.6M200.3,192.68h1.6M332.6,192.68h-1.6M200.3,182.95h1.6M332.6,182.95h-1.6M200.3,173.22h1.6M332.6,173.22h-1.6M200.3,163.49h1.6M332.6,163.49h-1.6M200.3,153.76h1.6M332.6,153.76h-1.6M200.3,144.03h1.6M332.6,144.03h-1.6" stroke="#808080" stroke-width="0.8" fill="none"/>
<text x="200.30" y="239.70" font-family="'Liberation Serif', serif" font-size="6.6" text-anchor="middle" fill="#1e1e1e" stroke="#1e1e1e" stroke-width="0.16">1000</text>
<text x="266.45" y="239.70" font-family="'Liberation Serif', serif" font-size="6.6" text-anchor="middle" fill="#1e1e1e" stroke="#1e1e1e" stroke-width="0.16">1050</text>
<text x="332.60" y="239.70" font-family="'Liberation Serif', serif" font-size="6.6" text-anchor="middle" fill="#1e1e1e" stroke="#1e1e1e" stroke-width="0.16">1100</text>
<text x="197.30" y="223.74" font-family="'Liberation Sans', sans-serif" font-size="5.5" text-anchor="end" fill="#1e1e1e" stroke="#1e1e1e" stroke-width="0.16">0</text>
<text x="197.30" y="204.28" font-family="'Liberation Sans', sans-serif" font-size="5.5" text-anchor="end" fill="#1e1e1e" stroke="#1e1e1e" stroke-width="0.16">2</text>
<text x="197.30" y="184.82" font-family="'Liberation Sans', sans-serif" font-size="5.5" text-anchor="end" fill="#1e1e1e" stroke="#1e1e1e" stroke-width="0.16">4</text>
<text x="197.30" y="165.36" font-family="'Liberation Sans', sans-serif" font-size="5.5" text-anchor="end" fill="#1e1e1e" stroke="#1e1e1e" stroke-width="0.16">6</text>
<text x="197.30" y="145.90" font-family="'Liberation Sans', sans-serif" font-size="5.5" text-anchor="end" fill="#1e1e1e" stroke="#1e1e1e" stroke-width="0.16">8</text>
<text x="191.40" y="183.70" font-family="'Liberation Serif', serif" font-size="6.2" text-anchor="middle" fill="#1e1e1e" stroke="#1e1e1e" stroke-width="0.16" transform="rotate(-90 191.40 183.70)" textLength="32.6" lengthAdjust="spacingAndGlyphs">Intensity/a.u.</text>
<text x="267.60" y="159.20" font-family="'Liberation Serif', serif" font-size="8.6" text-anchor="start" fill="#1a1a1a" stroke="#1a1a1a" stroke-width="0.15" textLength="52.3" lengthAdjust="spacingAndGlyphs">40 MPa, 250 <tspan font-size="5.16" dy="-3.01">o</tspan><tspan dy="3.01">C</tspan></text>
<clipPath id="b3"><rect x="199.9" y="253.4" width="134.9" height="99.79999999999998"/></clipPath>
<g clip-path="url(#b3)">
<polygon points="199.90,340.72 199.90,340.15 200.24,340.14 200.57,340.14 200.91,340.13 201.25,340.12 201.59,340.12 201.92,340.11 202.26,340.10 202.60,340.09 202.94,340.09 203.27,340.08 203.61,340.07 203.95,340.06 204.28,340.05 204.62,340.05 204.96,340.04 205.30,340.03 205.63,340.02 205.97,340.01 206.31,340.00 206.65,339.99 206.98,339.98 207.32,339.97 207.66,339.96 207.99,339.95 208.33,339.94 208.67,339.93 209.01,339.92 209.34,339.91 209.68,339.90 210.02,339.89 210.35,339.88 210.69,339.86 211.03,339.85 211.37,339.84 211.70,339.83 212.04,339.81 212.38,339.80 212.72,339.79 213.05,339.77 213.39,339.76 213.73,339.74 214.06,339.73 214.40,339.71 214.74,339.70 215.08,339.68 215.41,339.67 215.75,339.65 216.09,339.63 216.43,339.62 216.76,339.60 217.10,339.58 217.44,339.56 217.77,339.54 218.11,339.52 218.45,339.50 218.79,339.48 219.12,339.46 219.46,339.44 219.80,339.42 220.13,339.39 220.47,339.37 220.81,339.35 221.15,339.32 221.48,339.30 221.82,339.27 222.16,339.24 222.50,339.22 222.83,339.19 223.17,339.16 223.51,339.13 223.84,339.10 224.18,339.07 224.52,339.03 224.86,339.00 225.19,338.97 225.53,338.93 225.87,338.89 226.21,338.86 226.54,338.82 226.88,338.78 227.22,338.74 227.55,338.69 227.89,338.65 228.23,338.60 228.57,338.56 228.90,338.51 229.24,338.46 229.58,338.41 229.92,338.35 230.25,338.30 230.59,338.24 230.93,338.18 231.26,338.12 231.60,338.06 231.94,337.99 232.28,337.92 232.61,337.85 232.95,337.78 233.29,337.70 233.62,337.62 233.96,337.54 234.30,337.45 234.64,337.36 234.97,337.27 235.31,337.17 235.65,337.07 235.99,336.96 236.32,336.85 236.66,336.74 237.00,336.62 237.33,336.49 237.67,336.36 238.01,336.23 238.35,336.08 238.68,335.93 239.02,335.78 239.36,335.61 239.70,335.44 240.03,335.25 240.37,335.06 240.71,334.86 241.04,334.65 241.38,334.43 241.72,334.19 242.06,333.94 242.39,333.68 242.73,333.40 243.07,333.11 243.41,332.80 243.74,332.47 244.08,332.12 244.42,331.75 244.75,331.36 245.09,330.94 245.43,330.50 245.77,330.02 246.10,329.51 246.44,328.97 246.78,328.40 247.12,327.78 247.45,327.11 247.79,326.40 248.13,325.64 248.46,324.82 248.80,323.94 249.14,322.99 249.48,321.97 249.81,320.86 250.15,319.68 250.49,318.40 250.82,317.01 251.16,315.52 251.50,313.91 251.84,312.18 252.17,310.31 252.51,308.30 252.85,306.14 253.19,303.84 253.52,301.39 253.86,298.79 254.20,296.05 254.53,293.19 254.87,290.23 255.21,287.22 255.55,284.19 255.88,281.21 256.22,278.35 256.56,275.69 256.90,273.32 257.23,271.33 257.57,269.80 257.91,268.80 258.24,268.38 258.58,268.56 258.92,269.33 259.26,270.66 259.59,272.47 259.93,274.70 260.27,277.26 260.61,280.05 260.94,282.99 261.28,286.01 261.62,289.03 261.95,292.02 262.29,294.92 262.63,297.71 262.97,300.36 263.30,302.88 263.64,305.24 263.98,307.45 264.31,309.52 264.65,311.44 264.99,313.23 265.33,314.89 265.66,316.43 266.00,317.85 266.34,319.18 266.68,320.40 267.01,321.54 267.35,322.59 267.69,323.57 268.02,324.47 268.36,325.32 268.70,326.10 269.04,326.83 269.37,327.52 269.71,328.15 270.05,328.75 270.39,329.30 270.72,329.82 271.06,330.31 271.40,330.77 271.73,331.20 272.07,331.60 272.41,331.98 272.75,332.34 273.08,332.67 273.42,332.99 273.76,333.29 274.10,333.57 274.43,333.84 274.77,334.09 275.11,334.33 275.44,334.56 275.78,334.78 276.12,334.98 276.46,335.18 276.79,335.37 277.13,335.54 277.47,335.71 277.80,335.87 278.14,336.02 278.48,336.17 278.82,336.31 279.15,336.44 279.49,336.57 279.83,336.69 280.17,336.81 280.50,336.92 280.84,337.03 281.18,337.13 281.51,337.23 281.85,337.32 282.19,337.42 282.53,337.50 282.86,337.59 283.20,337.67 283.54,337.75 283.88,337.82 284.21,337.89 284.55,337.96 284.89,338.03 285.22,338.09 285.56,338.16 285.90,338.22 286.24,338.28 286.57,338.33 286.91,338.39 287.25,338.44 287.59,338.49 287.92,338.54 288.26,338.59 288.60,338.63 288.93,338.68 289.27,338.72 289.61,338.76 289.95,338.80 290.28,338.84 290.62,338.88 290.96,338.92 291.29,338.95 291.63,338.99 291.97,339.02 292.31,339.05 292.64,339.09 292.98,339.12 293.32,339.15 293.66,339.18 293.99,339.20 294.33,339.23 294.67,339.26 295.00,339.29 295.34,339.31 295.68,339.34 296.02,339.36 296.35,339.38 296.69,339.41 297.03,339.43 297.37,339.45 297.70,339.47 298.04,339.49 298.38,339.51 298.71,339.53 299.05,339.55 299.39,339.57 299.73,339.59 300.06,339.61 300.40,339.63 300.74,339.64 301.08,339.66 301.41,339.68 301.75,339.69 302.09,339.71 302.42,339.72 302.76,339.74 303.10,339.75 303.44,339.77 303.77,339.78 304.11,339.79 304.45,339.81 304.78,339.82 305.12,339.83 305.46,339.85 305.80,339.86 306.13,339.87 306.47,339.88 306.81,339.89 307.15,339.91 307.48,339.92 307.82,339.93 308.16,339.94 308.49,339.95 308.83,339.96 309.17,339.97 309.51,339.98 309.84,339.99 310.18,340.00 310.52,340.01 310.86,340.02 311.19,340.02 311.53,340.03 311.87,340.04 312.20,340.05 312.54,340.06 312.88,340.07 313.22,340.08 313.55,340.08 313.89,340.09 314.23,340.10 314.56,340.11 314.90,340.11 315.24,340.12 315.58,340.13 315.91,340.13 316.25,340.14 316.59,340.15 316.93,340.15 317.26,340.16 317.60,340.17 317.94,340.17 318.27,340.18 318.61,340.19 318.95,340.19 319.29,340.20 319.62,340.20 319.96,340.21 320.30,340.21 320.64,340.22 320.97,340.22 321.31,340.23 321.65,340.24 321.98,340.24 322.32,340.25 322.66,340.25 323.00,340.26 323.33,340.26 323.67,340.27 324.01,340.27 324.35,340.27 324.68,340.28 325.02,340.28 325.36,340.29 325.69,340.29 326.03,340.30 326.37,340.30 326.71,340.30 327.04,340.31 327.38,340.31 327.72,340.32 328.06,340.32 328.39,340.32 328.73,340.33 329.07,340.33 329.40,340.34 329.74,340.34 330.08,340.34 330.42,340.35 330.75,340.35 331.09,340.35 331.43,340.36 331.76,340.36 332.10,340.36 332.44,340.37 332.78,340.37 333.11,340.37 333.45,340.38 333.79,340.38 334.13,340.38 334.46,340.39 334.80,340.39 334.80,340.72" fill="#42f597"/>
<path d="M199.25,340.51h1.30v1.30h-1.30zM199.92,339.42h1.30v1.30h-1.30zM200.60,339.14h1.30v1.30h-1.30zM201.27,339.49h1.30v1.30h-1.30zM201.95,340.39h1.30v1.30h-1.30zM202.62,339.15h1.30v1.30h-1.30zM203.30,338.98h1.30v1.30h-1.30zM203.97,339.29h1.30v1.30h-1.30zM204.65,339.12h1.30v1.30h-1.30zM205.32,339.57h1.30v1.30h-1.30zM206.00,339.74h1.30v1.30h-1.30zM206.67,339.01h1.30v1.30h-1.30zM207.34,339.51h1.30v1.30h-1.30zM208.02,339.17h1.30v1.30h-1.30zM208.69,337.31h1.30v1.30h-1.30zM209.37,338.81h1.30v1.30h-1.30zM210.04,339.13h1.30v1.30h-1.30zM210.72,340.16h1.30v1.30h-1.30zM211.39,339.11h1.30v1.30h-1.30zM212.07,338.68h1.30v1.30h-1.30zM212.74,339.53h1.30v1.30h-1.30zM213.41,339.22h1.30v1.30h-1.30zM214.09,340.40h1.30v1.30h-1.30zM214.76,338.68h1.30v1.30h-1.30zM215.44,339.34h1.30v1.30h-1.30zM216.11,338.54h1.30v1.30h-1.30zM216.79,338.09h1.30v1.30h-1.30zM217.46,338.97h1.30v1.30h-1.30zM218.14,338.24h1.30v1.30h-1.30zM218.81,338.64h1.30v1.30h-1.30zM219.48,338.87h1.30v1.30h-1.30zM220.16,338.86h1.30v1.30h-1.30zM220.83,339.16h1.30v1.30h-1.30zM221.51,337.82h1.30v1.30h-1.30zM222.18,338.01h1.30v1.30h-1.30zM222.86,339.08h1.30v1.30h-1.30zM223.53,337.91h1.30v1.30h-1.30zM224.21,338.79h1.30v1.30h-1.30zM224.88,339.18h1.30v1.30h-1.30zM225.56,337.49h1.30v1.30h-1.30zM226.23,338.89h1.30v1.30h-1.30zM226.90,337.33h1.30v1.30h-1.30zM227.58,337.83h1.30v1.30h-1.30zM228.25,337.32h1.30v1.30h-1.30zM228.93,337.45h1.30v1.30h-1.30zM229.60,336.96h1.30v1.30h-1.30zM230.28,337.32h1.30v1.30h-1.30zM230.95,337.06h1.30v1.30h-1.30zM231.63,337.12h1.30v1.30h-1.30zM232.30,336.47h1.30v1.30h-1.30zM232.97,337.20h1.30v1.30h-1.30zM233.65,336.19h1.30v1.30h-1.30zM234.32,335.72h1.30v1.30h-1.30zM235.00,336.46h1.30v1.30h-1.30zM235.67,335.94h1.30v1.30h-1.30zM236.35,336.28h1.30v1.30h-1.30zM237.02,335.89h1.30v1.30h-1.30zM237.70,335.28h1.30v1.30h-1.30zM238.37,335.33h1.30v1.30h-1.30zM239.05,335.32h1.30v1.30h-1.30zM239.72,334.43h1.30v1.30h-1.30zM240.39,333.89h1.30v1.30h-1.30zM241.07,333.35h1.30v1.30h-1.30zM241.74,332.61h1.30v1.30h-1.30zM242.42,333.52h1.30v1.30h-1.30zM243.09,330.98h1.30v1.30h-1.30zM243.77,331.21h1.30v1.30h-1.30zM244.44,330.75h1.30v1.30h-1.30zM245.12,329.59h1.30v1.30h-1.30zM245.79,328.06h1.30v1.30h-1.30zM246.47,326.61h1.30v1.30h-1.30zM247.14,325.97h1.30v1.30h-1.30zM247.81,324.07h1.30v1.30h-1.30zM248.49,323.29h1.30v1.30h-1.30zM249.16,320.11h1.30v1.30h-1.30zM249.84,317.81h1.30v1.30h-1.30zM250.51,315.13h1.30v1.30h-1.30zM251.19,311.00h1.30v1.30h-1.30zM251.86,306.58h1.30v1.30h-1.30zM252.54,302.57h1.30v1.30h-1.30zM253.21,298.60h1.30v1.30h-1.30zM253.88,291.62h1.30v1.30h-1.30zM254.56,286.77h1.30v1.30h-1.30zM255.23,280.59h1.30v1.30h-1.30zM255.91,275.39h1.30v1.30h-1.30zM256.58,270.40h1.30v1.30h-1.30zM257.26,267.82h1.30v1.30h-1.30zM257.93,267.83h1.30v1.30h-1.30zM258.61,270.13h1.30v1.30h-1.30zM259.28,274.14h1.30v1.30h-1.30zM259.96,279.64h1.30v1.30h-1.30zM260.63,284.78h1.30v1.30h-1.30zM261.30,291.68h1.30v1.30h-1.30zM261.98,297.14h1.30v1.30h-1.30zM262.65,302.35h1.30v1.30h-1.30zM263.33,307.25h1.30v1.30h-1.30zM264.00,310.93h1.30v1.30h-1.30zM264.68,315.12h1.30v1.30h-1.30zM265.35,316.96h1.30v1.30h-1.30zM266.03,319.43h1.30v1.30h-1.30zM266.70,322.12h1.30v1.30h-1.30zM267.37,322.90h1.30v1.30h-1.30zM268.05,325.94h1.30v1.30h-1.30zM268.72,326.53h1.30v1.30h-1.30zM269.40,327.81h1.30v1.30h-1.30zM270.07,329.49h1.30v1.30h-1.30zM270.75,330.26h1.30v1.30h-1.30zM271.42,330.42h1.30v1.30h-1.30zM272.10,331.65h1.30v1.30h-1.30zM272.77,332.17h1.30v1.30h-1.30zM273.45,332.09h1.30v1.30h-1.30zM274.12,333.31h1.30v1.30h-1.30zM274.79,334.91h1.30v1.30h-1.30zM275.47,334.77h1.30v1.30h-1.30zM276.14,334.22h1.30v1.30h-1.30zM276.82,335.14h1.30v1.30h-1.30zM277.49,336.02h1.30v1.30h-1.30zM278.17,336.84h1.30v1.30h-1.30zM278.84,335.73h1.30v1.30h-1.30zM279.52,335.26h1.30v1.30h-1.30zM280.19,337.12h1.30v1.30h-1.30zM280.86,337.87h1.30v1.30h-1.30zM281.54,336.47h1.30v1.30h-1.30zM282.21,337.26h1.30v1.30h-1.30zM282.89,337.27h1.30v1.30h-1.30zM283.56,337.44h1.30v1.30h-1.30zM284.24,337.92h1.30v1.30h-1.30zM284.91,337.24h1.30v1.30h-1.30zM285.59,337.08h1.30v1.30h-1.30zM286.26,337.52h1.30v1.30h-1.30zM286.94,338.17h1.30v1.30h-1.30zM287.61,337.32h1.30v1.30h-1.30zM288.28,338.09h1.30v1.30h-1.30zM288.96,337.77h1.30v1.30h-1.30zM289.63,338.75h1.30v1.30h-1.30zM290.31,337.88h1.30v1.30h-1.30zM290.98,337.89h1.30v1.30h-1.30zM291.66,337.64h1.30v1.30h-1.30zM292.33,338.45h1.30v1.30h-1.30zM293.01,338.26h1.30v1.30h-1.30zM293.68,338.92h1.30v1.30h-1.30zM294.35,338.11h1.30v1.30h-1.30zM295.03,338.22h1.30v1.30h-1.30zM295.70,338.09h1.30v1.30h-1.30zM296.38,339.01h1.30v1.30h-1.30zM297.05,339.55h1.30v1.30h-1.30zM297.73,338.90h1.30v1.30h-1.30zM298.40,339.03h1.30v1.30h-1.30zM299.08,339.38h1.30v1.30h-1.30zM299.75,338.62h1.30v1.30h-1.30zM300.43,338.45h1.30v1.30h-1.30zM301.10,338.81h1.30v1.30h-1.30zM301.77,338.41h1.30v1.30h-1.30zM302.45,338.87h1.30v1.30h-1.30zM303.12,339.71h1.30v1.30h-1.30zM303.80,339.50h1.30v1.30h-1.30zM304.47,339.39h1.30v1.30h-1.30zM305.15,338.80h1.30v1.30h-1.30zM305.82,338.69h1.30v1.30h-1.30zM306.50,339.17h1.30v1.30h-1.30zM307.17,338.68h1.30v1.30h-1.30zM307.84,339.78h1.30v1.30h-1.30zM308.52,339.38h1.30v1.30h-1.30zM309.19,338.45h1.30v1.30h-1.30zM309.87,339.09h1.30v1.30h-1.30zM310.54,338.75h1.30v1.30h-1.30zM311.22,340.51h1.30v1.30h-1.30zM311.89,340.40h1.30v1.30h-1.30zM312.57,339.94h1.30v1.30h-1.30zM313.24,338.84h1.30v1.30h-1.30zM313.92,338.49h1.30v1.30h-1.30zM314.59,339.83h1.30v1.30h-1.30zM315.26,340.06h1.30v1.30h-1.30zM315.94,340.10h1.30v1.30h-1.30zM316.61,340.04h1.30v1.30h-1.30zM317.29,339.19h1.30v1.30h-1.30zM317.96,339.72h1.30v1.30h-1.30zM318.64,338.44h1.30v1.30h-1.30zM319.31,339.13h1.30v1.30h-1.30zM319.99,339.97h1.30v1.30h-1.30zM320.66,339.44h1.30v1.30h-1.30zM321.33,339.68h1.30v1.30h-1.30zM322.01,339.13h1.30v1.30h-1.30zM322.68,339.07h1.30v1.30h-1.30zM323.36,339.82h1.30v1.30h-1.30zM324.03,339.10h1.30v1.30h-1.30zM324.71,339.30h1.30v1.30h-1.30zM325.38,339.70h1.30v1.30h-1.30zM326.06,339.50h1.30v1.30h-1.30zM326.73,339.26h1.30v1.30h-1.30zM327.41,339.86h1.30v1.30h-1.30zM328.08,340.07h1.30v1.30h-1.30zM328.75,338.94h1.30v1.30h-1.30zM329.43,339.69h1.30v1.30h-1.30zM330.10,340.05h1.30v1.30h-1.30zM330.78,339.43h1.30v1.30h-1.30zM331.45,340.58h1.30v1.30h-1.30zM332.13,339.69h1.30v1.30h-1.30zM332.80,340.53h1.30v1.30h-1.30zM333.48,339.98h1.30v1.30h-1.30zM334.15,340.79h1.30v1.30h-1.30z" fill="#111"/>
<polyline points="199.90,340.15 200.24,340.14 200.57,340.14 200.91,340.13 201.25,340.12 201.59,340.12 201.92,340.11 202.26,340.10 202.60,340.09 202.94,340.09 203.27,340.08 203.61,340.07 203.95,340.06 204.28,340.05 204.62,340.05 204.96,340.04 205.30,340.03 205.63,340.02 205.97,340.01 206.31,340.00 206.65,339.99 206.98,339.98 207.32,339.97 207.66,339.96 207.99,339.95 208.33,339.94 208.67,339.93 209.01,339.92 209.34,339.91 209.68,339.90 210.02,339.89 210.35,339.88 210.69,339.86 211.03,339.85 211.37,339.84 211.70,339.83 212.04,339.81 212.38,339.80 212.72,339.79 213.05,339.77 213.39,339.76 213.73,339.74 214.06,339.73 214.40,339.71 214.74,339.70 215.08,339.68 215.41,339.67 215.75,339.65 216.09,339.63 216.43,339.62 216.76,339.60 217.10,339.58 217.44,339.56 217.77,339.54 218.11,339.52 218.45,339.50 218.79,339.48 219.12,339.46 219.46,339.44 219.80,339.42 220.13,339.39 220.47,339.37 220.81,339.35 221.15,339.32 221.48,339.30 221.82,339.27 222.16,339.24 222.50,339.22 222.83,339.19 223.17,339.16 223.51,339.13 223.84,339.10 224.18,339.07 224.52,339.03 224.86,339.00 225.19,338.97 225.53,338.93 225.87,338.89 226.21,338.86 226.54,338.82 226.88,338.78 227.22,338.74 227.55,338.69 227.89,338.65 228.23,338.60 228.57,338.56 228.90,338.51 229.24,338.46 229.58,338.41 229.92,338.35 230.25,338.30 230.59,338.24 230.93,338.18 231.26,338.12 231.60,338.06 231.94,337.99 232.28,337.92 232.61,337.85 232.95,337.78 233.29,337.70 233.62,337.62 233.96,337.54 234.30,337.45 234.64,337.36 234.97,337.27 235.31,337.17 235.65,337.07 235.99,336.96 236.32,336.85 236.66,336.74 237.00,336.62 237.33,336.49 237.67,336.36 238.01,336.23 238.35,336.08 238.68,335.93 239.02,335.78 239.36,335.61 239.70,335.44 240.03,335.25 240.37,335.06 240.71,334.86 241.04,334.65 241.38,334.43 241.72,334.19 242.06,333.94 242.39,333.68 242.73,333.40 243.07,333.11 243.41,332.80 243.74,332.47 244.08,332.12 244.42,331.75 244.75,331.36 245.09,330.94 245.43,330.50 245.77,330.02 246.10,329.51 246.44,328.97 246.78,328.40 247.12,327.78 247.45,327.11 247.79,326.40 248.13,325.64 248.46,324.82 248.80,323.94 249.14,322.99 249.48,321.97 249.81,320.86 250.15,319.68 250.49,318.40 250.82,317.01 251.16,315.52 251.50,313.91 251.84,312.18 252.17,310.31 252.51,308.30 252.85,306.14 253.19,303.84 253.52,301.39 253.86,298.79 254.20,296.05 254.53,293.19 254.87,290.23 255.21,287.22 255.55,284.19 255.88,281.21 256.22,278.35 256.56,275.69 256.90,273.32 257.23,271.33 257.57,269.80 257.91,268.80 258.24,268.38 258.58,268.56 258.92,269.33 259.26,270.66 259.59,272.47 259.93,274.70 260.27,277.26 260.61,280.05 260.94,282.99 261.28,286.01 261.62,289.03 261.95,292.02 262.29,294.92 262.63,297.71 262.97,300.36 263.30,302.88 263.64,305.24 263.98,307.45 264.31,309.52 264.65,311.44 264.99,313.23 265.33,314.89 265.66,316.43 266.00,317.85 266.34,319.18 266.68,320.40 267.01,321.54 267.35,322.59 267.69,323.57 268.02,324.47 268.36,325.32 268.70,326.10 269.04,326.83 269.37,327.52 269.71,328.15 270.05,328.75 270.39,329.30 270.72,329.82 271.06,330.31 271.40,330.77 271.73,331.20 272.07,331.60 272.41,331.98 272.75,332.34 273.08,332.67 273.42,332.99 273.76,333.29 274.10,333.57 274.43,333.84 274.77,334.09 275.11,334.33 275.44,334.56 275.78,334.78 276.12,334.98 276.46,335.18 276.79,335.37 277.13,335.54 277.47,335.71 277.80,335.87 278.14,336.02 278.48,336.17 278.82,336.31 279.15,336.44 279.49,336.57 279.83,336.69 280.17,336.81 280.50,336.92 280.84,337.03 281.18,337.13 281.51,337.23 281.85,337.32 282.19,337.42 282.53,337.50 282.86,337.59 283.20,337.67 283.54,337.75 283.88,337.82 284.21,337.89 284.55,337.96 284.89,338.03 285.22,338.09 285.56,338.16 285.90,338.22 286.24,338.28 286.57,338.33 286.91,338.39 287.25,338.44 287.59,338.49 287.92,338.54 288.26,338.59 288.60,338.63 288.93,338.68 289.27,338.72 289.61,338.76 289.95,338.80 290.28,338.84 290.62,338.88 290.96,338.92 291.29,338.95 291.63,338.99 291.97,339.02 292.31,339.05 292.64,339.09 292.98,339.12 293.32,339.15 293.66,339.18 293.99,339.20 294.33,339.23 294.67,339.26 295.00,339.29 295.34,339.31 295.68,339.34 296.02,339.36 296.35,339.38 296.69,339.41 297.03,339.43 297.37,339.45 297.70,339.47 298.04,339.49 298.38,339.51 298.71,339.53 299.05,339.55 299.39,339.57 299.73,339.59 300.06,339.61 300.40,339.63 300.74,339.64 301.08,339.66 301.41,339.68 301.75,339.69 302.09,339.71 302.42,339.72 302.76,339.74 303.10,339.75 303.44,339.77 303.77,339.78 304.11,339.79 304.45,339.81 304.78,339.82 305.12,339.83 305.46,339.85 305.80,339.86 306.13,339.87 306.47,339.88 306.81,339.89 307.15,339.91 307.48,339.92 307.82,339.93 308.16,339.94 308.49,339.95 308.83,339.96 309.17,339.97 309.51,339.98 309.84,339.99 310.18,340.00 310.52,340.01 310.86,340.02 311.19,340.02 311.53,340.03 311.87,340.04 312.20,340.05 312.54,340.06 312.88,340.07 313.22,340.08 313.55,340.08 313.89,340.09 314.23,340.10 314.56,340.11 314.90,340.11 315.24,340.12 315.58,340.13 315.91,340.13 316.25,340.14 316.59,340.15 316.93,340.15 317.26,340.16 317.60,340.17 317.94,340.17 318.27,340.18 318.61,340.19 318.95,340.19 319.29,340.20 319.62,340.20 319.96,340.21 320.30,340.21 320.64,340.22 320.97,340.22 321.31,340.23 321.65,340.24 321.98,340.24 322.32,340.25 322.66,340.25 323.00,340.26 323.33,340.26 323.67,340.27 324.01,340.27 324.35,340.27 324.68,340.28 325.02,340.28 325.36,340.29 325.69,340.29 326.03,340.30 326.37,340.30 326.71,340.30 327.04,340.31 327.38,340.31 327.72,340.32 328.06,340.32 328.39,340.32 328.73,340.33 329.07,340.33 329.40,340.34 329.74,340.34 330.08,340.34 330.42,340.35 330.75,340.35 331.09,340.35 331.43,340.36 331.76,340.36 332.10,340.36 332.44,340.37 332.78,340.37 333.11,340.37 333.45,340.38 333.79,340.38 334.13,340.38 334.46,340.39 334.80,340.39" fill="none" stroke="#e8261c" stroke-width="1.2" stroke-linejoin="round"/>
</g>
<rect x="199.9" y="253.4" width="134.9" height="99.79999999999998" fill="none" stroke="#808080" stroke-width="1"/>
<path d="M233.62,353.2v-1.6M233.62,253.4v1.6M267.35,353.2v-1.6M267.35,253.4v1.6M301.08,353.2v-1.6M301.08,253.4v1.6M199.9,340.72h1.6M334.8,340.72h-1.6M199.9,328.25h1.6M334.8,328.25h-1.6M199.9,315.77h1.6M334.8,315.77h-1.6M199.9,303.30h1.6M334.8,303.30h-1.6M199.9,290.82h1.6M334.8,290.82h-1.6M199.9,278.35h1.6M334.8,278.35h-1.6M199.9,265.88h1.6M334.8,265.88h-1.6" stroke="#808080" stroke-width="0.8" fill="none"/>
<text x="199.90" y="362.20" font-family="'Liberation Sans', sans-serif" font-size="6.2" text-anchor="middle" fill="#1e1e1e" stroke="#1e1e1e" stroke-width="0.16">1000</text>
<text x="267.35" y="362.20" font-family="'Liberation Sans', sans-serif" font-size="6.2" text-anchor="middle" fill="#1e1e1e" stroke="#1e1e1e" stroke-width="0.16">1050</text>
<text x="334.80" y="362.20" font-family="'Liberation Sans', sans-serif" font-size="6.2" text-anchor="middle" fill="#1e1e1e" stroke="#1e1e1e" stroke-width="0.16">1100</text>
<text x="196.70" y="342.76" font-family="'Liberation Sans', sans-serif" font-size="6" text-anchor="end" fill="#1e1e1e" stroke="#1e1e1e" stroke-width="0.16">0</text>
<text x="196.70" y="317.81" font-family="'Liberation Sans', sans-serif" font-size="6" text-anchor="end" fill="#1e1e1e" stroke="#1e1e1e" stroke-width="0.16">5</text>
<text x="196.70" y="292.87" font-family="'Liberation Sans', sans-serif" font-size="6" text-anchor="end" fill="#1e1e1e" stroke="#1e1e1e" stroke-width="0.16">10</text>
<text x="196.70" y="267.92" font-family="'Liberation Sans', sans-serif" font-size="6" text-anchor="end" fill="#1e1e1e" stroke="#1e1e1e" stroke-width="0.16">15</text>
<text x="187.30" y="304.20" font-family="'Liberation Serif', serif" font-size="6.5" text-anchor="middle" fill="#1e1e1e" stroke="#1e1e1e" stroke-width="0.16" transform="rotate(-90 187.30 304.20)" textLength="33.5" lengthAdjust="spacingAndGlyphs">Intensity/a.u.</text>
<text x="268.00" y="280.40" font-family="'Liberation Serif', serif" font-size="8.6" text-anchor="start" fill="#1a1a1a" stroke="#1a1a1a" stroke-width="0.15" textLength="52.8" lengthAdjust="spacingAndGlyphs">40 MPa, 150 <tspan font-size="5.16" dy="-3.01">o</tspan><tspan dy="3.01">C</tspan></text>
<clipPath id="b4"><rect x="200.5" y="369.4" width="138.89999999999998" height="102.80000000000001"/></clipPath>
<g clip-path="url(#b4)">
<polygon points="200.50,457.51 200.50,457.11 200.85,457.11 201.19,457.11 201.54,457.10 201.89,457.10 202.24,457.09 202.58,457.09 202.93,457.08 203.28,457.08 203.63,457.07 203.97,457.07 204.32,457.06 204.67,457.06 205.01,457.05 205.36,457.04 205.71,457.04 206.06,457.03 206.40,457.03 206.75,457.02 207.10,457.01 207.44,457.01 207.79,457.00 208.14,457.00 208.49,456.99 208.83,456.98 209.18,456.98 209.53,456.97 209.88,456.96 210.22,456.95 210.57,456.95 210.92,456.94 211.26,456.93 211.61,456.92 211.96,456.91 212.31,456.91 212.65,456.90 213.00,456.89 213.35,456.88 213.70,456.87 214.04,456.86 214.39,456.85 214.74,456.84 215.08,456.83 215.43,456.82 215.78,456.81 216.13,456.80 216.47,456.79 216.82,456.78 217.17,456.77 217.52,456.76 217.86,456.75 218.21,456.74 218.56,456.72 218.90,456.71 219.25,456.70 219.60,456.69 219.95,456.67 220.29,456.66 220.64,456.64 220.99,456.63 221.34,456.61 221.68,456.60 222.03,456.58 222.38,456.57 222.72,456.55 223.07,456.53 223.42,456.52 223.77,456.50 224.11,456.48 224.46,456.46 224.81,456.44 225.15,456.42 225.50,456.40 225.85,456.38 226.20,456.36 226.54,456.34 226.89,456.32 227.24,456.29 227.59,456.27 227.93,456.25 228.28,456.22 228.63,456.19 228.97,456.17 229.32,456.14 229.67,456.11 230.02,456.08 230.36,456.05 230.71,456.02 231.06,455.99 231.41,455.95 231.75,455.92 232.10,455.88 232.45,455.85 232.79,455.81 233.14,455.77 233.49,455.73 233.84,455.68 234.18,455.64 234.53,455.60 234.88,455.55 235.22,455.50 235.57,455.45 235.92,455.40 236.27,455.34 236.61,455.28 236.96,455.23 237.31,455.16 237.66,455.10 238.00,455.03 238.35,454.96 238.70,454.89 239.04,454.82 239.39,454.74 239.74,454.66 240.09,454.57 240.43,454.48 240.78,454.39 241.13,454.29 241.48,454.19 241.82,454.08 242.17,453.97 242.52,453.86 242.86,453.73 243.21,453.60 243.56,453.47 243.91,453.32 244.25,453.17 244.60,453.02 244.95,452.85 245.30,452.67 245.64,452.49 245.99,452.29 246.34,452.08 246.68,451.86 247.03,451.63 247.38,451.38 247.73,451.12 248.07,450.84 248.42,450.54 248.77,450.22 249.11,449.88 249.46,449.52 249.81,449.13 250.16,448.72 250.50,448.28 250.85,447.80 251.20,447.29 251.55,446.74 251.89,446.15 252.24,445.51 252.59,444.83 252.93,444.08 253.28,443.28 253.63,442.41 253.98,441.46 254.32,440.44 254.67,439.33 255.02,438.12 255.37,436.81 255.71,435.38 256.06,433.83 256.41,432.15 256.75,430.33 257.10,428.36 257.45,426.24 257.80,423.96 258.14,421.52 258.49,418.94 258.84,416.22 259.19,413.40 259.53,410.51 259.88,407.60 260.23,404.69 260.57,401.73 260.92,398.62 261.27,395.28 261.62,392.02 261.96,389.63 262.31,388.94 262.66,390.07 263.00,392.33 263.35,394.92 263.70,397.46 264.05,399.97 264.39,402.58 264.74,405.34 265.09,408.20 265.44,411.10 265.78,413.97 266.13,416.77 266.48,419.46 266.82,422.02 267.17,424.42 267.52,426.67 267.87,428.77 268.21,430.71 268.56,432.50 268.91,434.15 269.26,435.68 269.60,437.08 269.95,438.37 270.30,439.56 270.64,440.65 270.99,441.66 271.34,442.59 271.69,443.44 272.03,444.24 272.38,444.97 272.73,445.65 273.08,446.27 273.42,446.86 273.77,447.40 274.12,447.90 274.46,448.37 274.81,448.81 275.16,449.21 275.51,449.60 275.85,449.95 276.20,450.29 276.55,450.60 276.89,450.89 277.24,451.17 277.59,451.43 277.94,451.68 278.28,451.91 278.63,452.12 278.98,452.33 279.33,452.52 279.67,452.71 280.02,452.88 280.37,453.05 280.71,453.20 281.06,453.35 281.41,453.50 281.76,453.63 282.10,453.76 282.45,453.88 282.80,454.00 283.15,454.11 283.49,454.21 283.84,454.31 284.19,454.41 284.53,454.50 284.88,454.59 285.23,454.67 285.58,454.76 285.92,454.83 286.27,454.91 286.62,454.98 286.97,455.05 287.31,455.11 287.66,455.18 288.01,455.24 288.35,455.30 288.70,455.35 289.05,455.41 289.40,455.46 289.74,455.51 290.09,455.56 290.44,455.60 290.78,455.65 291.13,455.69 291.48,455.74 291.83,455.78 292.17,455.82 292.52,455.85 292.87,455.89 293.22,455.93 293.56,455.96 293.91,455.99 294.26,456.03 294.60,456.06 294.95,456.09 295.30,456.12 295.65,456.14 295.99,456.17 296.34,456.20 296.69,456.23 297.04,456.25 297.38,456.27 297.73,456.30 298.08,456.32 298.42,456.34 298.77,456.37 299.12,456.39 299.47,456.41 299.81,456.43 300.16,456.45 300.51,456.47 300.86,456.49 301.20,456.50 301.55,456.52 301.90,456.54 302.24,456.55 302.59,456.57 302.94,456.59 303.29,456.60 303.63,456.62 303.98,456.63 304.33,456.65 304.67,456.66 305.02,456.67 305.37,456.69 305.72,456.70 306.06,456.71 306.41,456.73 306.76,456.74 307.11,456.75 307.45,456.76 307.80,456.77 308.15,456.78 308.49,456.79 308.84,456.81 309.19,456.82 309.54,456.83 309.88,456.84 310.23,456.85 310.58,456.86 310.93,456.86 311.27,456.87 311.62,456.88 311.97,456.89 312.31,456.90 312.66,456.91 313.01,456.92 313.36,456.92 313.70,456.93 314.05,456.94 314.40,456.95 314.75,456.96 315.09,456.96 315.44,456.97 315.79,456.98 316.13,456.98 316.48,456.99 316.83,457.00 317.18,457.00 317.52,457.01 317.87,457.02 318.22,457.02 318.56,457.03 318.91,457.03 319.26,457.04 319.61,457.05 319.95,457.05 320.30,457.06 320.65,457.06 321.00,457.07 321.34,457.07 321.69,457.08 322.04,457.08 322.38,457.09 322.73,457.09 323.08,457.10 323.43,457.10 323.77,457.11 324.12,457.11 324.47,457.12 324.82,457.12 325.16,457.12 325.51,457.13 325.86,457.13 326.20,457.14 326.55,457.14 326.90,457.15 327.25,457.15 327.59,457.15 327.94,457.16 328.29,457.16 328.64,457.16 328.98,457.17 329.33,457.17 329.68,457.17 330.02,457.18 330.37,457.18 330.72,457.19 331.07,457.19 331.41,457.19 331.76,457.19 332.11,457.20 332.45,457.20 332.80,457.20 333.15,457.21 333.50,457.21 333.84,457.21 334.19,457.22 334.54,457.22 334.89,457.22 335.23,457.22 335.58,457.23 335.93,457.23 336.27,457.23 336.62,457.24 336.97,457.24 337.32,457.24 337.66,457.24 338.01,457.25 338.36,457.25 338.71,457.25 339.05,457.25 339.40,457.25 339.40,457.51" fill="#42f597"/>
<path d="M199.85,457.19h1.30v1.30h-1.30zM200.54,455.55h1.30v1.30h-1.30zM201.24,456.63h1.30v1.30h-1.30zM201.93,457.66h1.30v1.30h-1.30zM202.63,454.67h1.30v1.30h-1.30zM203.32,457.05h1.30v1.30h-1.30zM204.02,454.90h1.30v1.30h-1.30zM204.71,456.92h1.30v1.30h-1.30zM205.41,457.86h1.30v1.30h-1.30zM206.10,454.50h1.30v1.30h-1.30zM206.79,456.79h1.30v1.30h-1.30zM207.49,455.57h1.30v1.30h-1.30zM208.18,455.12h1.30v1.30h-1.30zM208.88,457.64h1.30v1.30h-1.30zM209.57,456.23h1.30v1.30h-1.30zM210.27,456.86h1.30v1.30h-1.30zM210.96,455.66h1.30v1.30h-1.30zM211.66,456.26h1.30v1.30h-1.30zM212.35,457.51h1.30v1.30h-1.30zM213.05,456.16h1.30v1.30h-1.30zM213.74,455.43h1.30v1.30h-1.30zM214.43,456.48h1.30v1.30h-1.30zM215.13,455.59h1.30v1.30h-1.30zM215.82,456.67h1.30v1.30h-1.30zM216.52,456.17h1.30v1.30h-1.30zM217.21,455.74h1.30v1.30h-1.30zM217.91,455.92h1.30v1.30h-1.30zM218.60,454.76h1.30v1.30h-1.30zM219.30,455.06h1.30v1.30h-1.30zM219.99,455.14h1.30v1.30h-1.30zM220.69,455.23h1.30v1.30h-1.30zM221.38,455.77h1.30v1.30h-1.30zM222.07,457.07h1.30v1.30h-1.30zM222.77,454.79h1.30v1.30h-1.30zM223.46,454.07h1.30v1.30h-1.30zM224.16,455.56h1.30v1.30h-1.30zM224.85,456.00h1.30v1.30h-1.30zM225.55,455.74h1.30v1.30h-1.30zM226.24,454.44h1.30v1.30h-1.30zM226.94,455.32h1.30v1.30h-1.30zM227.63,456.55h1.30v1.30h-1.30zM228.32,455.68h1.30v1.30h-1.30zM229.02,456.23h1.30v1.30h-1.30zM229.71,455.60h1.30v1.30h-1.30zM230.41,456.23h1.30v1.30h-1.30zM231.10,456.14h1.30v1.30h-1.30zM231.80,453.70h1.30v1.30h-1.30zM232.49,454.06h1.30v1.30h-1.30zM233.19,456.65h1.30v1.30h-1.30zM233.88,455.92h1.30v1.30h-1.30zM234.57,455.29h1.30v1.30h-1.30zM235.27,455.13h1.30v1.30h-1.30zM235.96,456.02h1.30v1.30h-1.30zM236.66,453.61h1.30v1.30h-1.30zM237.35,456.00h1.30v1.30h-1.30zM238.05,453.54h1.30v1.30h-1.30zM238.74,453.38h1.30v1.30h-1.30zM239.44,454.28h1.30v1.30h-1.30zM240.13,454.39h1.30v1.30h-1.30zM240.83,453.47h1.30v1.30h-1.30zM241.52,453.17h1.30v1.30h-1.30zM242.21,455.18h1.30v1.30h-1.30zM242.91,454.07h1.30v1.30h-1.30zM243.60,451.98h1.30v1.30h-1.30zM244.30,452.30h1.30v1.30h-1.30zM244.99,452.25h1.30v1.30h-1.30zM245.69,452.42h1.30v1.30h-1.30zM246.38,451.68h1.30v1.30h-1.30zM247.08,451.23h1.30v1.30h-1.30zM247.77,447.07h1.30v1.30h-1.30zM248.46,450.48h1.30v1.30h-1.30zM249.16,446.94h1.30v1.30h-1.30zM249.85,447.14h1.30v1.30h-1.30zM250.55,446.42h1.30v1.30h-1.30zM251.24,445.30h1.30v1.30h-1.30zM251.94,444.55h1.30v1.30h-1.30zM252.63,441.00h1.30v1.30h-1.30zM253.33,440.29h1.30v1.30h-1.30zM254.02,438.70h1.30v1.30h-1.30zM254.72,436.27h1.30v1.30h-1.30zM255.41,432.97h1.30v1.30h-1.30zM256.10,430.82h1.30v1.30h-1.30zM256.80,425.90h1.30v1.30h-1.30zM257.49,421.49h1.30v1.30h-1.30zM258.19,414.94h1.30v1.30h-1.30zM258.88,409.25h1.30v1.30h-1.30zM259.58,405.90h1.30v1.30h-1.30zM260.27,398.18h1.30v1.30h-1.30zM260.97,390.37h1.30v1.30h-1.30zM261.66,389.59h1.30v1.30h-1.30zM262.36,392.86h1.30v1.30h-1.30zM263.05,395.79h1.30v1.30h-1.30zM263.74,402.05h1.30v1.30h-1.30zM264.44,407.99h1.30v1.30h-1.30zM265.13,414.54h1.30v1.30h-1.30zM265.83,418.63h1.30v1.30h-1.30zM266.52,424.33h1.30v1.30h-1.30zM267.22,427.90h1.30v1.30h-1.30zM267.91,431.41h1.30v1.30h-1.30zM268.61,434.31h1.30v1.30h-1.30zM269.30,438.04h1.30v1.30h-1.30zM269.99,440.52h1.30v1.30h-1.30zM270.69,441.90h1.30v1.30h-1.30zM271.38,443.68h1.30v1.30h-1.30zM272.08,444.81h1.30v1.30h-1.30zM272.77,446.73h1.30v1.30h-1.30zM273.47,447.48h1.30v1.30h-1.30zM274.16,448.74h1.30v1.30h-1.30zM274.86,449.53h1.30v1.30h-1.30zM275.55,449.47h1.30v1.30h-1.30zM276.25,449.08h1.30v1.30h-1.30zM276.94,451.31h1.30v1.30h-1.30zM277.63,450.66h1.30v1.30h-1.30zM278.33,451.32h1.30v1.30h-1.30zM279.02,451.94h1.30v1.30h-1.30zM279.72,451.71h1.30v1.30h-1.30zM280.41,453.26h1.30v1.30h-1.30zM281.11,452.40h1.30v1.30h-1.30zM281.80,452.92h1.30v1.30h-1.30zM282.50,456.96h1.30v1.30h-1.30zM283.19,453.30h1.30v1.30h-1.30zM283.88,453.24h1.30v1.30h-1.30zM284.58,452.05h1.30v1.30h-1.30zM285.27,455.24h1.30v1.30h-1.30zM285.97,454.22h1.30v1.30h-1.30zM286.66,454.10h1.30v1.30h-1.30zM287.36,455.55h1.30v1.30h-1.30zM288.05,453.49h1.30v1.30h-1.30zM288.75,454.35h1.30v1.30h-1.30zM289.44,455.70h1.30v1.30h-1.30zM290.13,456.20h1.30v1.30h-1.30zM290.83,455.50h1.30v1.30h-1.30zM291.52,452.77h1.30v1.30h-1.30zM292.22,453.06h1.30v1.30h-1.30zM292.91,457.79h1.30v1.30h-1.30zM293.61,457.20h1.30v1.30h-1.30zM294.30,454.76h1.30v1.30h-1.30zM295.00,455.59h1.30v1.30h-1.30zM295.69,456.18h1.30v1.30h-1.30zM296.39,454.98h1.30v1.30h-1.30zM297.08,455.54h1.30v1.30h-1.30zM297.77,455.40h1.30v1.30h-1.30zM298.47,455.46h1.30v1.30h-1.30zM299.16,456.87h1.30v1.30h-1.30zM299.86,454.48h1.30v1.30h-1.30zM300.55,456.31h1.30v1.30h-1.30zM301.25,454.74h1.30v1.30h-1.30zM301.94,455.22h1.30v1.30h-1.30zM302.64,455.91h1.30v1.30h-1.30zM303.33,455.83h1.30v1.30h-1.30zM304.02,456.05h1.30v1.30h-1.30zM304.72,457.88h1.30v1.30h-1.30zM305.41,456.38h1.30v1.30h-1.30zM306.11,455.65h1.30v1.30h-1.30zM306.80,457.73h1.30v1.30h-1.30zM307.50,457.63h1.30v1.30h-1.30zM308.19,455.06h1.30v1.30h-1.30zM308.89,455.35h1.30v1.30h-1.30zM309.58,457.75h1.30v1.30h-1.30zM310.28,455.74h1.30v1.30h-1.30zM310.97,456.27h1.30v1.30h-1.30zM311.66,455.26h1.30v1.30h-1.30zM312.36,456.59h1.30v1.30h-1.30zM313.05,456.50h1.30v1.30h-1.30zM313.75,457.05h1.30v1.30h-1.30zM314.44,456.12h1.30v1.30h-1.30zM315.14,456.45h1.30v1.30h-1.30zM315.83,456.99h1.30v1.30h-1.30zM316.53,456.70h1.30v1.30h-1.30zM317.22,457.12h1.30v1.30h-1.30zM317.92,455.74h1.30v1.30h-1.30zM318.61,457.42h1.30v1.30h-1.30zM319.30,457.97h1.30v1.30h-1.30zM320.00,457.38h1.30v1.30h-1.30zM320.69,455.32h1.30v1.30h-1.30zM321.39,456.94h1.30v1.30h-1.30zM322.08,455.78h1.30v1.30h-1.30zM322.78,455.70h1.30v1.30h-1.30zM323.47,456.97h1.30v1.30h-1.30zM324.17,455.70h1.30v1.30h-1.30zM324.86,455.96h1.30v1.30h-1.30zM325.55,456.52h1.30v1.30h-1.30zM326.25,457.20h1.30v1.30h-1.30zM326.94,456.56h1.30v1.30h-1.30zM327.64,457.80h1.30v1.30h-1.30zM328.33,456.79h1.30v1.30h-1.30zM329.03,457.11h1.30v1.30h-1.30zM329.72,456.08h1.30v1.30h-1.30zM330.42,456.19h1.30v1.30h-1.30zM331.11,457.19h1.30v1.30h-1.30zM331.81,455.67h1.30v1.30h-1.30zM332.50,455.34h1.30v1.30h-1.30zM333.19,456.49h1.30v1.30h-1.30zM333.89,457.31h1.30v1.30h-1.30zM334.58,456.06h1.30v1.30h-1.30zM335.28,459.05h1.30v1.30h-1.30zM335.97,457.17h1.30v1.30h-1.30zM336.67,456.00h1.30v1.30h-1.30zM337.36,454.56h1.30v1.30h-1.30zM338.06,457.34h1.30v1.30h-1.30zM338.75,455.05h1.30v1.30h-1.30z" fill="#111"/>
<polyline points="200.50,457.11 200.85,457.11 201.19,457.11 201.54,457.10 201.89,457.10 202.24,457.09 202.58,457.09 202.93,457.08 203.28,457.08 203.63,457.07 203.97,457.07 204.32,457.06 204.67,457.06 205.01,457.05 205.36,457.04 205.71,457.04 206.06,457.03 206.40,457.03 206.75,457.02 207.10,457.01 207.44,457.01 207.79,457.00 208.14,457.00 208.49,456.99 208.83,456.98 209.18,456.98 209.53,456.97 209.88,456.96 210.22,456.95 210.57,456.95 210.92,456.94 211.26,456.93 211.61,456.92 211.96,456.91 212.31,456.91 212.65,456.90 213.00,456.89 213.35,456.88 213.70,456.87 214.04,456.86 214.39,456.85 214.74,456.84 215.08,456.83 215.43,456.82 215.78,456.81 216.13,456.80 216.47,456.79 216.82,456.78 217.17,456.77 217.52,456.76 217.86,456.75 218.21,456.74 218.56,456.72 218.90,456.71 219.25,456.70 219.60,456.69 219.95,456.67 220.29,456.66 220.64,456.64 220.99,456.63 221.34,456.61 221.68,456.60 222.03,456.58 222.38,456.57 222.72,456.55 223.07,456.53 223.42,456.52 223.77,456.50 224.11,456.48 224.46,456.46 224.81,456.44 225.15,456.42 225.50,456.40 225.85,456.38 226.20,456.36 226.54,456.34 226.89,456.32 227.24,456.29 227.59,456.27 227.93,456.25 228.28,456.22 228.63,456.19 228.97,456.17 229.32,456.14 229.67,456.11 230.02,456.08 230.36,456.05 230.71,456.02 231.06,455.99 231.41,455.95 231.75,455.92 232.10,455.88 232.45,455.85 232.79,455.81 233.14,455.77 233.49,455.73 233.84,455.68 234.18,455.64 234.53,455.60 234.88,455.55 235.22,455.50 235.57,455.45 235.92,455.40 236.27,455.34 236.61,455.28 236.96,455.23 237.31,455.16 237.66,455.10 238.00,455.03 238.35,454.96 238.70,454.89 239.04,454.82 239.39,454.74 239.74,454.66 240.09,454.57 240.43,454.48 240.78,454.39 241.13,454.29 241.48,454.19 241.82,454.08 242.17,453.97 242.52,453.86 242.86,453.73 243.21,453.60 243.56,453.47 243.91,453.32 244.25,453.17 244.60,453.02 244.95,452.85 245.30,452.67 245.64,452.49 245.99,452.29 246.34,452.08 246.68,451.86 247.03,451.63 247.38,451.38 247.73,451.12 248.07,450.84 248.42,450.54 248.77,450.22 249.11,449.88 249.46,449.52 249.81,449.13 250.16,448.72 250.50,448.28 250.85,447.80 251.20,447.29 251.55,446.74 251.89,446.15 252.24,445.51 252.59,444.83 252.93,444.08 253.28,443.28 253.63,442.41 253.98,441.46 254.32,440.44 254.67,439.33 255.02,438.12 255.37,436.81 255.71,435.38 256.06,433.83 256.41,432.15 256.75,430.33 257.10,428.36 257.45,426.24 257.80,423.96 258.14,421.52 258.49,418.94 258.84,416.22 259.19,413.40 259.53,410.52 259.88,407.62 260.23,404.78 260.57,402.09 260.92,399.63 261.27,397.51 261.62,395.83 261.96,394.68 262.31,394.12 262.66,394.19 263.00,394.87 263.35,396.13 263.70,397.90 264.05,400.10 264.39,402.61 264.74,405.34 265.09,408.20 265.44,411.10 265.78,413.97 266.13,416.77 266.48,419.46 266.82,422.02 267.17,424.42 267.52,426.67 267.87,428.77 268.21,430.71 268.56,432.50 268.91,434.15 269.26,435.68 269.60,437.08 269.95,438.37 270.30,439.56 270.64,440.65 270.99,441.66 271.34,442.59 271.69,443.44 272.03,444.24 272.38,444.97 272.73,445.65 273.08,446.27 273.42,446.86 273.77,447.40 274.12,447.90 274.46,448.37 274.81,448.81 275.16,449.21 275.51,449.60 275.85,449.95 276.20,450.29 276.55,450.60 276.89,450.89 277.24,451.17 277.59,451.43 277.94,451.68 278.28,451.91 278.63,452.12 278.98,452.33 279.33,452.52 279.67,452.71 280.02,452.88 280.37,453.05 280.71,453.20 281.06,453.35 281.41,453.50 281.76,453.63 282.10,453.76 282.45,453.88 282.80,454.00 283.15,454.11 283.49,454.21 283.84,454.31 284.19,454.41 284.53,454.50 284.88,454.59 285.23,454.67 285.58,454.76 285.92,454.83 286.27,454.91 286.62,454.98 286.97,455.05 287.31,455.11 287.66,455.18 288.01,455.24 288.35,455.30 288.70,455.35 289.05,455.41 289.40,455.46 289.74,455.51 290.09,455.56 290.44,455.60 290.78,455.65 291.13,455.69 291.48,455.74 291.83,455.78 292.17,455.82 292.52,455.85 292.87,455.89 293.22,455.93 293.56,455.96 293.91,455.99 294.26,456.03 294.60,456.06 294.95,456.09 295.30,456.12 295.65,456.14 295.99,456.17 296.34,456.20 296.69,456.23 297.04,456.25 297.38,456.27 297.73,456.30 298.08,456.32 298.42,456.34 298.77,456.37 299.12,456.39 299.47,456.41 299.81,456.43 300.16,456.45 300.51,456.47 300.86,456.49 301.20,456.50 301.55,456.52 301.90,456.54 302.24,456.55 302.59,456.57 302.94,456.59 303.29,456.60 303.63,456.62 303.98,456.63 304.33,456.65 304.67,456.66 305.02,456.67 305.37,456.69 305.72,456.70 306.06,456.71 306.41,456.73 306.76,456.74 307.11,456.75 307.45,456.76 307.80,456.77 308.15,456.78 308.49,456.79 308.84,456.81 309.19,456.82 309.54,456.83 309.88,456.84 310.23,456.85 310.58,456.86 310.93,456.86 311.27,456.87 311.62,456.88 311.97,456.89 312.31,456.90 312.66,456.91 313.01,456.92 313.36,456.92 313.70,456.93 314.05,456.94 314.40,456.95 314.75,456.96 315.09,456.96 315.44,456.97 315.79,456.98 316.13,456.98 316.48,456.99 316.83,457.00 317.18,457.00 317.52,457.01 317.87,457.02 318.22,457.02 318.56,457.03 318.91,457.03 319.26,457.04 319.61,457.05 319.95,457.05 320.30,457.06 320.65,457.06 321.00,457.07 321.34,457.07 321.69,457.08 322.04,457.08 322.38,457.09 322.73,457.09 323.08,457.10 323.43,457.10 323.77,457.11 324.12,457.11 324.47,457.12 324.82,457.12 325.16,457.12 325.51,457.13 325.86,457.13 326.20,457.14 326.55,457.14 326.90,457.15 327.25,457.15 327.59,457.15 327.94,457.16 328.29,457.16 328.64,457.16 328.98,457.17 329.33,457.17 329.68,457.17 330.02,457.18 330.37,457.18 330.72,457.19 331.07,457.19 331.41,457.19 331.76,457.19 332.11,457.20 332.45,457.20 332.80,457.20 333.15,457.21 333.50,457.21 333.84,457.21 334.19,457.22 334.54,457.22 334.89,457.22 335.23,457.22 335.58,457.23 335.93,457.23 336.27,457.23 336.62,457.24 336.97,457.24 337.32,457.24 337.66,457.24 338.01,457.25 338.36,457.25 338.71,457.25 339.05,457.25 339.40,457.25" fill="none" stroke="#e8261c" stroke-width="1.3" stroke-linejoin="round"/>
</g>
<rect x="200.5" y="369.4" width="138.89999999999998" height="102.80000000000001" fill="none" stroke="#808080" stroke-width="1"/>
<path d="M235.22,472.2v-1.6M235.22,369.4v1.6M269.95,472.2v-1.6M269.95,369.4v1.6M304.67,472.2v-1.6M304.67,369.4v1.6M200.5,457.51h1.6M339.4,457.51h-1.6M200.5,442.83h1.6M339.4,442.83h-1.6M200.5,428.14h1.6M339.4,428.14h-1.6M200.5,413.46h1.6M339.4,413.46h-1.6M200.5,398.77h1.6M339.4,398.77h-1.6M200.5,384.09h1.6M339.4,384.09h-1.6" stroke="#808080" stroke-width="0.8" fill="none"/>
<text x="200.50" y="480.50" font-family="'Liberation Sans', sans-serif" font-size="6.3" text-anchor="middle" fill="#1e1e1e" stroke="#1e1e1e" stroke-width="0.16">1000</text>
<text x="269.95" y="480.50" font-family="'Liberation Sans', sans-serif" font-size="6.3" text-anchor="middle" fill="#1e1e1e" stroke="#1e1e1e" stroke-width="0.16">1050</text>
<text x="339.40" y="480.50" font-family="'Liberation Sans', sans-serif" font-size="6.3" text-anchor="middle" fill="#1e1e1e" stroke="#1e1e1e" stroke-width="0.16">1100</text>
<text x="198.30" y="459.55" font-family="'Liberation Sans', sans-serif" font-size="6" text-anchor="end" fill="#1e1e1e" stroke="#1e1e1e" stroke-width="0.16">0</text>
<text x="198.30" y="430.18" font-family="'Liberation Sans', sans-serif" font-size="6" text-anchor="end" fill="#1e1e1e" stroke="#1e1e1e" stroke-width="0.16">10</text>
<text x="198.30" y="400.81" font-family="'Liberation Sans', sans-serif" font-size="6" text-anchor="end" fill="#1e1e1e" stroke="#1e1e1e" stroke-width="0.16">20</text>
<text x="198.30" y="371.44" font-family="'Liberation Sans', sans-serif" font-size="6" text-anchor="end" fill="#1e1e1e" stroke="#1e1e1e" stroke-width="0.16">30</text>
<text x="188.00" y="420.60" font-family="'Liberation Serif', serif" font-size="6.9" text-anchor="middle" fill="#1e1e1e" stroke="#1e1e1e" stroke-width="0.16" transform="rotate(-90 188.00 420.60)" textLength="35.6" lengthAdjust="spacingAndGlyphs">Intensity/a.u.</text>
<text x="270.50" y="392.20" font-family="'Liberation Serif', serif" font-size="8.6" text-anchor="start" fill="#1a1a1a" stroke="#1a1a1a" stroke-width="0.15" textLength="48.4" lengthAdjust="spacingAndGlyphs">40 MPa, 50 <tspan font-size="5.16" dy="-3.01">o</tspan><tspan dy="3.01">C</tspan></text>
<text x="22.60" y="14.80" font-family="'Liberation Serif', serif" font-size="14" text-anchor="start" fill="#1a1a1a" stroke="#1a1a1a" stroke-width="0.3">(a)</text>
<text x="44.00" y="14.80" font-family="'Liberation Serif', serif" font-size="14" text-anchor="start" fill="#1a1a1a" stroke="#1a1a1a" stroke-width="0.3"><tspan font-style="italic">&#957;</tspan><tspan font-size="8" dy="3">1</tspan><tspan dy="-3">(NO)</tspan></text>
<text x="96.00" y="14.80" font-family="'Liberation Serif', serif" font-size="14" text-anchor="start" fill="#1a1a1a" stroke="#1a1a1a" stroke-width="0.3">Ca(NO<tspan font-size="8" dy="3">3</tspan><tspan dy="-3">)</tspan><tspan font-size="8" dy="3">2</tspan></text>
<text x="204.20" y="14.80" font-family="'Liberation Serif', serif" font-size="14" text-anchor="start" fill="#1a1a1a" stroke="#1a1a1a" stroke-width="0.3">(b)</text>
<text x="226.00" y="14.80" font-family="'Liberation Serif', serif" font-size="14" text-anchor="start" fill="#1a1a1a" stroke="#1a1a1a" stroke-width="0.3"><tspan font-style="italic">&#957;</tspan><tspan font-size="8" dy="3">1</tspan><tspan dy="-3">(NO)</tspan></text>
<text x="278.30" y="14.30" font-family="'Liberation Serif', serif" font-size="14" text-anchor="start" fill="#1a1a1a" stroke="#1a1a1a" stroke-width="0.3">NaNO<tspan font-size="8" dy="3">3</tspan></text>
<text x="93.90" y="490.60" font-family="'Liberation Serif', serif" font-size="6.6" text-anchor="middle" fill="#1a1a1a" stroke="#1a1a1a" stroke-width="0.16" textLength="48" lengthAdjust="spacingAndGlyphs">Raman shift/cm<tspan font-size="3.6" dy="-2.2">&#8722;1</tspan></text>
<text x="269.30" y="490.00" font-family="'Liberation Serif', serif" font-size="6.6" text-anchor="middle" fill="#1a1a1a" stroke="#1a1a1a" stroke-width="0.16" textLength="48" lengthAdjust="spacingAndGlyphs">Raman shift/cm<tspan font-size="3.6" dy="-2.2">&#8722;1</tspan></text>
<rect x="377.6" y="26.4" width="158.89999999999998" height="105.79999999999998" fill="none" stroke="#666" stroke-width="1"/>
<path d="M388.19,132.2v-1.8M388.19,26.4v1.8M398.79,132.2v-3.2M398.79,26.4v3.2M409.38,132.2v-1.8M409.38,26.4v1.8M419.97,132.2v-3.2M419.97,26.4v3.2M430.57,132.2v-1.8M430.57,26.4v1.8M441.16,132.2v-3.2M441.16,26.4v3.2M451.75,132.2v-1.8M451.75,26.4v1.8M462.35,132.2v-3.2M462.35,26.4v3.2M472.94,132.2v-1.8M472.94,26.4v1.8M483.53,132.2v-3.2M483.53,26.4v3.2M494.13,132.2v-1.8M494.13,26.4v1.8M504.72,132.2v-3.2M504.72,26.4v3.2M515.31,132.2v-1.8M515.31,26.4v1.8M525.91,132.2v-3.2M525.91,26.4v3.2M377.6,111.04h1.8M536.5,111.04h-1.8M377.6,89.88h3.4M536.5,89.88h-3.4M377.6,68.72h1.8M536.5,68.72h-1.8M377.6,47.56h3.4M536.5,47.56h-3.4" stroke="#666" stroke-width="0.8" fill="none"/>
<text x="377.60" y="142.00" font-family="'Liberation Serif', serif" font-size="11.6" text-anchor="middle" fill="#1a1a1a" stroke="#1a1a1a" stroke-width="0.18">0</text>
<text x="398.79" y="142.00" font-family="'Liberation Serif', serif" font-size="11.6" text-anchor="middle" fill="#1a1a1a" stroke="#1a1a1a" stroke-width="0.18">50</text>
<text x="419.97" y="142.00" font-family="'Liberation Serif', serif" font-size="11.6" text-anchor="middle" fill="#1a1a1a" stroke="#1a1a1a" stroke-width="0.18">100</text>
<text x="441.16" y="142.00" font-family="'Liberation Serif', serif" font-size="11.6" text-anchor="middle" fill="#1a1a1a" stroke="#1a1a1a" stroke-width="0.18">150</text>
<text x="462.35" y="142.00" font-family="'Liberation Serif', serif" font-size="11.6" text-anchor="middle" fill="#1a1a1a" stroke="#1a1a1a" stroke-width="0.18">200</text>
<text x="483.53" y="142.00" font-family="'Liberation Serif', serif" font-size="11.6" text-anchor="middle" fill="#1a1a1a" stroke="#1a1a1a" stroke-width="0.18">250</text>
<text x="504.72" y="142.00" font-family="'Liberation Serif', serif" font-size="11.6" text-anchor="middle" fill="#1a1a1a" stroke="#1a1a1a" stroke-width="0.18">300</text>
<text x="525.91" y="142.00" font-family="'Liberation Serif', serif" font-size="11.6" text-anchor="middle" fill="#1a1a1a" stroke="#1a1a1a" stroke-width="0.18">350</text>
<text x="375.60" y="135.60" font-family="'Liberation Serif', serif" font-size="11.6" text-anchor="end" fill="#1a1a1a" stroke="#1a1a1a" stroke-width="0.18">1030</text>
<text x="375.60" y="93.28" font-family="'Liberation Serif', serif" font-size="11.6" text-anchor="end" fill="#1a1a1a" stroke="#1a1a1a" stroke-width="0.18">1040</text>
<text x="375.60" y="50.96" font-family="'Liberation Serif', serif" font-size="11.6" text-anchor="end" fill="#1a1a1a" stroke="#1a1a1a" stroke-width="0.18">1050</text>
<circle cx="388.19" cy="58.50" r="2.5" fill="#f81cf8"/>
<circle cx="398.79" cy="58.50" r="2.5" fill="#f81cf8"/>
<circle cx="409.38" cy="57.50" r="2.5" fill="#f81cf8"/>
<circle cx="419.97" cy="58.80" r="2.5" fill="#f81cf8"/>
<circle cx="430.57" cy="58.80" r="2.5" fill="#f81cf8"/>
<circle cx="441.16" cy="61.00" r="2.5" fill="#f81cf8"/>
<circle cx="451.75" cy="61.00" r="2.5" fill="#f81cf8"/>
<circle cx="462.35" cy="64.50" r="2.5" fill="#f81cf8"/>
<circle cx="472.94" cy="65.80" r="2.5" fill="#f81cf8"/>
<circle cx="483.53" cy="68.40" r="2.5" fill="#f81cf8"/>
<circle cx="494.13" cy="69.30" r="2.5" fill="#f81cf8"/>
<circle cx="504.72" cy="72.80" r="2.5" fill="#f81cf8"/>
<circle cx="515.31" cy="84.60" r="2.5" fill="#f81cf8"/>
<circle cx="525.91" cy="77.60" r="2.5" fill="#f81cf8"/>
<path d="M388.19,65.00L391.09,70.20L385.29,70.20Z" fill="#078714"/>
<path d="M398.79,67.30L401.69,72.50L395.89,72.50Z" fill="#078714"/>
<path d="M409.38,67.60L412.28,72.80L406.48,72.80Z" fill="#078714"/>
<path d="M419.97,70.10L422.87,75.30L417.07,75.30Z" fill="#078714"/>
<path d="M430.57,71.10L433.47,76.30L427.67,76.30Z" fill="#078714"/>
<path d="M441.16,73.00L444.06,78.20L438.26,78.20Z" fill="#078714"/>
<path d="M451.75,74.30L454.65,79.50L448.85,79.50Z" fill="#078714"/>
<path d="M462.35,76.50L465.25,81.70L459.45,81.70Z" fill="#078714"/>
<path d="M472.94,77.10L475.84,82.30L470.04,82.30Z" fill="#078714"/>
<path d="M483.53,80.60L486.43,85.80L480.63,85.80Z" fill="#078714"/>
<path d="M494.13,82.20L497.03,87.40L491.23,87.40Z" fill="#078714"/>
<path d="M504.72,84.50L507.62,89.70L501.82,89.70Z" fill="#078714"/>
<path d="M515.31,86.40L518.21,91.60L512.41,91.60Z" fill="#078714"/>
<path d="M525.91,89.20L528.81,94.40L523.01,94.40Z" fill="#078714"/>
<rect x="375.2" y="167.9" width="162.50000000000006" height="107.70000000000002" fill="none" stroke="#666" stroke-width="1"/>
<path d="M385.92,275.6v-1.8M385.92,167.9v1.8M396.64,275.6v-3.2M396.64,167.9v3.2M407.36,275.6v-1.8M407.36,167.9v1.8M418.08,275.6v-3.2M418.08,167.9v3.2M428.79,275.6v-1.8M428.79,167.9v1.8M439.51,275.6v-3.2M439.51,167.9v3.2M450.23,275.6v-1.8M450.23,167.9v1.8M460.95,275.6v-3.2M460.95,167.9v3.2M471.67,275.6v-1.8M471.67,167.9v1.8M482.39,275.6v-3.2M482.39,167.9v3.2M493.11,275.6v-1.8M493.11,167.9v1.8M503.83,275.6v-3.2M503.83,167.9v3.2M514.55,275.6v-1.8M514.55,167.9v1.8M525.27,275.6v-3.2M525.27,167.9v3.2M535.98,275.6v-1.8M535.98,167.9v1.8M375.2,257.65h1.8M537.7,257.65h-1.8M375.2,239.70h3.4M537.7,239.70h-3.4M375.2,221.75h1.8M537.7,221.75h-1.8M375.2,203.80h3.4M537.7,203.80h-3.4M375.2,185.85h1.8M537.7,185.85h-1.8" stroke="#666" stroke-width="0.8" fill="none"/>
<text x="375.20" y="284.50" font-family="'Liberation Serif', serif" font-size="11.6" text-anchor="middle" fill="#1a1a1a" stroke="#1a1a1a" stroke-width="0.18">0</text>
<text x="396.64" y="284.50" font-family="'Liberation Serif', serif" font-size="11.6" text-anchor="middle" fill="#1a1a1a" stroke="#1a1a1a" stroke-width="0.18">50</text>
<text x="418.08" y="284.50" font-family="'Liberation Serif', serif" font-size="11.6" text-anchor="middle" fill="#1a1a1a" stroke="#1a1a1a" stroke-width="0.18">100</text>
<text x="439.51" y="284.50" font-family="'Liberation Serif', serif" font-size="11.6" text-anchor="middle" fill="#1a1a1a" stroke="#1a1a1a" stroke-width="0.18">150</text>
<text x="460.95" y="284.50" font-family="'Liberation Serif', serif" font-size="11.6" text-anchor="middle" fill="#1a1a1a" stroke="#1a1a1a" stroke-width="0.18">200</text>
<text x="482.39" y="284.50" font-family="'Liberation Serif', serif" font-size="11.6" text-anchor="middle" fill="#1a1a1a" stroke="#1a1a1a" stroke-width="0.18">250</text>
<text x="503.83" y="284.50" font-family="'Liberation Serif', serif" font-size="11.6" text-anchor="middle" fill="#1a1a1a" stroke="#1a1a1a" stroke-width="0.18">300</text>
<text x="525.27" y="284.50" font-family="'Liberation Serif', serif" font-size="11.6" text-anchor="middle" fill="#1a1a1a" stroke="#1a1a1a" stroke-width="0.18">350</text>
<text x="373.00" y="279.00" font-family="'Liberation Serif', serif" font-size="11.6" text-anchor="end" fill="#1a1a1a" stroke="#1a1a1a" stroke-width="0.18">5</text>
<text x="373.00" y="243.10" font-family="'Liberation Serif', serif" font-size="11.6" text-anchor="end" fill="#1a1a1a" stroke="#1a1a1a" stroke-width="0.18">10</text>
<text x="373.00" y="207.20" font-family="'Liberation Serif', serif" font-size="11.6" text-anchor="end" fill="#1a1a1a" stroke="#1a1a1a" stroke-width="0.18">15</text>
<text x="373.00" y="171.30" font-family="'Liberation Serif', serif" font-size="11.6" text-anchor="end" fill="#1a1a1a" stroke="#1a1a1a" stroke-width="0.18">20</text>
<circle cx="385.92" cy="251.00" r="2.5" fill="#f81cf8"/>
<circle cx="396.64" cy="255.40" r="2.5" fill="#f81cf8"/>
<circle cx="407.36" cy="256.70" r="2.5" fill="#f81cf8"/>
<circle cx="418.08" cy="256.40" r="2.5" fill="#f81cf8"/>
<circle cx="428.79" cy="252.30" r="2.5" fill="#f81cf8"/>
<circle cx="439.51" cy="251.30" r="2.5" fill="#f81cf8"/>
<circle cx="450.23" cy="253.50" r="2.5" fill="#f81cf8"/>
<circle cx="460.95" cy="244.00" r="2.5" fill="#f81cf8"/>
<circle cx="471.67" cy="234.50" r="2.5" fill="#f81cf8"/>
<circle cx="482.39" cy="234.80" r="2.5" fill="#f81cf8"/>
<circle cx="493.11" cy="229.70" r="2.5" fill="#f81cf8"/>
<circle cx="503.83" cy="231.30" r="2.5" fill="#f81cf8"/>
<circle cx="514.55" cy="228.70" r="2.5" fill="#f81cf8"/>
<circle cx="525.27" cy="208.00" r="2.5" fill="#f81cf8"/>
<path d="M385.92,254.00L388.82,259.20L383.02,259.20Z" fill="#078714"/>
<path d="M396.64,257.90L399.54,263.10L393.74,263.10Z" fill="#078714"/>
<path d="M407.36,255.30L410.26,260.50L404.46,260.50Z" fill="#078714"/>
<path d="M418.08,254.00L420.98,259.20L415.18,259.20Z" fill="#078714"/>
<path d="M428.79,252.40L431.69,257.60L425.89,257.60Z" fill="#078714"/>
<path d="M439.51,252.80L442.41,258.00L436.61,258.00Z" fill="#078714"/>
<path d="M450.23,247.70L453.13,252.90L447.33,252.90Z" fill="#078714"/>
<path d="M460.95,245.50L463.85,250.70L458.05,250.70Z" fill="#078714"/>
<path d="M471.67,240.40L474.57,245.60L468.77,245.60Z" fill="#078714"/>
<path d="M482.39,238.10L485.29,243.30L479.49,243.30Z" fill="#078714"/>
<path d="M493.11,232.10L496.01,237.30L490.21,237.30Z" fill="#078714"/>
<path d="M503.83,228.60L506.73,233.80L500.93,233.80Z" fill="#078714"/>
<path d="M514.55,215.50L517.45,220.70L511.65,220.70Z" fill="#078714"/>
<path d="M525.27,208.90L528.17,214.10L522.37,214.10Z" fill="#078714"/>
<rect x="380.4" y="322.9" width="157.30000000000007" height="108.30000000000001" fill="none" stroke="#666" stroke-width="1"/>
<path d="M391.29,431.2v-1.8M391.29,322.9v1.8M402.19,431.2v-3.2M402.19,322.9v3.2M413.08,431.2v-1.8M413.08,322.9v1.8M423.97,431.2v-3.2M423.97,322.9v3.2M434.87,431.2v-1.8M434.87,322.9v1.8M445.76,431.2v-3.2M445.76,322.9v3.2M456.65,431.2v-1.8M456.65,322.9v1.8M467.55,431.2v-3.2M467.55,322.9v3.2M478.44,431.2v-1.8M478.44,322.9v1.8M489.33,431.2v-3.2M489.33,322.9v3.2M500.23,431.2v-1.8M500.23,322.9v1.8M511.12,431.2v-3.2M511.12,322.9v3.2M522.01,431.2v-1.8M522.01,322.9v1.8M532.91,431.2v-3.2M532.91,322.9v3.2M380.4,420.37h1.8M537.7,420.37h-1.8M380.4,409.54h3.4M537.7,409.54h-3.4M380.4,398.71h1.8M537.7,398.71h-1.8M380.4,387.88h3.4M537.7,387.88h-3.4M380.4,377.05h1.8M537.7,377.05h-1.8M380.4,366.22h3.4M537.7,366.22h-3.4M380.4,355.39h1.8M537.7,355.39h-1.8M380.4,344.56h3.4M537.7,344.56h-3.4M380.4,333.73h1.8M537.7,333.73h-1.8" stroke="#666" stroke-width="0.8" fill="none"/>
<text x="380.40" y="441.90" font-family="'Liberation Serif', serif" font-size="11.6" text-anchor="middle" fill="#1a1a1a" stroke="#1a1a1a" stroke-width="0.18">0</text>
<text x="402.19" y="441.90" font-family="'Liberation Serif', serif" font-size="11.6" text-anchor="middle" fill="#1a1a1a" stroke="#1a1a1a" stroke-width="0.18">50</text>
<text x="423.97" y="441.90" font-family="'Liberation Serif', serif" font-size="11.6" text-anchor="middle" fill="#1a1a1a" stroke="#1a1a1a" stroke-width="0.18">100</text>
<text x="445.76" y="441.90" font-family="'Liberation Serif', serif" font-size="11.6" text-anchor="middle" fill="#1a1a1a" stroke="#1a1a1a" stroke-width="0.18">150</text>
<text x="467.55" y="441.90" font-family="'Liberation Serif', serif" font-size="11.6" text-anchor="middle" fill="#1a1a1a" stroke="#1a1a1a" stroke-width="0.18">200</text>
<text x="489.33" y="441.90" font-family="'Liberation Serif', serif" font-size="11.6" text-anchor="middle" fill="#1a1a1a" stroke="#1a1a1a" stroke-width="0.18">250</text>
<text x="511.12" y="441.90" font-family="'Liberation Serif', serif" font-size="11.6" text-anchor="middle" fill="#1a1a1a" stroke="#1a1a1a" stroke-width="0.18">300</text>
<text x="532.91" y="441.90" font-family="'Liberation Serif', serif" font-size="11.6" text-anchor="middle" fill="#1a1a1a" stroke="#1a1a1a" stroke-width="0.18">350</text>
<text x="377.70" y="434.60" font-family="'Liberation Serif', serif" font-size="11.6" text-anchor="end" fill="#1a1a1a" stroke="#1a1a1a" stroke-width="0.18">-500</text>
<text x="377.70" y="412.94" font-family="'Liberation Serif', serif" font-size="11.6" text-anchor="end" fill="#1a1a1a" stroke="#1a1a1a" stroke-width="0.18">0</text>
<text x="377.70" y="391.28" font-family="'Liberation Serif', serif" font-size="11.6" text-anchor="end" fill="#1a1a1a" stroke="#1a1a1a" stroke-width="0.18">500</text>
<text x="377.70" y="369.62" font-family="'Liberation Serif', serif" font-size="11.6" text-anchor="end" fill="#1a1a1a" stroke="#1a1a1a" stroke-width="0.18">1000</text>
<text x="377.70" y="347.96" font-family="'Liberation Serif', serif" font-size="11.6" text-anchor="end" fill="#1a1a1a" stroke="#1a1a1a" stroke-width="0.18">1500</text>
<text x="377.70" y="326.30" font-family="'Liberation Serif', serif" font-size="11.6" text-anchor="end" fill="#1a1a1a" stroke="#1a1a1a" stroke-width="0.18">2000</text>
<circle cx="391.29" cy="351.70" r="2.5" fill="#f81cf8"/>
<circle cx="402.19" cy="355.20" r="2.5" fill="#f81cf8"/>
<circle cx="413.08" cy="358.00" r="2.5" fill="#f81cf8"/>
<circle cx="423.97" cy="360.60" r="2.5" fill="#f81cf8"/>
<circle cx="434.87" cy="364.40" r="2.5" fill="#f81cf8"/>
<circle cx="445.76" cy="365.00" r="2.5" fill="#f81cf8"/>
<circle cx="456.65" cy="367.00" r="2.5" fill="#f81cf8"/>
<circle cx="467.55" cy="371.40" r="2.5" fill="#f81cf8"/>
<circle cx="478.44" cy="375.20" r="2.5" fill="#f81cf8"/>
<circle cx="489.33" cy="400.00" r="2.5" fill="#f81cf8"/>
<circle cx="500.23" cy="403.50" r="2.5" fill="#f81cf8"/>
<circle cx="511.12" cy="405.40" r="2.5" fill="#f81cf8"/>
<circle cx="522.01" cy="408.30" r="2.5" fill="#f81cf8"/>
<circle cx="532.91" cy="407.40" r="2.5" fill="#f81cf8"/>
<path d="M391.29,393.50L394.19,398.70L388.39,398.70Z" fill="#078714"/>
<path d="M402.19,394.50L405.09,399.70L399.29,399.70Z" fill="#078714"/>
<path d="M413.08,395.10L415.98,400.30L410.18,400.30Z" fill="#078714"/>
<path d="M423.97,396.40L426.87,401.60L421.07,401.60Z" fill="#078714"/>
<path d="M434.87,397.00L437.77,402.20L431.97,402.20Z" fill="#078714"/>
<path d="M445.76,398.30L448.66,403.50L442.86,403.50Z" fill="#078714"/>
<path d="M456.65,399.00L459.55,404.20L453.75,404.20Z" fill="#078714"/>
<path d="M467.55,399.60L470.45,404.80L464.65,404.80Z" fill="#078714"/>
<path d="M478.44,400.20L481.34,405.40L475.54,405.40Z" fill="#078714"/>
<path d="M489.33,401.50L492.23,406.70L486.43,406.70Z" fill="#078714"/>
<path d="M500.23,401.80L503.13,407.00L497.33,407.00Z" fill="#078714"/>
<path d="M511.12,402.80L514.02,408.00L508.22,408.00Z" fill="#078714"/>
<path d="M522.01,403.40L524.91,408.60L519.11,408.60Z" fill="#078714"/>
<path d="M532.91,404.40L535.81,409.60L530.01,409.60Z" fill="#078714"/>
<text x="377.10" y="13.90" font-family="'Liberation Serif', serif" font-size="14" text-anchor="start" fill="#1a1a1a" stroke="#1a1a1a" stroke-width="0.3" textLength="15.4" lengthAdjust="spacingAndGlyphs">(c)</text>
<text x="376.80" y="157.80" font-family="'Liberation Serif', serif" font-size="14" text-anchor="start" fill="#1a1a1a" stroke="#1a1a1a" stroke-width="0.3" textLength="16.4" lengthAdjust="spacingAndGlyphs">(d)</text>
<text x="380.50" y="313.00" font-family="'Liberation Serif', serif" font-size="14" text-anchor="start" fill="#1a1a1a" stroke="#1a1a1a" stroke-width="0.3" textLength="15.4" lengthAdjust="spacingAndGlyphs">(e)</text>
<text x="351.60" y="76.30" font-family="'Liberation Serif', serif" font-size="10.8" text-anchor="middle" fill="#1a1a1a" stroke="#1a1a1a" stroke-width="0.18" transform="rotate(-90 351.60 76.30)" textLength="69" lengthAdjust="spacingAndGlyphs">Raman shift/cm<tspan font-size="7" dy="-4.5">&#8722;1</tspan></text>
<text x="353.20" y="212.70" font-family="'Liberation Serif', serif" font-size="10.8" text-anchor="middle" fill="#1a1a1a" stroke="#1a1a1a" stroke-width="0.18" transform="rotate(-90 353.20 212.70)" textLength="56.5" lengthAdjust="spacingAndGlyphs">FWHM/cm<tspan font-size="7" dy="-4.5">&#8722;1</tspan></text>
<text x="352.20" y="371.20" font-family="'Liberation Serif', serif" font-size="10.8" text-anchor="middle" fill="#1a1a1a" stroke="#1a1a1a" stroke-width="0.18" transform="rotate(-90 352.20 371.20)" textLength="54.5" lengthAdjust="spacingAndGlyphs">Intensityt/a.u.</text>
<text x="424.00" y="160.30" font-family="'Liberation Serif', serif" font-size="10.5" text-anchor="start" fill="#1a1a1a" stroke="#1a1a1a" stroke-width="0.18" textLength="63.7" lengthAdjust="spacingAndGlyphs">Temperature/&#176;C</text>
<text x="431.30" y="300.40" font-family="'Liberation Serif', serif" font-size="10.5" text-anchor="start" fill="#1a1a1a" stroke="#1a1a1a" stroke-width="0.18" textLength="66" lengthAdjust="spacingAndGlyphs">Temperature/ &#176;C</text>
<text x="427.30" y="457.50" font-family="'Liberation Serif', serif" font-size="10.5" text-anchor="start" fill="#1a1a1a" stroke="#1a1a1a" stroke-width="0.18" textLength="65.4" lengthAdjust="spacingAndGlyphs">Temperature/ &#176;C</text>
<text x="398.20" y="42.50" font-family="'Liberation Serif', serif" font-size="10.4" text-anchor="start" fill="#1a1a1a" stroke="#1a1a1a" stroke-width="0.18" textLength="31.8" lengthAdjust="spacingAndGlyphs">40 MPa</text>
<text x="397.20" y="184.20" font-family="'Liberation Serif', serif" font-size="10.4" text-anchor="start" fill="#1a1a1a" stroke="#1a1a1a" stroke-width="0.18" textLength="31.8" lengthAdjust="spacingAndGlyphs">40 MPa</text>
<text x="401.00" y="339.20" font-family="'Liberation Serif', serif" font-size="10.4" text-anchor="start" fill="#1a1a1a" stroke="#1a1a1a" stroke-width="0.18" textLength="32.2" lengthAdjust="spacingAndGlyphs">40 MPa</text>
<text x="463.60" y="42.50" font-family="'Liberation Serif', serif" font-size="10.4" text-anchor="start" fill="#1a1a1a" stroke="#1a1a1a" stroke-width="0.18" textLength="67" lengthAdjust="spacingAndGlyphs">&#957;<tspan font-size="6.5" dy="2.5">1</tspan><tspan dy="-2.5">(NO) Position</tspan></text>
<text x="462.60" y="184.20" font-family="'Liberation Serif', serif" font-size="10.4" text-anchor="start" fill="#1a1a1a" stroke="#1a1a1a" stroke-width="0.18" textLength="64.7" lengthAdjust="spacingAndGlyphs">&#957;<tspan font-size="6.5" dy="2.5">1</tspan><tspan dy="-2.5">(NO) FWHM</tspan></text>
<text x="471.90" y="339.20" font-family="'Liberation Serif', serif" font-size="10.4" text-anchor="start" fill="#1a1a1a" stroke="#1a1a1a" stroke-width="0.18" textLength="51.8" lengthAdjust="spacingAndGlyphs">&#957;<tspan font-size="6.5" dy="2.5">1</tspan><tspan dy="-2.5">(NO) Area</tspan></text>
<text x="400.00" y="99.80" font-family="'Liberation Serif', serif" font-size="10.4" text-anchor="start" fill="#f030f0" stroke="#f030f0" stroke-width="0.18" textLength="39.5" lengthAdjust="spacingAndGlyphs">Ca(NO<tspan font-size="6.8" dy="2.8">3</tspan><tspan dy="-2.8">)</tspan><tspan font-size="6.8" dy="2.8">2</tspan></text>
<text x="400.90" y="113.90" font-family="'Liberation Serif', serif" font-size="10.4" text-anchor="start" fill="#14962a" stroke="#14962a" stroke-width="0.18" textLength="30" lengthAdjust="spacingAndGlyphs">NaNO<tspan font-size="6.8" dy="2.8">3</tspan></text>
<text x="396.40" y="206.30" font-family="'Liberation Serif', serif" font-size="10.4" text-anchor="start" fill="#f030f0" stroke="#f030f0" stroke-width="0.18" textLength="39.6" lengthAdjust="spacingAndGlyphs">Ca(NO<tspan font-size="6.8" dy="2.8">3</tspan><tspan dy="-2.8">)</tspan><tspan font-size="6.8" dy="2.8">2</tspan></text>
<text x="398.30" y="221.80" font-family="'Liberation Serif', serif" font-size="10.4" text-anchor="start" fill="#14962a" stroke="#14962a" stroke-width="0.18" textLength="30.7" lengthAdjust="spacingAndGlyphs">NaNO<tspan font-size="6.8" dy="2.8">3</tspan></text>
<text x="481.70" y="358.30" font-family="'Liberation Serif', serif" font-size="10.4" text-anchor="start" fill="#f030f0" stroke="#f030f0" stroke-width="0.18" textLength="40.1" lengthAdjust="spacingAndGlyphs">Ca(NO<tspan font-size="6.8" dy="2.8">3</tspan><tspan dy="-2.8">)</tspan><tspan font-size="6.8" dy="2.8">2</tspan></text>
<text x="481.70" y="371.40" font-family="'Liberation Serif', serif" font-size="10.4" text-anchor="start" fill="#14962a" stroke="#14962a" stroke-width="0.18" textLength="30" lengthAdjust="spacingAndGlyphs">NaNO<tspan font-size="6.8" dy="2.8">3</tspan></text>
</svg></body></html>
